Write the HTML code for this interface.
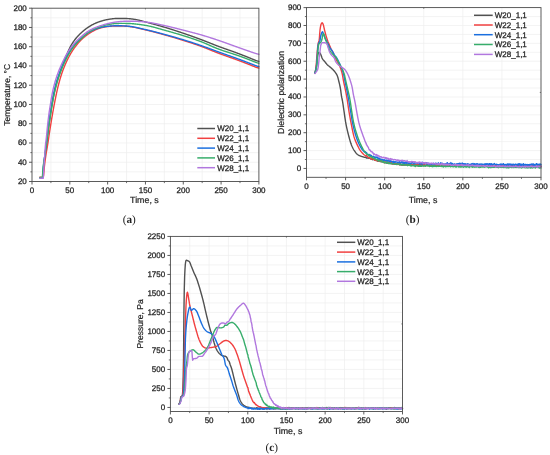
<!DOCTYPE html>
<html><head><meta charset="utf-8"><title>Figure</title>
<style>
html,body{margin:0;padding:0;background:#fff;}
svg{display:block;text-rendering:geometricPrecision;}
.t{font-family:"Liberation Sans",Arial,sans-serif;font-size:8px;fill:#262626;stroke:#262626;stroke-width:0.28px;}
.l{font-family:"Liberation Sans",Arial,sans-serif;font-size:8.85px;fill:#262626;stroke:#262626;stroke-width:0.22px;}
.c{font-family:"Liberation Serif","Times New Roman",serif;font-size:11.2px;fill:#222;}
</style></head><body>
<svg width="550" height="455" viewBox="0 0 550 455">
<defs>
<clipPath id="ca"><rect x="32.00" y="8.20" width="227.90" height="173.30"/></clipPath>
<clipPath id="cb"><rect x="306.50" y="7.60" width="235.50" height="169.70"/></clipPath>
<clipPath id="cc"><rect x="170.40" y="236.40" width="233.10" height="175.05"/></clipPath>
</defs>
<rect width="550" height="455" fill="#fff"/>
<!-- chart a -->
<line x1="50.91" y1="8.20" x2="50.91" y2="181.50" stroke="#eeeeee" stroke-width="0.7"/>
<line x1="69.82" y1="8.20" x2="69.82" y2="181.50" stroke="#eeeeee" stroke-width="0.7"/>
<line x1="88.72" y1="8.20" x2="88.72" y2="181.50" stroke="#eeeeee" stroke-width="0.7"/>
<line x1="107.63" y1="8.20" x2="107.63" y2="181.50" stroke="#eeeeee" stroke-width="0.7"/>
<line x1="126.54" y1="8.20" x2="126.54" y2="181.50" stroke="#eeeeee" stroke-width="0.7"/>
<line x1="145.45" y1="8.20" x2="145.45" y2="181.50" stroke="#eeeeee" stroke-width="0.7"/>
<line x1="164.36" y1="8.20" x2="164.36" y2="181.50" stroke="#eeeeee" stroke-width="0.7"/>
<line x1="183.27" y1="8.20" x2="183.27" y2="181.50" stroke="#eeeeee" stroke-width="0.7"/>
<line x1="202.17" y1="8.20" x2="202.17" y2="181.50" stroke="#eeeeee" stroke-width="0.7"/>
<line x1="221.08" y1="8.20" x2="221.08" y2="181.50" stroke="#eeeeee" stroke-width="0.7"/>
<line x1="239.99" y1="8.20" x2="239.99" y2="181.50" stroke="#eeeeee" stroke-width="0.7"/>
<line x1="32.00" y1="171.87" x2="258.90" y2="171.87" stroke="#eeeeee" stroke-width="0.7"/>
<line x1="32.00" y1="162.24" x2="258.90" y2="162.24" stroke="#eeeeee" stroke-width="0.7"/>
<line x1="32.00" y1="152.62" x2="258.90" y2="152.62" stroke="#eeeeee" stroke-width="0.7"/>
<line x1="32.00" y1="142.99" x2="258.90" y2="142.99" stroke="#eeeeee" stroke-width="0.7"/>
<line x1="32.00" y1="133.36" x2="258.90" y2="133.36" stroke="#eeeeee" stroke-width="0.7"/>
<line x1="32.00" y1="123.73" x2="258.90" y2="123.73" stroke="#eeeeee" stroke-width="0.7"/>
<line x1="32.00" y1="114.11" x2="258.90" y2="114.11" stroke="#eeeeee" stroke-width="0.7"/>
<line x1="32.00" y1="104.48" x2="258.90" y2="104.48" stroke="#eeeeee" stroke-width="0.7"/>
<line x1="32.00" y1="94.85" x2="258.90" y2="94.85" stroke="#eeeeee" stroke-width="0.7"/>
<line x1="32.00" y1="85.22" x2="258.90" y2="85.22" stroke="#eeeeee" stroke-width="0.7"/>
<line x1="32.00" y1="75.59" x2="258.90" y2="75.59" stroke="#eeeeee" stroke-width="0.7"/>
<line x1="32.00" y1="65.97" x2="258.90" y2="65.97" stroke="#eeeeee" stroke-width="0.7"/>
<line x1="32.00" y1="56.34" x2="258.90" y2="56.34" stroke="#eeeeee" stroke-width="0.7"/>
<line x1="32.00" y1="46.71" x2="258.90" y2="46.71" stroke="#eeeeee" stroke-width="0.7"/>
<line x1="32.00" y1="37.08" x2="258.90" y2="37.08" stroke="#eeeeee" stroke-width="0.7"/>
<line x1="32.00" y1="27.46" x2="258.90" y2="27.46" stroke="#eeeeee" stroke-width="0.7"/>
<line x1="32.00" y1="17.83" x2="258.90" y2="17.83" stroke="#eeeeee" stroke-width="0.7"/>
<g clip-path="url(#ca)">
<path d="M40.02 178.03 L40.42 178.03 L40.82 178.03 L41.22 178.03 L41.62 178.03 L42.02 178.03 L42.42 178.03 L42.82 178.03 L43.22 174.65 L43.62 166.55 L44.02 162.79 L44.42 159.92 L44.82 157.35 L45.22 154.49 L45.62 151.40 L46.02 148.30 L46.42 145.17 L46.82 141.99 L47.22 138.72 L47.62 135.31 L48.02 131.92 L48.42 128.66 L48.82 125.58 L49.22 122.71 L49.62 120.03 L50.02 117.46 L50.42 114.79 L50.82 112.12 L51.22 109.54 L51.62 107.04 L52.02 104.64 L52.42 102.33 L52.82 100.10 L53.22 97.97 L53.62 95.93 L54.02 93.97 L54.42 92.10 L54.82 90.31 L55.22 88.59 L55.62 86.95 L56.02 85.38 L56.42 83.87 L56.82 82.42 L57.22 81.03 L57.62 79.68 L58.02 78.37 L58.42 77.10 L58.82 75.87 L59.22 74.66 L59.62 73.48 L60.02 72.32 L60.42 71.18 L60.82 70.05 L61.22 68.94 L61.62 67.84 L62.02 66.75 L62.42 65.67 L62.82 64.60 L63.22 63.54 L63.62 62.48 L64.02 61.44 L64.42 60.40 L64.82 59.38 L65.22 58.36 L65.62 57.35 L66.02 56.36 L66.42 55.38 L66.82 54.41 L67.22 53.46 L67.62 52.53 L68.02 51.62 L68.42 50.73 L68.82 49.86 L69.22 49.02 L69.62 48.20 L70.02 47.41 L70.42 46.65 L70.82 45.91 L71.22 45.20 L71.62 44.51 L72.02 43.85 L72.42 43.21 L72.82 42.59 L73.22 41.99 L73.62 41.41 L74.02 40.85 L74.42 40.30 L74.82 39.77 L75.22 39.26 L75.62 38.76 L76.02 38.27 L76.42 37.79 L76.82 37.32 L77.22 36.87 L77.62 36.42 L78.02 35.99 L78.42 35.56 L78.82 35.15 L79.22 34.74 L79.62 34.34 L80.02 33.95 L80.42 33.56 L80.82 33.19 L81.22 32.82 L81.62 32.45 L82.02 32.09 L82.42 31.74 L82.82 31.39 L83.22 31.05 L83.62 30.71 L84.02 30.38 L84.42 30.06 L84.82 29.73 L85.22 29.42 L85.62 29.11 L86.02 28.81 L86.42 28.51 L86.82 28.22 L87.22 27.93 L87.62 27.65 L88.02 27.38 L88.42 27.11 L88.82 26.85 L89.22 26.59 L89.62 26.34 L90.02 26.10 L90.42 25.86 L90.82 25.63 L91.22 25.40 L91.62 25.17 L92.02 24.95 L92.42 24.74 L92.82 24.53 L93.22 24.32 L93.62 24.12 L94.02 23.92 L94.42 23.73 L94.82 23.54 L95.22 23.36 L95.62 23.18 L96.02 23.01 L96.42 22.84 L96.82 22.67 L97.22 22.51 L97.62 22.35 L98.02 22.20 L98.42 22.05 L98.82 21.90 L99.22 21.76 L99.62 21.62 L100.02 21.48 L100.42 21.35 L100.82 21.22 L101.22 21.10 L101.62 20.97 L102.02 20.85 L102.42 20.74 L102.82 20.62 L103.22 20.51 L103.62 20.41 L104.02 20.30 L104.42 20.20 L104.82 20.10 L105.22 20.01 L105.62 19.92 L106.02 19.83 L106.42 19.75 L106.82 19.67 L107.22 19.59 L107.62 19.52 L108.02 19.44 L108.42 19.37 L108.82 19.31 L109.22 19.24 L109.62 19.18 L110.02 19.11 L110.42 19.06 L110.82 19.00 L111.22 18.94 L111.62 18.89 L112.02 18.84 L112.42 18.79 L112.82 18.75 L113.22 18.71 L113.62 18.67 L114.02 18.63 L114.42 18.60 L114.82 18.57 L115.22 18.54 L115.62 18.52 L116.02 18.50 L116.42 18.48 L116.82 18.47 L117.22 18.45 L117.62 18.45 L118.02 18.44 L118.42 18.43 L118.82 18.43 L119.22 18.43 L119.62 18.43 L120.02 18.43 L120.42 18.43 L120.82 18.43 L121.22 18.43 L121.62 18.44 L122.02 18.44 L122.42 18.45 L122.82 18.45 L123.22 18.46 L123.62 18.46 L124.02 18.47 L124.42 18.48 L124.82 18.49 L125.22 18.50 L125.62 18.51 L126.02 18.52 L126.42 18.54 L126.82 18.55 L127.22 18.57 L127.62 18.59 L128.02 18.62 L128.42 18.64 L128.82 18.67 L129.22 18.70 L129.62 18.74 L130.02 18.77 L130.42 18.81 L130.82 18.85 L131.22 18.90 L131.62 18.94 L132.02 18.99 L132.42 19.04 L132.82 19.09 L133.22 19.15 L133.62 19.20 L134.02 19.26 L134.42 19.32 L134.82 19.39 L135.22 19.45 L135.62 19.52 L136.02 19.59 L136.42 19.67 L136.82 19.75 L137.22 19.83 L137.62 19.91 L138.02 20.00 L138.42 20.09 L138.82 20.18 L139.22 20.28 L139.62 20.38 L140.02 20.48 L140.42 20.58 L140.82 20.69 L141.22 20.79 L141.62 20.90 L142.02 21.01 L142.42 21.12 L142.82 21.23 L143.22 21.34 L143.62 21.45 L144.02 21.56 L144.42 21.67 L144.82 21.78 L145.22 21.89 L145.62 22.00 L146.02 22.11 L146.42 22.21 L146.82 22.32 L147.22 22.43 L147.62 22.54 L148.02 22.64 L148.42 22.75 L148.82 22.86 L149.22 22.96 L149.62 23.07 L150.02 23.18 L150.42 23.28 L150.82 23.39 L151.22 23.50 L151.62 23.61 L152.02 23.71 L152.42 23.82 L152.82 23.93 L153.22 24.04 L153.62 24.15 L154.02 24.25 L154.42 24.36 L154.82 24.47 L155.22 24.58 L155.62 24.69 L156.02 24.80 L156.42 24.91 L156.82 25.02 L157.22 25.13 L157.62 25.24 L158.02 25.35 L158.42 25.47 L158.82 25.58 L159.22 25.69 L159.62 25.80 L160.02 25.92 L160.42 26.03 L160.82 26.15 L161.22 26.26 L161.62 26.38 L162.02 26.49 L162.42 26.61 L162.82 26.72 L163.22 26.84 L163.62 26.96 L164.02 27.08 L164.42 27.19 L164.82 27.31 L165.22 27.43 L165.62 27.55 L166.02 27.67 L166.42 27.79 L166.82 27.91 L167.22 28.04 L167.62 28.16 L168.02 28.28 L168.42 28.40 L168.82 28.53 L169.22 28.65 L169.62 28.78 L170.02 28.90 L170.42 29.03 L170.82 29.15 L171.22 29.28 L171.62 29.41 L172.02 29.53 L172.42 29.66 L172.82 29.79 L173.22 29.92 L173.62 30.05 L174.02 30.17 L174.42 30.30 L174.82 30.43 L175.22 30.56 L175.62 30.69 L176.02 30.82 L176.42 30.95 L176.82 31.09 L177.22 31.22 L177.62 31.35 L178.02 31.48 L178.42 31.61 L178.82 31.75 L179.22 31.88 L179.62 32.01 L180.02 32.15 L180.42 32.28 L180.82 32.41 L181.22 32.55 L181.62 32.68 L182.02 32.82 L182.42 32.95 L182.82 33.09 L183.22 33.22 L183.62 33.36 L184.02 33.49 L184.42 33.63 L184.82 33.76 L185.22 33.90 L185.62 34.04 L186.02 34.17 L186.42 34.31 L186.82 34.45 L187.22 34.59 L187.62 34.73 L188.02 34.86 L188.42 35.00 L188.82 35.14 L189.22 35.28 L189.62 35.42 L190.02 35.56 L190.42 35.70 L190.82 35.84 L191.22 35.99 L191.62 36.13 L192.02 36.27 L192.42 36.41 L192.82 36.55 L193.22 36.70 L193.62 36.84 L194.02 36.98 L194.42 37.13 L194.82 37.27 L195.22 37.42 L195.62 37.56 L196.02 37.70 L196.42 37.85 L196.82 38.00 L197.22 38.14 L197.62 38.29 L198.02 38.44 L198.42 38.58 L198.82 38.73 L199.22 38.88 L199.62 39.03 L200.02 39.17 L200.42 39.32 L200.82 39.47 L201.22 39.62 L201.62 39.77 L202.02 39.92 L202.42 40.08 L202.82 40.23 L203.22 40.38 L203.62 40.53 L204.02 40.69 L204.42 40.84 L204.82 41.00 L205.22 41.16 L205.62 41.31 L206.02 41.47 L206.42 41.63 L206.82 41.79 L207.22 41.94 L207.62 42.10 L208.02 42.26 L208.42 42.42 L208.82 42.58 L209.22 42.74 L209.62 42.90 L210.02 43.06 L210.42 43.22 L210.82 43.38 L211.22 43.54 L211.62 43.70 L212.02 43.86 L212.42 44.02 L212.82 44.18 L213.22 44.34 L213.62 44.50 L214.02 44.66 L214.42 44.81 L214.82 44.97 L215.22 45.12 L215.62 45.28 L216.02 45.43 L216.42 45.59 L216.82 45.74 L217.22 45.89 L217.62 46.04 L218.02 46.20 L218.42 46.35 L218.82 46.49 L219.22 46.64 L219.62 46.79 L220.02 46.94 L220.42 47.09 L220.82 47.23 L221.22 47.38 L221.62 47.52 L222.02 47.67 L222.42 47.81 L222.82 47.95 L223.22 48.10 L223.62 48.24 L224.02 48.38 L224.42 48.53 L224.82 48.67 L225.22 48.81 L225.62 48.95 L226.02 49.09 L226.42 49.23 L226.82 49.37 L227.22 49.52 L227.62 49.66 L228.02 49.80 L228.42 49.94 L228.82 50.08 L229.22 50.22 L229.62 50.36 L230.02 50.50 L230.42 50.64 L230.82 50.78 L231.22 50.93 L231.62 51.07 L232.02 51.21 L232.42 51.35 L232.82 51.49 L233.22 51.64 L233.62 51.78 L234.02 51.92 L234.42 52.07 L234.82 52.21 L235.22 52.36 L235.62 52.50 L236.02 52.65 L236.42 52.80 L236.82 52.95 L237.22 53.09 L237.62 53.24 L238.02 53.39 L238.42 53.54 L238.82 53.69 L239.22 53.84 L239.62 53.99 L240.02 54.15 L240.42 54.30 L240.82 54.45 L241.22 54.61 L241.62 54.76 L242.02 54.92 L242.42 55.07 L242.82 55.23 L243.22 55.38 L243.62 55.54 L244.02 55.70 L244.42 55.86 L244.82 56.01 L245.22 56.17 L245.62 56.33 L246.02 56.49 L246.42 56.65 L246.82 56.81 L247.22 56.97 L247.62 57.13 L248.02 57.30 L248.42 57.46 L248.82 57.62 L249.22 57.78 L249.62 57.95 L250.02 58.11 L250.42 58.27 L250.82 58.44 L251.22 58.60 L251.62 58.77 L252.02 58.93 L252.42 59.10 L252.82 59.26 L253.22 59.43 L253.62 59.59 L254.02 59.75 L254.42 59.92 L254.82 60.08 L255.22 60.24 L255.62 60.39 L256.02 60.54 L256.42 60.68 L256.82 60.82 L257.22 60.95 L257.62 61.08 L258.02 61.19 L258.42 61.29 L258.82 61.38 L258.90 61.47" fill="none" stroke="#515151" stroke-width="1.40" stroke-linejoin="round" stroke-linecap="round"/>
<path d="M40.02 177.07 L40.42 177.17 L40.82 177.24 L41.22 177.29 L41.62 177.32 L42.02 177.34 L42.42 177.35 L42.82 177.36 L43.22 177.36 L43.62 175.42 L44.02 170.54 L44.42 166.30 L44.82 163.02 L45.22 159.94 L45.62 157.06 L46.02 154.36 L46.42 151.89 L46.82 149.59 L47.22 147.35 L47.62 144.99 L48.02 142.45 L48.42 139.78 L48.82 137.00 L49.22 134.23 L49.62 131.55 L50.02 129.02 L50.42 126.53 L50.82 124.04 L51.22 121.60 L51.62 119.19 L52.02 116.83 L52.42 114.52 L52.82 112.25 L53.22 110.03 L53.62 107.85 L54.02 105.71 L54.42 103.61 L54.82 101.54 L55.22 99.52 L55.62 97.54 L56.02 95.60 L56.42 93.71 L56.82 91.87 L57.22 90.08 L57.62 88.34 L58.02 86.66 L58.42 85.03 L58.82 83.46 L59.22 81.95 L59.62 80.50 L60.02 79.10 L60.42 77.75 L60.82 76.45 L61.22 75.19 L61.62 73.98 L62.02 72.80 L62.42 71.67 L62.82 70.57 L63.22 69.50 L63.62 68.46 L64.02 67.44 L64.42 66.45 L64.82 65.49 L65.22 64.55 L65.62 63.63 L66.02 62.73 L66.42 61.86 L66.82 61.00 L67.22 60.16 L67.62 59.34 L68.02 58.54 L68.42 57.76 L68.82 56.99 L69.22 56.24 L69.62 55.51 L70.02 54.79 L70.42 54.09 L70.82 53.41 L71.22 52.74 L71.62 52.08 L72.02 51.44 L72.42 50.81 L72.82 50.20 L73.22 49.60 L73.62 49.01 L74.02 48.44 L74.42 47.88 L74.82 47.33 L75.22 46.79 L75.62 46.26 L76.02 45.74 L76.42 45.24 L76.82 44.74 L77.22 44.25 L77.62 43.77 L78.02 43.30 L78.42 42.84 L78.82 42.39 L79.22 41.94 L79.62 41.51 L80.02 41.08 L80.42 40.66 L80.82 40.25 L81.22 39.85 L81.62 39.46 L82.02 39.07 L82.42 38.69 L82.82 38.33 L83.22 37.97 L83.62 37.61 L84.02 37.27 L84.42 36.94 L84.82 36.61 L85.22 36.29 L85.62 35.98 L86.02 35.68 L86.42 35.38 L86.82 35.09 L87.22 34.80 L87.62 34.52 L88.02 34.25 L88.42 33.98 L88.82 33.71 L89.22 33.45 L89.62 33.19 L90.02 32.94 L90.42 32.69 L90.82 32.44 L91.22 32.19 L91.62 31.95 L92.02 31.72 L92.42 31.48 L92.82 31.25 L93.22 31.03 L93.62 30.81 L94.02 30.59 L94.42 30.38 L94.82 30.18 L95.22 29.98 L95.62 29.79 L96.02 29.61 L96.42 29.43 L96.82 29.26 L97.22 29.10 L97.62 28.94 L98.02 28.79 L98.42 28.65 L98.82 28.51 L99.22 28.38 L99.62 28.25 L100.02 28.13 L100.42 28.01 L100.82 27.89 L101.22 27.78 L101.62 27.68 L102.02 27.58 L102.42 27.48 L102.82 27.39 L103.22 27.29 L103.62 27.21 L104.02 27.13 L104.42 27.05 L104.82 26.97 L105.22 26.90 L105.62 26.83 L106.02 26.77 L106.42 26.71 L106.82 26.65 L107.22 26.60 L107.62 26.55 L108.02 26.50 L108.42 26.46 L108.82 26.42 L109.22 26.37 L109.62 26.34 L110.02 26.30 L110.42 26.27 L110.82 26.23 L111.22 26.20 L111.62 26.17 L112.02 26.15 L112.42 26.12 L112.82 26.09 L113.22 26.07 L113.62 26.05 L114.02 26.03 L114.42 26.02 L114.82 26.00 L115.22 25.99 L115.62 25.98 L116.02 25.97 L116.42 25.96 L116.82 25.96 L117.22 25.95 L117.62 25.95 L118.02 25.95 L118.42 25.95 L118.82 25.95 L119.22 25.96 L119.62 25.97 L120.02 25.97 L120.42 25.98 L120.82 25.99 L121.22 26.00 L121.62 26.01 L122.02 26.03 L122.42 26.04 L122.82 26.05 L123.22 26.07 L123.62 26.09 L124.02 26.10 L124.42 26.12 L124.82 26.14 L125.22 26.16 L125.62 26.19 L126.02 26.21 L126.42 26.24 L126.82 26.27 L127.22 26.30 L127.62 26.33 L128.02 26.37 L128.42 26.41 L128.82 26.45 L129.22 26.49 L129.62 26.54 L130.02 26.59 L130.42 26.64 L130.82 26.70 L131.22 26.76 L131.62 26.82 L132.02 26.88 L132.42 26.95 L132.82 27.02 L133.22 27.09 L133.62 27.17 L134.02 27.25 L134.42 27.32 L134.82 27.40 L135.22 27.49 L135.62 27.57 L136.02 27.66 L136.42 27.75 L136.82 27.83 L137.22 27.92 L137.62 28.01 L138.02 28.11 L138.42 28.20 L138.82 28.29 L139.22 28.39 L139.62 28.48 L140.02 28.58 L140.42 28.67 L140.82 28.77 L141.22 28.86 L141.62 28.96 L142.02 29.05 L142.42 29.15 L142.82 29.24 L143.22 29.34 L143.62 29.43 L144.02 29.53 L144.42 29.62 L144.82 29.71 L145.22 29.81 L145.62 29.90 L146.02 29.99 L146.42 30.09 L146.82 30.18 L147.22 30.28 L147.62 30.37 L148.02 30.46 L148.42 30.56 L148.82 30.66 L149.22 30.75 L149.62 30.85 L150.02 30.95 L150.42 31.05 L150.82 31.15 L151.22 31.25 L151.62 31.35 L152.02 31.45 L152.42 31.55 L152.82 31.65 L153.22 31.76 L153.62 31.86 L154.02 31.96 L154.42 32.07 L154.82 32.17 L155.22 32.28 L155.62 32.39 L156.02 32.49 L156.42 32.60 L156.82 32.71 L157.22 32.81 L157.62 32.92 L158.02 33.03 L158.42 33.14 L158.82 33.25 L159.22 33.36 L159.62 33.47 L160.02 33.58 L160.42 33.69 L160.82 33.80 L161.22 33.91 L161.62 34.02 L162.02 34.13 L162.42 34.24 L162.82 34.35 L163.22 34.46 L163.62 34.57 L164.02 34.68 L164.42 34.79 L164.82 34.90 L165.22 35.02 L165.62 35.13 L166.02 35.24 L166.42 35.35 L166.82 35.46 L167.22 35.58 L167.62 35.69 L168.02 35.80 L168.42 35.92 L168.82 36.03 L169.22 36.15 L169.62 36.26 L170.02 36.37 L170.42 36.49 L170.82 36.61 L171.22 36.72 L171.62 36.84 L172.02 36.95 L172.42 37.07 L172.82 37.19 L173.22 37.31 L173.62 37.42 L174.02 37.54 L174.42 37.66 L174.82 37.78 L175.22 37.90 L175.62 38.02 L176.02 38.14 L176.42 38.26 L176.82 38.38 L177.22 38.50 L177.62 38.62 L178.02 38.74 L178.42 38.86 L178.82 38.98 L179.22 39.11 L179.62 39.23 L180.02 39.35 L180.42 39.48 L180.82 39.60 L181.22 39.72 L181.62 39.85 L182.02 39.97 L182.42 40.10 L182.82 40.22 L183.22 40.35 L183.62 40.47 L184.02 40.60 L184.42 40.72 L184.82 40.85 L185.22 40.98 L185.62 41.11 L186.02 41.23 L186.42 41.36 L186.82 41.49 L187.22 41.62 L187.62 41.75 L188.02 41.87 L188.42 42.00 L188.82 42.13 L189.22 42.26 L189.62 42.39 L190.02 42.52 L190.42 42.66 L190.82 42.79 L191.22 42.92 L191.62 43.05 L192.02 43.18 L192.42 43.32 L192.82 43.45 L193.22 43.58 L193.62 43.72 L194.02 43.85 L194.42 43.99 L194.82 44.13 L195.22 44.26 L195.62 44.40 L196.02 44.54 L196.42 44.67 L196.82 44.81 L197.22 44.95 L197.62 45.09 L198.02 45.23 L198.42 45.37 L198.82 45.51 L199.22 45.66 L199.62 45.80 L200.02 45.94 L200.42 46.09 L200.82 46.23 L201.22 46.38 L201.62 46.53 L202.02 46.67 L202.42 46.82 L202.82 46.97 L203.22 47.12 L203.62 47.28 L204.02 47.43 L204.42 47.58 L204.82 47.74 L205.22 47.90 L205.62 48.05 L206.02 48.21 L206.42 48.37 L206.82 48.53 L207.22 48.69 L207.62 48.85 L208.02 49.02 L208.42 49.18 L208.82 49.34 L209.22 49.51 L209.62 49.67 L210.02 49.83 L210.42 50.00 L210.82 50.16 L211.22 50.33 L211.62 50.49 L212.02 50.65 L212.42 50.82 L212.82 50.98 L213.22 51.14 L213.62 51.30 L214.02 51.47 L214.42 51.63 L214.82 51.79 L215.22 51.94 L215.62 52.10 L216.02 52.26 L216.42 52.42 L216.82 52.57 L217.22 52.72 L217.62 52.88 L218.02 53.03 L218.42 53.18 L218.82 53.33 L219.22 53.48 L219.62 53.63 L220.02 53.78 L220.42 53.93 L220.82 54.08 L221.22 54.22 L221.62 54.37 L222.02 54.51 L222.42 54.66 L222.82 54.80 L223.22 54.95 L223.62 55.09 L224.02 55.23 L224.42 55.38 L224.82 55.52 L225.22 55.66 L225.62 55.80 L226.02 55.95 L226.42 56.09 L226.82 56.23 L227.22 56.37 L227.62 56.51 L228.02 56.65 L228.42 56.79 L228.82 56.94 L229.22 57.08 L229.62 57.22 L230.02 57.36 L230.42 57.50 L230.82 57.64 L231.22 57.78 L231.62 57.92 L232.02 58.07 L232.42 58.21 L232.82 58.35 L233.22 58.49 L233.62 58.63 L234.02 58.78 L234.42 58.92 L234.82 59.07 L235.22 59.21 L235.62 59.35 L236.02 59.50 L236.42 59.65 L236.82 59.79 L237.22 59.94 L237.62 60.09 L238.02 60.23 L238.42 60.38 L238.82 60.53 L239.22 60.68 L239.62 60.83 L240.02 60.98 L240.42 61.13 L240.82 61.28 L241.22 61.43 L241.62 61.59 L242.02 61.74 L242.42 61.89 L242.82 62.05 L243.22 62.20 L243.62 62.35 L244.02 62.51 L244.42 62.66 L244.82 62.82 L245.22 62.97 L245.62 63.13 L246.02 63.29 L246.42 63.44 L246.82 63.60 L247.22 63.76 L247.62 63.91 L248.02 64.07 L248.42 64.23 L248.82 64.39 L249.22 64.55 L249.62 64.71 L250.02 64.87 L250.42 65.02 L250.82 65.18 L251.22 65.34 L251.62 65.50 L252.02 65.67 L252.42 65.83 L252.82 65.99 L253.22 66.15 L253.62 66.31 L254.02 66.46 L254.42 66.62 L254.82 66.78 L255.22 66.93 L255.62 67.08 L256.02 67.22 L256.42 67.36 L256.82 67.50 L257.22 67.63 L257.62 67.74 L258.02 67.85 L258.42 67.95 L258.82 68.04 L258.90 68.12" fill="none" stroke="#F14040" stroke-width="1.40" stroke-linejoin="round" stroke-linecap="round"/>
<path d="M40.02 177.84 L40.42 177.84 L40.82 177.84 L41.22 177.84 L41.62 177.84 L42.02 177.84 L42.42 177.84 L42.82 175.81 L43.22 168.66 L43.62 164.61 L44.02 161.32 L44.42 158.40 L44.82 155.52 L45.22 152.44 L45.62 149.40 L46.02 146.39 L46.42 143.33 L46.82 140.16 L47.22 136.76 L47.62 133.20 L48.02 129.70 L48.42 126.37 L48.82 123.25 L49.22 120.36 L49.62 117.63 L50.02 115.01 L50.42 112.29 L50.82 109.59 L51.22 106.99 L51.62 104.48 L52.02 102.08 L52.42 99.78 L52.82 97.59 L53.22 95.50 L53.62 93.51 L54.02 91.62 L54.42 89.83 L54.82 88.12 L55.22 86.51 L55.62 84.97 L56.02 83.50 L56.42 82.09 L56.82 80.75 L57.22 79.46 L57.62 78.22 L58.02 77.02 L58.42 75.86 L58.82 74.73 L59.22 73.64 L59.62 72.57 L60.02 71.52 L60.42 70.50 L60.82 69.49 L61.22 68.51 L61.62 67.54 L62.02 66.58 L62.42 65.65 L62.82 64.72 L63.22 63.82 L63.62 62.92 L64.02 62.05 L64.42 61.18 L64.82 60.34 L65.22 59.51 L65.62 58.69 L66.02 57.90 L66.42 57.11 L66.82 56.35 L67.22 55.60 L67.62 54.87 L68.02 54.15 L68.42 53.46 L68.82 52.77 L69.22 52.11 L69.62 51.46 L70.02 50.83 L70.42 50.21 L70.82 49.61 L71.22 49.03 L71.62 48.46 L72.02 47.91 L72.42 47.38 L72.82 46.86 L73.22 46.35 L73.62 45.86 L74.02 45.38 L74.42 44.91 L74.82 44.46 L75.22 44.01 L75.62 43.58 L76.02 43.16 L76.42 42.74 L76.82 42.34 L77.22 41.94 L77.62 41.54 L78.02 41.16 L78.42 40.78 L78.82 40.40 L79.22 40.03 L79.62 39.67 L80.02 39.31 L80.42 38.95 L80.82 38.59 L81.22 38.24 L81.62 37.89 L82.02 37.55 L82.42 37.21 L82.82 36.87 L83.22 36.53 L83.62 36.19 L84.02 35.87 L84.42 35.54 L84.82 35.22 L85.22 34.90 L85.62 34.59 L86.02 34.29 L86.42 34.00 L86.82 33.71 L87.22 33.43 L87.62 33.15 L88.02 32.89 L88.42 32.63 L88.82 32.38 L89.22 32.13 L89.62 31.90 L90.02 31.67 L90.42 31.45 L90.82 31.23 L91.22 31.02 L91.62 30.82 L92.02 30.62 L92.42 30.43 L92.82 30.24 L93.22 30.06 L93.62 29.88 L94.02 29.71 L94.42 29.54 L94.82 29.38 L95.22 29.22 L95.62 29.07 L96.02 28.92 L96.42 28.78 L96.82 28.64 L97.22 28.51 L97.62 28.38 L98.02 28.25 L98.42 28.13 L98.82 28.01 L99.22 27.90 L99.62 27.79 L100.02 27.68 L100.42 27.58 L100.82 27.48 L101.22 27.38 L101.62 27.28 L102.02 27.19 L102.42 27.10 L102.82 27.02 L103.22 26.94 L103.62 26.86 L104.02 26.78 L104.42 26.71 L104.82 26.64 L105.22 26.58 L105.62 26.52 L106.02 26.46 L106.42 26.40 L106.82 26.35 L107.22 26.31 L107.62 26.26 L108.02 26.22 L108.42 26.18 L108.82 26.14 L109.22 26.11 L109.62 26.08 L110.02 26.04 L110.42 26.01 L110.82 25.99 L111.22 25.96 L111.62 25.94 L112.02 25.91 L112.42 25.89 L112.82 25.87 L113.22 25.85 L113.62 25.84 L114.02 25.82 L114.42 25.81 L114.82 25.79 L115.22 25.78 L115.62 25.77 L116.02 25.77 L116.42 25.76 L116.82 25.76 L117.22 25.76 L117.62 25.75 L118.02 25.76 L118.42 25.76 L118.82 25.76 L119.22 25.77 L119.62 25.77 L120.02 25.78 L120.42 25.79 L120.82 25.80 L121.22 25.81 L121.62 25.82 L122.02 25.83 L122.42 25.85 L122.82 25.86 L123.22 25.88 L123.62 25.89 L124.02 25.91 L124.42 25.93 L124.82 25.95 L125.22 25.97 L125.62 25.99 L126.02 26.02 L126.42 26.04 L126.82 26.07 L127.22 26.10 L127.62 26.14 L128.02 26.17 L128.42 26.21 L128.82 26.25 L129.22 26.29 L129.62 26.34 L130.02 26.39 L130.42 26.44 L130.82 26.49 L131.22 26.55 L131.62 26.61 L132.02 26.68 L132.42 26.74 L132.82 26.81 L133.22 26.88 L133.62 26.95 L134.02 27.03 L134.42 27.10 L134.82 27.18 L135.22 27.26 L135.62 27.34 L136.02 27.43 L136.42 27.51 L136.82 27.60 L137.22 27.69 L137.62 27.78 L138.02 27.86 L138.42 27.95 L138.82 28.05 L139.22 28.14 L139.62 28.23 L140.02 28.32 L140.42 28.41 L140.82 28.51 L141.22 28.60 L141.62 28.69 L142.02 28.79 L142.42 28.88 L142.82 28.97 L143.22 29.06 L143.62 29.15 L144.02 29.25 L144.42 29.34 L144.82 29.43 L145.22 29.52 L145.62 29.61 L146.02 29.70 L146.42 29.79 L146.82 29.89 L147.22 29.98 L147.62 30.07 L148.02 30.16 L148.42 30.26 L148.82 30.35 L149.22 30.45 L149.62 30.54 L150.02 30.64 L150.42 30.74 L150.82 30.83 L151.22 30.93 L151.62 31.03 L152.02 31.13 L152.42 31.23 L152.82 31.33 L153.22 31.43 L153.62 31.53 L154.02 31.64 L154.42 31.74 L154.82 31.84 L155.22 31.95 L155.62 32.05 L156.02 32.16 L156.42 32.26 L156.82 32.37 L157.22 32.47 L157.62 32.58 L158.02 32.68 L158.42 32.79 L158.82 32.90 L159.22 33.00 L159.62 33.11 L160.02 33.22 L160.42 33.33 L160.82 33.43 L161.22 33.54 L161.62 33.65 L162.02 33.76 L162.42 33.86 L162.82 33.97 L163.22 34.08 L163.62 34.19 L164.02 34.30 L164.42 34.41 L164.82 34.51 L165.22 34.62 L165.62 34.73 L166.02 34.84 L166.42 34.95 L166.82 35.06 L167.22 35.17 L167.62 35.28 L168.02 35.39 L168.42 35.50 L168.82 35.61 L169.22 35.72 L169.62 35.83 L170.02 35.94 L170.42 36.05 L170.82 36.16 L171.22 36.27 L171.62 36.39 L172.02 36.50 L172.42 36.61 L172.82 36.72 L173.22 36.84 L173.62 36.95 L174.02 37.06 L174.42 37.18 L174.82 37.29 L175.22 37.41 L175.62 37.52 L176.02 37.64 L176.42 37.75 L176.82 37.87 L177.22 37.99 L177.62 38.10 L178.02 38.22 L178.42 38.34 L178.82 38.45 L179.22 38.57 L179.62 38.69 L180.02 38.81 L180.42 38.93 L180.82 39.05 L181.22 39.17 L181.62 39.29 L182.02 39.41 L182.42 39.53 L182.82 39.65 L183.22 39.77 L183.62 39.89 L184.02 40.02 L184.42 40.14 L184.82 40.26 L185.22 40.38 L185.62 40.51 L186.02 40.63 L186.42 40.76 L186.82 40.88 L187.22 41.01 L187.62 41.13 L188.02 41.26 L188.42 41.38 L188.82 41.51 L189.22 41.64 L189.62 41.77 L190.02 41.89 L190.42 42.02 L190.82 42.15 L191.22 42.28 L191.62 42.41 L192.02 42.54 L192.42 42.67 L192.82 42.80 L193.22 42.93 L193.62 43.06 L194.02 43.19 L194.42 43.32 L194.82 43.45 L195.22 43.59 L195.62 43.72 L196.02 43.85 L196.42 43.99 L196.82 44.12 L197.22 44.25 L197.62 44.39 L198.02 44.52 L198.42 44.66 L198.82 44.80 L199.22 44.93 L199.62 45.07 L200.02 45.21 L200.42 45.34 L200.82 45.48 L201.22 45.62 L201.62 45.76 L202.02 45.90 L202.42 46.04 L202.82 46.18 L203.22 46.32 L203.62 46.46 L204.02 46.60 L204.42 46.75 L204.82 46.89 L205.22 47.04 L205.62 47.18 L206.02 47.33 L206.42 47.47 L206.82 47.62 L207.22 47.77 L207.62 47.92 L208.02 48.06 L208.42 48.21 L208.82 48.36 L209.22 48.51 L209.62 48.66 L210.02 48.81 L210.42 48.96 L210.82 49.11 L211.22 49.26 L211.62 49.41 L212.02 49.56 L212.42 49.71 L212.82 49.86 L213.22 50.01 L213.62 50.16 L214.02 50.31 L214.42 50.45 L214.82 50.60 L215.22 50.75 L215.62 50.90 L216.02 51.05 L216.42 51.19 L216.82 51.34 L217.22 51.49 L217.62 51.63 L218.02 51.78 L218.42 51.92 L218.82 52.07 L219.22 52.21 L219.62 52.35 L220.02 52.50 L220.42 52.64 L220.82 52.78 L221.22 52.93 L221.62 53.07 L222.02 53.21 L222.42 53.35 L222.82 53.49 L223.22 53.63 L223.62 53.78 L224.02 53.92 L224.42 54.06 L224.82 54.20 L225.22 54.34 L225.62 54.48 L226.02 54.62 L226.42 54.76 L226.82 54.90 L227.22 55.04 L227.62 55.18 L228.02 55.32 L228.42 55.47 L228.82 55.61 L229.22 55.75 L229.62 55.89 L230.02 56.03 L230.42 56.17 L230.82 56.31 L231.22 56.45 L231.62 56.59 L232.02 56.74 L232.42 56.88 L232.82 57.02 L233.22 57.16 L233.62 57.30 L234.02 57.45 L234.42 57.59 L234.82 57.73 L235.22 57.88 L235.62 58.02 L236.02 58.17 L236.42 58.31 L236.82 58.46 L237.22 58.60 L237.62 58.75 L238.02 58.89 L238.42 59.04 L238.82 59.19 L239.22 59.33 L239.62 59.48 L240.02 59.63 L240.42 59.78 L240.82 59.93 L241.22 60.08 L241.62 60.22 L242.02 60.37 L242.42 60.52 L242.82 60.67 L243.22 60.83 L243.62 60.98 L244.02 61.13 L244.42 61.28 L244.82 61.43 L245.22 61.58 L245.62 61.74 L246.02 61.89 L246.42 62.04 L246.82 62.19 L247.22 62.35 L247.62 62.50 L248.02 62.65 L248.42 62.81 L248.82 62.96 L249.22 63.12 L249.62 63.27 L250.02 63.43 L250.42 63.58 L250.82 63.74 L251.22 63.89 L251.62 64.05 L252.02 64.21 L252.42 64.36 L252.82 64.52 L253.22 64.67 L253.62 64.83 L254.02 64.98 L254.42 65.14 L254.82 65.29 L255.22 65.44 L255.62 65.58 L256.02 65.72 L256.42 65.86 L256.82 65.99 L257.22 66.11 L257.62 66.23 L258.02 66.33 L258.42 66.43 L258.82 66.52 L258.90 66.59" fill="none" stroke="#1A6FDF" stroke-width="1.40" stroke-linejoin="round" stroke-linecap="round"/>
<path d="M40.02 177.46 L40.42 177.45 L40.82 177.43 L41.22 177.39 L41.62 177.33 L42.02 177.24 L42.42 176.59 L42.82 170.98 L43.22 166.47 L43.62 163.35 L44.02 160.64 L44.42 158.11 L44.82 155.55 L45.22 152.82 L45.62 150.10 L46.02 147.40 L46.42 144.66 L46.82 141.83 L47.22 138.80 L47.62 135.49 L48.02 132.15 L48.42 128.92 L48.82 125.88 L49.22 123.05 L49.62 120.42 L50.02 117.92 L50.42 115.31 L50.82 112.70 L51.22 110.17 L51.62 107.72 L52.02 105.35 L52.42 103.06 L52.82 100.86 L53.22 98.74 L53.62 96.71 L54.02 94.76 L54.42 92.90 L54.82 91.11 L55.22 89.40 L55.62 87.77 L56.02 86.21 L56.42 84.71 L56.82 83.27 L57.22 81.89 L57.62 80.57 L58.02 79.29 L58.42 78.05 L58.82 76.85 L59.22 75.69 L59.62 74.56 L60.02 73.46 L60.42 72.38 L60.82 71.32 L61.22 70.29 L61.62 69.28 L62.02 68.28 L62.42 67.31 L62.82 66.35 L63.22 65.40 L63.62 64.48 L64.02 63.57 L64.42 62.67 L64.82 61.80 L65.22 60.94 L65.62 60.10 L66.02 59.27 L66.42 58.46 L66.82 57.67 L67.22 56.90 L67.62 56.15 L68.02 55.41 L68.42 54.69 L68.82 53.98 L69.22 53.30 L69.62 52.62 L70.02 51.97 L70.42 51.33 L70.82 50.71 L71.22 50.10 L71.62 49.51 L72.02 48.93 L72.42 48.37 L72.82 47.82 L73.22 47.29 L73.62 46.77 L74.02 46.26 L74.42 45.77 L74.82 45.29 L75.22 44.82 L75.62 44.36 L76.02 43.91 L76.42 43.47 L76.82 43.04 L77.22 42.61 L77.62 42.20 L78.02 41.79 L78.42 41.38 L78.82 40.98 L79.22 40.59 L79.62 40.20 L80.02 39.81 L80.42 39.42 L80.82 39.04 L81.22 38.66 L81.62 38.28 L82.02 37.91 L82.42 37.53 L82.82 37.16 L83.22 36.79 L83.62 36.42 L84.02 36.05 L84.42 35.69 L84.82 35.33 L85.22 34.98 L85.62 34.63 L86.02 34.29 L86.42 33.96 L86.82 33.63 L87.22 33.31 L87.62 33.01 L88.02 32.71 L88.42 32.42 L88.82 32.14 L89.22 31.87 L89.62 31.61 L90.02 31.36 L90.42 31.11 L90.82 30.88 L91.22 30.65 L91.62 30.43 L92.02 30.22 L92.42 30.01 L92.82 29.81 L93.22 29.61 L93.62 29.42 L94.02 29.23 L94.42 29.05 L94.82 28.87 L95.22 28.69 L95.62 28.52 L96.02 28.35 L96.42 28.19 L96.82 28.03 L97.22 27.87 L97.62 27.71 L98.02 27.55 L98.42 27.40 L98.82 27.25 L99.22 27.10 L99.62 26.96 L100.02 26.81 L100.42 26.67 L100.82 26.53 L101.22 26.39 L101.62 26.26 L102.02 26.12 L102.42 26.00 L102.82 25.87 L103.22 25.75 L103.62 25.63 L104.02 25.51 L104.42 25.40 L104.82 25.29 L105.22 25.18 L105.62 25.08 L106.02 24.99 L106.42 24.89 L106.82 24.80 L107.22 24.71 L107.62 24.63 L108.02 24.55 L108.42 24.47 L108.82 24.40 L109.22 24.32 L109.62 24.25 L110.02 24.19 L110.42 24.12 L110.82 24.06 L111.22 24.00 L111.62 23.94 L112.02 23.89 L112.42 23.83 L112.82 23.78 L113.22 23.74 L113.62 23.70 L114.02 23.66 L114.42 23.62 L114.82 23.59 L115.22 23.56 L115.62 23.53 L116.02 23.51 L116.42 23.49 L116.82 23.48 L117.22 23.46 L117.62 23.45 L118.02 23.44 L118.42 23.43 L118.82 23.43 L119.22 23.42 L119.62 23.42 L120.02 23.42 L120.42 23.42 L120.82 23.41 L121.22 23.41 L121.62 23.41 L122.02 23.41 L122.42 23.41 L122.82 23.41 L123.22 23.41 L123.62 23.41 L124.02 23.42 L124.42 23.42 L124.82 23.42 L125.22 23.42 L125.62 23.43 L126.02 23.43 L126.42 23.43 L126.82 23.44 L127.22 23.45 L127.62 23.46 L128.02 23.47 L128.42 23.48 L128.82 23.49 L129.22 23.51 L129.62 23.53 L130.02 23.55 L130.42 23.57 L130.82 23.59 L131.22 23.62 L131.62 23.65 L132.02 23.67 L132.42 23.71 L132.82 23.74 L133.22 23.77 L133.62 23.81 L134.02 23.85 L134.42 23.89 L134.82 23.93 L135.22 23.97 L135.62 24.01 L136.02 24.06 L136.42 24.10 L136.82 24.15 L137.22 24.20 L137.62 24.25 L138.02 24.30 L138.42 24.35 L138.82 24.40 L139.22 24.45 L139.62 24.51 L140.02 24.56 L140.42 24.62 L140.82 24.67 L141.22 24.73 L141.62 24.79 L142.02 24.84 L142.42 24.90 L142.82 24.96 L143.22 25.02 L143.62 25.08 L144.02 25.14 L144.42 25.20 L144.82 25.26 L145.22 25.33 L145.62 25.39 L146.02 25.46 L146.42 25.53 L146.82 25.60 L147.22 25.67 L147.62 25.75 L148.02 25.83 L148.42 25.90 L148.82 25.99 L149.22 26.07 L149.62 26.16 L150.02 26.24 L150.42 26.33 L150.82 26.43 L151.22 26.52 L151.62 26.62 L152.02 26.71 L152.42 26.81 L152.82 26.92 L153.22 27.02 L153.62 27.12 L154.02 27.23 L154.42 27.34 L154.82 27.44 L155.22 27.55 L155.62 27.66 L156.02 27.78 L156.42 27.89 L156.82 28.00 L157.22 28.11 L157.62 28.23 L158.02 28.34 L158.42 28.46 L158.82 28.57 L159.22 28.69 L159.62 28.80 L160.02 28.92 L160.42 29.03 L160.82 29.15 L161.22 29.26 L161.62 29.37 L162.02 29.49 L162.42 29.60 L162.82 29.71 L163.22 29.83 L163.62 29.94 L164.02 30.05 L164.42 30.16 L164.82 30.27 L165.22 30.38 L165.62 30.49 L166.02 30.60 L166.42 30.72 L166.82 30.83 L167.22 30.94 L167.62 31.05 L168.02 31.16 L168.42 31.27 L168.82 31.38 L169.22 31.49 L169.62 31.61 L170.02 31.72 L170.42 31.83 L170.82 31.95 L171.22 32.06 L171.62 32.17 L172.02 32.29 L172.42 32.40 L172.82 32.52 L173.22 32.63 L173.62 32.75 L174.02 32.86 L174.42 32.98 L174.82 33.09 L175.22 33.21 L175.62 33.33 L176.02 33.45 L176.42 33.56 L176.82 33.68 L177.22 33.80 L177.62 33.92 L178.02 34.04 L178.42 34.16 L178.82 34.28 L179.22 34.40 L179.62 34.52 L180.02 34.64 L180.42 34.77 L180.82 34.89 L181.22 35.01 L181.62 35.13 L182.02 35.26 L182.42 35.38 L182.82 35.51 L183.22 35.63 L183.62 35.76 L184.02 35.88 L184.42 36.01 L184.82 36.13 L185.22 36.26 L185.62 36.39 L186.02 36.51 L186.42 36.64 L186.82 36.77 L187.22 36.90 L187.62 37.03 L188.02 37.16 L188.42 37.29 L188.82 37.42 L189.22 37.55 L189.62 37.68 L190.02 37.81 L190.42 37.94 L190.82 38.07 L191.22 38.21 L191.62 38.34 L192.02 38.47 L192.42 38.61 L192.82 38.74 L193.22 38.88 L193.62 39.02 L194.02 39.15 L194.42 39.29 L194.82 39.43 L195.22 39.57 L195.62 39.71 L196.02 39.85 L196.42 39.99 L196.82 40.13 L197.22 40.27 L197.62 40.42 L198.02 40.56 L198.42 40.71 L198.82 40.85 L199.22 41.00 L199.62 41.15 L200.02 41.30 L200.42 41.45 L200.82 41.60 L201.22 41.75 L201.62 41.91 L202.02 42.06 L202.42 42.22 L202.82 42.38 L203.22 42.54 L203.62 42.70 L204.02 42.87 L204.42 43.03 L204.82 43.20 L205.22 43.37 L205.62 43.54 L206.02 43.71 L206.42 43.89 L206.82 44.06 L207.22 44.24 L207.62 44.42 L208.02 44.59 L208.42 44.77 L208.82 44.95 L209.22 45.13 L209.62 45.31 L210.02 45.49 L210.42 45.67 L210.82 45.85 L211.22 46.03 L211.62 46.21 L212.02 46.39 L212.42 46.56 L212.82 46.74 L213.22 46.91 L213.62 47.09 L214.02 47.26 L214.42 47.43 L214.82 47.59 L215.22 47.76 L215.62 47.93 L216.02 48.09 L216.42 48.25 L216.82 48.41 L217.22 48.56 L217.62 48.72 L218.02 48.87 L218.42 49.02 L218.82 49.17 L219.22 49.32 L219.62 49.46 L220.02 49.61 L220.42 49.75 L220.82 49.89 L221.22 50.03 L221.62 50.17 L222.02 50.31 L222.42 50.45 L222.82 50.58 L223.22 50.72 L223.62 50.85 L224.02 50.99 L224.42 51.12 L224.82 51.25 L225.22 51.38 L225.62 51.51 L226.02 51.64 L226.42 51.77 L226.82 51.90 L227.22 52.03 L227.62 52.16 L228.02 52.29 L228.42 52.42 L228.82 52.54 L229.22 52.67 L229.62 52.80 L230.02 52.93 L230.42 53.06 L230.82 53.18 L231.22 53.31 L231.62 53.44 L232.02 53.57 L232.42 53.70 L232.82 53.83 L233.22 53.96 L233.62 54.09 L234.02 54.22 L234.42 54.35 L234.82 54.48 L235.22 54.61 L235.62 54.75 L236.02 54.88 L236.42 55.01 L236.82 55.15 L237.22 55.29 L237.62 55.42 L238.02 55.56 L238.42 55.70 L238.82 55.84 L239.22 55.98 L239.62 56.13 L240.02 56.27 L240.42 56.41 L240.82 56.56 L241.22 56.70 L241.62 56.85 L242.02 57.00 L242.42 57.14 L242.82 57.29 L243.22 57.44 L243.62 57.59 L244.02 57.74 L244.42 57.89 L244.82 58.04 L245.22 58.19 L245.62 58.35 L246.02 58.50 L246.42 58.65 L246.82 58.80 L247.22 58.96 L247.62 59.11 L248.02 59.27 L248.42 59.42 L248.82 59.58 L249.22 59.74 L249.62 59.89 L250.02 60.05 L250.42 60.21 L250.82 60.37 L251.22 60.53 L251.62 60.69 L252.02 60.85 L252.42 61.01 L252.82 61.17 L253.22 61.32 L253.62 61.48 L254.02 61.64 L254.42 61.80 L254.82 61.96 L255.22 62.11 L255.62 62.26 L256.02 62.40 L256.42 62.54 L256.82 62.68 L257.22 62.81 L257.62 62.93 L258.02 63.04 L258.42 63.14 L258.82 63.23 L258.90 63.31" fill="none" stroke="#37AD6B" stroke-width="1.40" stroke-linejoin="round" stroke-linecap="round"/>
<path d="M40.02 178.23 L40.42 178.23 L40.82 178.23 L41.22 178.23 L41.62 178.23 L42.02 178.23 L42.42 178.23 L42.82 178.23 L43.22 178.21 L43.62 173.10 L44.02 165.26 L44.42 159.35 L44.82 153.66 L45.22 147.86 L45.62 143.27 L46.02 140.50 L46.42 137.02 L46.82 133.05 L47.22 128.88 L47.62 124.92 L48.02 121.28 L48.42 117.98 L48.82 114.86 L49.22 111.97 L49.62 109.34 L50.02 106.92 L50.42 104.30 L50.82 101.68 L51.22 99.22 L51.62 96.90 L52.02 94.72 L52.42 92.67 L52.82 90.74 L53.22 88.92 L53.62 87.21 L54.02 85.59 L54.42 84.06 L54.82 82.61 L55.22 81.22 L55.62 79.90 L56.02 78.63 L56.42 77.40 L56.82 76.22 L57.22 75.08 L57.62 73.98 L58.02 72.90 L58.42 71.86 L58.82 70.84 L59.22 69.84 L59.62 68.86 L60.02 67.91 L60.42 66.97 L60.82 66.04 L61.22 65.14 L61.62 64.25 L62.02 63.37 L62.42 62.51 L62.82 61.66 L63.22 60.83 L63.62 60.02 L64.02 59.21 L64.42 58.42 L64.82 57.65 L65.22 56.89 L65.62 56.15 L66.02 55.42 L66.42 54.70 L66.82 54.00 L67.22 53.31 L67.62 52.64 L68.02 51.98 L68.42 51.34 L68.82 50.71 L69.22 50.10 L69.62 49.50 L70.02 48.91 L70.42 48.34 L70.82 47.78 L71.22 47.24 L71.62 46.70 L72.02 46.19 L72.42 45.68 L72.82 45.19 L73.22 44.70 L73.62 44.23 L74.02 43.77 L74.42 43.31 L74.82 42.87 L75.22 42.43 L75.62 42.01 L76.02 41.59 L76.42 41.17 L76.82 40.77 L77.22 40.36 L77.62 39.97 L78.02 39.58 L78.42 39.19 L78.82 38.81 L79.22 38.44 L79.62 38.07 L80.02 37.70 L80.42 37.33 L80.82 36.97 L81.22 36.62 L81.62 36.26 L82.02 35.91 L82.42 35.57 L82.82 35.23 L83.22 34.89 L83.62 34.56 L84.02 34.23 L84.42 33.91 L84.82 33.60 L85.22 33.29 L85.62 32.99 L86.02 32.69 L86.42 32.40 L86.82 32.12 L87.22 31.85 L87.62 31.58 L88.02 31.32 L88.42 31.07 L88.82 30.82 L89.22 30.59 L89.62 30.36 L90.02 30.13 L90.42 29.91 L90.82 29.70 L91.22 29.50 L91.62 29.30 L92.02 29.10 L92.42 28.91 L92.82 28.72 L93.22 28.54 L93.62 28.36 L94.02 28.18 L94.42 28.01 L94.82 27.84 L95.22 27.68 L95.62 27.51 L96.02 27.35 L96.42 27.20 L96.82 27.04 L97.22 26.89 L97.62 26.74 L98.02 26.59 L98.42 26.44 L98.82 26.30 L99.22 26.16 L99.62 26.02 L100.02 25.88 L100.42 25.74 L100.82 25.61 L101.22 25.48 L101.62 25.34 L102.02 25.22 L102.42 25.09 L102.82 24.97 L103.22 24.84 L103.62 24.72 L104.02 24.61 L104.42 24.49 L104.82 24.38 L105.22 24.27 L105.62 24.16 L106.02 24.05 L106.42 23.94 L106.82 23.84 L107.22 23.74 L107.62 23.64 L108.02 23.54 L108.42 23.45 L108.82 23.35 L109.22 23.26 L109.62 23.17 L110.02 23.08 L110.42 22.99 L110.82 22.91 L111.22 22.82 L111.62 22.74 L112.02 22.66 L112.42 22.59 L112.82 22.51 L113.22 22.44 L113.62 22.37 L114.02 22.30 L114.42 22.24 L114.82 22.17 L115.22 22.11 L115.62 22.06 L116.02 22.00 L116.42 21.95 L116.82 21.90 L117.22 21.85 L117.62 21.81 L118.02 21.76 L118.42 21.72 L118.82 21.68 L119.22 21.64 L119.62 21.61 L120.02 21.57 L120.42 21.54 L120.82 21.50 L121.22 21.47 L121.62 21.44 L122.02 21.41 L122.42 21.39 L122.82 21.36 L123.22 21.34 L123.62 21.32 L124.02 21.30 L124.42 21.29 L124.82 21.27 L125.22 21.26 L125.62 21.25 L126.02 21.24 L126.42 21.23 L126.82 21.23 L127.22 21.22 L127.62 21.22 L128.02 21.22 L128.42 21.22 L128.82 21.22 L129.22 21.22 L129.62 21.22 L130.02 21.22 L130.42 21.23 L130.82 21.23 L131.22 21.23 L131.62 21.24 L132.02 21.24 L132.42 21.25 L132.82 21.25 L133.22 21.26 L133.62 21.27 L134.02 21.28 L134.42 21.29 L134.82 21.29 L135.22 21.30 L135.62 21.32 L136.02 21.33 L136.42 21.34 L136.82 21.36 L137.22 21.37 L137.62 21.39 L138.02 21.41 L138.42 21.43 L138.82 21.45 L139.22 21.47 L139.62 21.50 L140.02 21.52 L140.42 21.55 L140.82 21.58 L141.22 21.61 L141.62 21.64 L142.02 21.67 L142.42 21.71 L142.82 21.74 L143.22 21.78 L143.62 21.81 L144.02 21.85 L144.42 21.89 L144.82 21.93 L145.22 21.97 L145.62 22.01 L146.02 22.06 L146.42 22.11 L146.82 22.15 L147.22 22.20 L147.62 22.25 L148.02 22.31 L148.42 22.36 L148.82 22.42 L149.22 22.48 L149.62 22.54 L150.02 22.60 L150.42 22.67 L150.82 22.73 L151.22 22.80 L151.62 22.87 L152.02 22.94 L152.42 23.01 L152.82 23.09 L153.22 23.16 L153.62 23.24 L154.02 23.32 L154.42 23.39 L154.82 23.47 L155.22 23.56 L155.62 23.64 L156.02 23.72 L156.42 23.80 L156.82 23.89 L157.22 23.97 L157.62 24.06 L158.02 24.14 L158.42 24.23 L158.82 24.32 L159.22 24.40 L159.62 24.49 L160.02 24.58 L160.42 24.67 L160.82 24.76 L161.22 24.84 L161.62 24.93 L162.02 25.02 L162.42 25.11 L162.82 25.19 L163.22 25.28 L163.62 25.37 L164.02 25.46 L164.42 25.55 L164.82 25.63 L165.22 25.72 L165.62 25.81 L166.02 25.90 L166.42 25.99 L166.82 26.08 L167.22 26.17 L167.62 26.26 L168.02 26.36 L168.42 26.45 L168.82 26.54 L169.22 26.64 L169.62 26.73 L170.02 26.82 L170.42 26.92 L170.82 27.02 L171.22 27.11 L171.62 27.21 L172.02 27.31 L172.42 27.40 L172.82 27.50 L173.22 27.60 L173.62 27.70 L174.02 27.80 L174.42 27.90 L174.82 28.00 L175.22 28.10 L175.62 28.20 L176.02 28.30 L176.42 28.40 L176.82 28.51 L177.22 28.61 L177.62 28.71 L178.02 28.81 L178.42 28.91 L178.82 29.01 L179.22 29.12 L179.62 29.22 L180.02 29.32 L180.42 29.42 L180.82 29.52 L181.22 29.63 L181.62 29.73 L182.02 29.83 L182.42 29.93 L182.82 30.04 L183.22 30.14 L183.62 30.24 L184.02 30.34 L184.42 30.44 L184.82 30.54 L185.22 30.65 L185.62 30.75 L186.02 30.85 L186.42 30.95 L186.82 31.05 L187.22 31.16 L187.62 31.26 L188.02 31.36 L188.42 31.46 L188.82 31.57 L189.22 31.67 L189.62 31.77 L190.02 31.87 L190.42 31.98 L190.82 32.08 L191.22 32.18 L191.62 32.29 L192.02 32.39 L192.42 32.50 L192.82 32.60 L193.22 32.71 L193.62 32.81 L194.02 32.92 L194.42 33.02 L194.82 33.13 L195.22 33.24 L195.62 33.34 L196.02 33.45 L196.42 33.56 L196.82 33.67 L197.22 33.78 L197.62 33.89 L198.02 34.00 L198.42 34.11 L198.82 34.22 L199.22 34.33 L199.62 34.44 L200.02 34.55 L200.42 34.67 L200.82 34.78 L201.22 34.89 L201.62 35.01 L202.02 35.13 L202.42 35.24 L202.82 35.36 L203.22 35.48 L203.62 35.60 L204.02 35.71 L204.42 35.83 L204.82 35.96 L205.22 36.08 L205.62 36.20 L206.02 36.32 L206.42 36.44 L206.82 36.57 L207.22 36.69 L207.62 36.82 L208.02 36.94 L208.42 37.07 L208.82 37.20 L209.22 37.32 L209.62 37.45 L210.02 37.58 L210.42 37.71 L210.82 37.84 L211.22 37.97 L211.62 38.10 L212.02 38.23 L212.42 38.36 L212.82 38.49 L213.22 38.62 L213.62 38.75 L214.02 38.88 L214.42 39.01 L214.82 39.15 L215.22 39.28 L215.62 39.41 L216.02 39.55 L216.42 39.68 L216.82 39.82 L217.22 39.95 L217.62 40.09 L218.02 40.22 L218.42 40.36 L218.82 40.49 L219.22 40.63 L219.62 40.77 L220.02 40.91 L220.42 41.04 L220.82 41.18 L221.22 41.32 L221.62 41.46 L222.02 41.60 L222.42 41.74 L222.82 41.88 L223.22 42.02 L223.62 42.17 L224.02 42.31 L224.42 42.45 L224.82 42.59 L225.22 42.74 L225.62 42.88 L226.02 43.02 L226.42 43.17 L226.82 43.31 L227.22 43.46 L227.62 43.60 L228.02 43.74 L228.42 43.89 L228.82 44.03 L229.22 44.18 L229.62 44.32 L230.02 44.47 L230.42 44.61 L230.82 44.76 L231.22 44.90 L231.62 45.05 L232.02 45.19 L232.42 45.34 L232.82 45.48 L233.22 45.63 L233.62 45.77 L234.02 45.92 L234.42 46.06 L234.82 46.21 L235.22 46.35 L235.62 46.50 L236.02 46.64 L236.42 46.78 L236.82 46.93 L237.22 47.07 L237.62 47.21 L238.02 47.35 L238.42 47.50 L238.82 47.64 L239.22 47.78 L239.62 47.92 L240.02 48.06 L240.42 48.20 L240.82 48.35 L241.22 48.49 L241.62 48.63 L242.02 48.77 L242.42 48.91 L242.82 49.05 L243.22 49.19 L243.62 49.33 L244.02 49.47 L244.42 49.61 L244.82 49.75 L245.22 49.88 L245.62 50.02 L246.02 50.16 L246.42 50.30 L246.82 50.44 L247.22 50.58 L247.62 50.72 L248.02 50.86 L248.42 51.00 L248.82 51.14 L249.22 51.27 L249.62 51.41 L250.02 51.55 L250.42 51.69 L250.82 51.83 L251.22 51.97 L251.62 52.10 L252.02 52.24 L252.42 52.38 L252.82 52.52 L253.22 52.65 L253.62 52.79 L254.02 52.92 L254.42 53.06 L254.82 53.19 L255.22 53.32 L255.62 53.44 L256.02 53.57 L256.42 53.68 L256.82 53.80 L257.22 53.90 L257.62 54.00 L258.02 54.09 L258.42 54.18 L258.82 54.25 L258.90 54.32" fill="none" stroke="#B177DE" stroke-width="1.40" stroke-linejoin="round" stroke-linecap="round"/>
</g>
<rect x="32.00" y="8.20" width="226.90" height="173.30" fill="none" stroke="#4a4a4a" stroke-width="0.9"/>
<line x1="32.00" y1="181.50" x2="32.00" y2="184.50" stroke="#4a4a4a" stroke-width="0.9"/>
<text x="32.00" y="193.00" text-anchor="middle" class="t">0</text>
<line x1="69.82" y1="181.50" x2="69.82" y2="184.50" stroke="#4a4a4a" stroke-width="0.9"/>
<text x="69.82" y="193.00" text-anchor="middle" class="t">50</text>
<line x1="107.63" y1="181.50" x2="107.63" y2="184.50" stroke="#4a4a4a" stroke-width="0.9"/>
<text x="107.63" y="193.00" text-anchor="middle" class="t">100</text>
<line x1="145.45" y1="181.50" x2="145.45" y2="184.50" stroke="#4a4a4a" stroke-width="0.9"/>
<text x="145.45" y="193.00" text-anchor="middle" class="t">150</text>
<line x1="183.27" y1="181.50" x2="183.27" y2="184.50" stroke="#4a4a4a" stroke-width="0.9"/>
<text x="183.27" y="193.00" text-anchor="middle" class="t">200</text>
<line x1="221.08" y1="181.50" x2="221.08" y2="184.50" stroke="#4a4a4a" stroke-width="0.9"/>
<text x="221.08" y="193.00" text-anchor="middle" class="t">250</text>
<line x1="258.90" y1="181.50" x2="258.90" y2="184.50" stroke="#4a4a4a" stroke-width="0.9"/>
<text x="258.90" y="193.00" text-anchor="middle" class="t">300</text>
<line x1="50.91" y1="181.50" x2="50.91" y2="183.10" stroke="#4a4a4a" stroke-width="0.8"/>
<line x1="88.72" y1="181.50" x2="88.72" y2="183.10" stroke="#4a4a4a" stroke-width="0.8"/>
<line x1="126.54" y1="181.50" x2="126.54" y2="183.10" stroke="#4a4a4a" stroke-width="0.8"/>
<line x1="164.36" y1="181.50" x2="164.36" y2="183.10" stroke="#4a4a4a" stroke-width="0.8"/>
<line x1="202.17" y1="181.50" x2="202.17" y2="183.10" stroke="#4a4a4a" stroke-width="0.8"/>
<line x1="239.99" y1="181.50" x2="239.99" y2="183.10" stroke="#4a4a4a" stroke-width="0.8"/>
<line x1="29.00" y1="181.50" x2="32.00" y2="181.50" stroke="#4a4a4a" stroke-width="0.9"/>
<text x="26.80" y="183.80" text-anchor="end" class="t">20</text>
<line x1="29.00" y1="162.24" x2="32.00" y2="162.24" stroke="#4a4a4a" stroke-width="0.9"/>
<text x="26.80" y="164.54" text-anchor="end" class="t">40</text>
<line x1="29.00" y1="142.99" x2="32.00" y2="142.99" stroke="#4a4a4a" stroke-width="0.9"/>
<text x="26.80" y="145.29" text-anchor="end" class="t">60</text>
<line x1="29.00" y1="123.73" x2="32.00" y2="123.73" stroke="#4a4a4a" stroke-width="0.9"/>
<text x="26.80" y="126.03" text-anchor="end" class="t">80</text>
<line x1="29.00" y1="104.48" x2="32.00" y2="104.48" stroke="#4a4a4a" stroke-width="0.9"/>
<text x="26.80" y="106.78" text-anchor="end" class="t">100</text>
<line x1="29.00" y1="85.22" x2="32.00" y2="85.22" stroke="#4a4a4a" stroke-width="0.9"/>
<text x="26.80" y="87.52" text-anchor="end" class="t">120</text>
<line x1="29.00" y1="65.97" x2="32.00" y2="65.97" stroke="#4a4a4a" stroke-width="0.9"/>
<text x="26.80" y="68.27" text-anchor="end" class="t">140</text>
<line x1="29.00" y1="46.71" x2="32.00" y2="46.71" stroke="#4a4a4a" stroke-width="0.9"/>
<text x="26.80" y="49.01" text-anchor="end" class="t">160</text>
<line x1="29.00" y1="27.46" x2="32.00" y2="27.46" stroke="#4a4a4a" stroke-width="0.9"/>
<text x="26.80" y="29.76" text-anchor="end" class="t">180</text>
<line x1="29.00" y1="8.20" x2="32.00" y2="8.20" stroke="#4a4a4a" stroke-width="0.9"/>
<text x="26.80" y="10.50" text-anchor="end" class="t">200</text>
<line x1="30.40" y1="171.87" x2="32.00" y2="171.87" stroke="#4a4a4a" stroke-width="0.8"/>
<line x1="30.40" y1="152.62" x2="32.00" y2="152.62" stroke="#4a4a4a" stroke-width="0.8"/>
<line x1="30.40" y1="133.36" x2="32.00" y2="133.36" stroke="#4a4a4a" stroke-width="0.8"/>
<line x1="30.40" y1="114.11" x2="32.00" y2="114.11" stroke="#4a4a4a" stroke-width="0.8"/>
<line x1="30.40" y1="94.85" x2="32.00" y2="94.85" stroke="#4a4a4a" stroke-width="0.8"/>
<line x1="30.40" y1="75.59" x2="32.00" y2="75.59" stroke="#4a4a4a" stroke-width="0.8"/>
<line x1="30.40" y1="56.34" x2="32.00" y2="56.34" stroke="#4a4a4a" stroke-width="0.8"/>
<line x1="30.40" y1="37.08" x2="32.00" y2="37.08" stroke="#4a4a4a" stroke-width="0.8"/>
<line x1="30.40" y1="17.83" x2="32.00" y2="17.83" stroke="#4a4a4a" stroke-width="0.8"/>
<line x1="145.45" y1="8.20" x2="145.45" y2="9.40" stroke="#4a4a4a" stroke-width="0.7"/>
<line x1="257.70" y1="94.85" x2="258.90" y2="94.85" stroke="#4a4a4a" stroke-width="0.7"/>
<text transform="translate(10.20 94.85) rotate(-90)" text-anchor="middle" class="l" style="font-size:8.50px">Temperature, °C</text>
<text x="144.40" y="202.90" text-anchor="middle" class="l">Time, s</text>
<line x1="197.30" y1="128.50" x2="215.00" y2="128.50" stroke="#515151" stroke-width="1.50"/>
<text x="217.20" y="131.40" class="t">W20_1,1</text>
<line x1="197.30" y1="138.30" x2="215.00" y2="138.30" stroke="#F14040" stroke-width="1.50"/>
<text x="217.20" y="141.20" class="t">W22_1,1</text>
<line x1="197.30" y1="148.10" x2="215.00" y2="148.10" stroke="#1A6FDF" stroke-width="1.50"/>
<text x="217.20" y="151.00" class="t">W24_1,1</text>
<line x1="197.30" y1="157.90" x2="215.00" y2="157.90" stroke="#37AD6B" stroke-width="1.50"/>
<text x="217.20" y="160.80" class="t">W26_1,1</text>
<line x1="197.30" y1="167.70" x2="215.00" y2="167.70" stroke="#B177DE" stroke-width="1.50"/>
<text x="217.20" y="170.60" class="t">W28_1,1</text>
<!-- chart b -->
<line x1="345.58" y1="7.60" x2="345.58" y2="177.30" stroke="#eeeeee" stroke-width="0.7"/>
<line x1="384.67" y1="7.60" x2="384.67" y2="177.30" stroke="#eeeeee" stroke-width="0.7"/>
<line x1="423.75" y1="7.60" x2="423.75" y2="177.30" stroke="#eeeeee" stroke-width="0.7"/>
<line x1="462.83" y1="7.60" x2="462.83" y2="177.30" stroke="#eeeeee" stroke-width="0.7"/>
<line x1="501.92" y1="7.60" x2="501.92" y2="177.30" stroke="#eeeeee" stroke-width="0.7"/>
<line x1="306.50" y1="168.45" x2="541.00" y2="168.45" stroke="#eeeeee" stroke-width="0.7"/>
<line x1="306.50" y1="159.51" x2="541.00" y2="159.51" stroke="#eeeeee" stroke-width="0.7"/>
<line x1="306.50" y1="150.58" x2="541.00" y2="150.58" stroke="#eeeeee" stroke-width="0.7"/>
<line x1="306.50" y1="141.64" x2="541.00" y2="141.64" stroke="#eeeeee" stroke-width="0.7"/>
<line x1="306.50" y1="132.71" x2="541.00" y2="132.71" stroke="#eeeeee" stroke-width="0.7"/>
<line x1="306.50" y1="123.77" x2="541.00" y2="123.77" stroke="#eeeeee" stroke-width="0.7"/>
<line x1="306.50" y1="114.84" x2="541.00" y2="114.84" stroke="#eeeeee" stroke-width="0.7"/>
<line x1="306.50" y1="105.90" x2="541.00" y2="105.90" stroke="#eeeeee" stroke-width="0.7"/>
<line x1="306.50" y1="96.97" x2="541.00" y2="96.97" stroke="#eeeeee" stroke-width="0.7"/>
<line x1="306.50" y1="88.03" x2="541.00" y2="88.03" stroke="#eeeeee" stroke-width="0.7"/>
<line x1="306.50" y1="79.10" x2="541.00" y2="79.10" stroke="#eeeeee" stroke-width="0.7"/>
<line x1="306.50" y1="70.16" x2="541.00" y2="70.16" stroke="#eeeeee" stroke-width="0.7"/>
<line x1="306.50" y1="61.23" x2="541.00" y2="61.23" stroke="#eeeeee" stroke-width="0.7"/>
<line x1="306.50" y1="52.29" x2="541.00" y2="52.29" stroke="#eeeeee" stroke-width="0.7"/>
<line x1="306.50" y1="43.36" x2="541.00" y2="43.36" stroke="#eeeeee" stroke-width="0.7"/>
<line x1="306.50" y1="34.42" x2="541.00" y2="34.42" stroke="#eeeeee" stroke-width="0.7"/>
<line x1="306.50" y1="25.49" x2="541.00" y2="25.49" stroke="#eeeeee" stroke-width="0.7"/>
<line x1="306.50" y1="16.55" x2="541.00" y2="16.55" stroke="#eeeeee" stroke-width="0.7"/>
<g clip-path="url(#cb)">
<path d="M314.79 72.97 L315.14 71.98 L315.49 70.71 L315.84 69.24 L316.19 67.38 L316.54 64.54 L316.89 60.89 L317.24 58.00 L317.59 55.75 L317.94 54.30 L318.29 53.11 L318.64 52.46 L318.99 52.44 L319.34 52.56 L319.69 52.72 L320.04 53.03 L320.39 53.62 L320.74 54.42 L321.09 55.35 L321.44 56.34 L321.79 57.29 L322.14 58.14 L322.49 58.80 L322.84 59.32 L323.19 59.79 L323.54 60.21 L323.89 60.62 L324.24 61.02 L324.59 61.43 L324.94 61.86 L325.29 62.30 L325.64 62.75 L325.99 63.19 L326.34 63.62 L326.69 64.04 L327.04 64.43 L327.39 64.80 L327.74 65.13 L328.09 65.45 L328.44 65.74 L328.79 66.02 L329.14 66.29 L329.49 66.56 L329.84 66.84 L330.19 67.12 L330.54 67.42 L330.89 67.73 L331.24 68.05 L331.59 68.36 L331.94 68.68 L332.29 69.00 L332.64 69.34 L332.99 69.68 L333.34 70.03 L333.69 70.40 L334.04 70.80 L334.39 71.21 L334.74 71.64 L335.09 72.08 L335.44 72.54 L335.79 73.04 L336.14 73.57 L336.49 74.15 L336.84 74.81 L337.19 75.54 L337.54 76.40 L337.89 77.53 L338.24 78.86 L338.59 80.30 L338.94 81.76 L339.29 83.20 L339.64 84.67 L339.99 86.25 L340.34 88.01 L340.69 90.05 L341.04 92.86 L341.39 95.53 L341.74 97.41 L342.09 99.02 L342.44 100.75 L342.79 102.84 L343.14 105.13 L343.49 107.55 L343.84 110.00 L344.19 112.38 L344.54 114.81 L344.89 117.28 L345.24 119.69 L345.59 121.90 L345.94 123.82 L346.29 125.60 L346.64 127.28 L346.99 128.88 L347.34 130.40 L347.69 131.86 L348.04 133.26 L348.39 134.63 L348.74 135.96 L349.09 137.27 L349.44 138.58 L349.79 139.86 L350.14 141.10 L350.49 142.27 L350.84 143.36 L351.19 144.34 L351.54 145.21 L351.89 146.04 L352.24 146.82 L352.59 147.55 L352.94 148.24 L353.29 148.89 L353.64 149.50 L353.99 150.07 L354.34 150.60 L354.69 151.13 L355.04 151.64 L355.39 152.13 L355.74 152.61 L356.09 153.05 L356.44 153.47 L356.79 153.85 L357.14 154.20 L357.49 154.49 L357.84 154.74 L358.19 154.96 L358.54 155.16 L358.89 155.34 L359.24 155.52 L359.59 155.67 L359.94 155.82 L360.29 155.96 L360.64 156.10 L360.99 156.22 L361.34 156.34 L361.69 156.46 L362.04 156.57 L362.39 156.69 L362.74 156.79 L363.09 156.90 L363.44 156.99 L363.79 157.09 L364.14 157.18 L364.49 157.27 L364.84 157.35 L365.19 157.27 L365.54 157.17 L365.89 157.20 L366.24 157.84 L366.59 158.02 L366.94 157.85 L367.29 158.03 L367.64 158.05 L367.99 158.14 L368.34 157.72 L368.69 158.12 L369.04 158.37 L369.39 158.18 L369.74 158.35 L370.09 158.32 L370.44 158.55 L370.79 158.98 L371.14 158.68 L371.49 158.84 L371.84 159.21 L372.19 159.24 L372.54 159.64 L372.89 158.59 L373.24 159.57 L373.59 159.25 L373.94 159.53 L374.29 159.83 L374.64 159.99 L374.99 160.07 L375.34 159.90 L375.69 160.43 L376.04 159.96 L376.39 160.09 L376.74 160.47 L377.09 160.16 L377.44 161.06 L377.79 160.81 L378.14 161.25 L378.49 160.68 L378.84 160.67 L379.19 160.92 L379.54 161.18 L379.89 160.87 L380.24 161.25 L380.59 161.22 L380.94 161.80 L381.29 161.21 L381.64 161.82 L381.99 161.40 L382.34 161.40 L382.69 161.57 L383.04 161.51 L383.39 162.00 L383.74 162.36 L384.09 162.19 L384.44 162.41 L384.79 162.79 L385.14 162.46 L385.49 162.52 L385.84 162.45 L386.19 162.12 L386.54 162.89 L386.89 162.20 L387.24 162.98 L387.59 162.83 L387.94 163.23 L388.29 162.93 L388.64 162.76 L388.99 163.17 L389.34 162.95 L389.69 163.11 L390.04 163.23 L390.39 163.23 L390.74 163.27 L391.09 163.12 L391.44 163.37 L391.79 162.83 L392.14 163.47 L392.49 163.21 L392.84 163.95 L393.19 164.04 L393.54 163.12 L393.89 163.79 L394.24 163.75 L394.59 163.51 L394.94 164.03 L395.29 163.77 L395.64 163.41 L395.99 163.90 L396.34 163.97 L396.69 164.08 L397.04 163.72 L397.39 164.30 L397.74 164.37 L398.09 163.84 L398.44 164.01 L398.79 164.21 L399.14 164.09 L399.49 164.81 L399.84 164.37 L400.19 164.03 L400.54 164.12 L400.89 164.36 L401.24 165.08 L401.59 164.36 L401.94 164.47 L402.29 164.61 L402.64 164.46 L402.99 165.18 L403.34 164.35 L403.69 164.75 L404.04 164.60 L404.39 164.75 L404.74 164.23 L405.09 165.13 L405.44 164.58 L405.79 164.65 L406.14 164.37 L406.49 164.45 L406.84 164.85 L407.19 165.00 L407.54 164.94 L407.89 165.09 L408.24 164.96 L408.59 164.77 L408.94 165.03 L409.29 164.97 L409.64 164.77 L409.99 165.03 L410.34 165.22 L410.69 164.91 L411.04 164.75 L411.39 165.09 L411.74 165.45 L412.09 164.83 L412.44 164.88 L412.79 164.88 L413.14 165.30 L413.49 164.39 L413.84 165.07 L414.19 165.32 L414.54 164.73 L414.89 165.44 L415.24 165.16 L415.59 164.85 L415.94 165.08 L416.29 164.57 L416.64 164.87 L416.99 165.60 L417.34 164.80 L417.69 165.63 L418.04 165.06 L418.39 165.39 L418.74 165.12 L419.09 164.44 L419.44 164.95 L419.79 165.19 L420.14 164.80 L420.49 164.75 L420.84 165.27 L421.19 164.97 L421.54 164.67 L421.89 164.98 L422.24 165.45 L422.59 165.06 L422.94 165.49 L423.29 165.68 L423.64 165.24 L423.99 164.90 L424.34 164.86 L424.69 165.25 L425.04 165.53 L425.39 165.35 L425.74 165.45 L426.09 165.16 L426.44 165.39 L426.79 165.16 L427.14 165.21 L427.49 164.93 L427.84 164.86 L428.19 165.19 L428.54 165.01 L428.89 165.06 L429.24 165.56 L429.59 165.33 L429.94 166.25 L430.29 165.66 L430.64 165.20 L430.99 165.63 L431.34 165.51 L431.69 165.20 L432.04 165.75 L432.39 165.19 L432.74 164.51 L433.09 165.67 L433.44 165.26 L433.79 165.89 L434.14 165.26 L434.49 165.11 L434.84 165.93 L435.19 165.15 L435.54 165.54 L435.89 165.92 L436.24 165.52 L436.59 165.47 L436.94 165.53 L437.29 165.76 L437.64 165.27 L437.99 165.70 L438.34 165.70 L438.69 166.23 L439.04 165.43 L439.39 165.26 L439.74 165.76 L440.09 165.43 L440.44 165.64 L440.79 165.60 L441.14 165.91 L441.49 165.37 L441.84 165.54 L442.19 164.81 L442.54 165.31 L442.89 166.05 L443.24 165.39 L443.59 165.38 L443.94 165.23 L444.29 165.78 L444.64 165.66 L444.99 165.25 L445.34 165.81 L445.69 165.70 L446.04 165.85 L446.39 165.43 L446.74 166.15 L447.09 165.76 L447.44 165.60 L447.79 165.48 L448.14 165.57 L448.49 165.90 L448.84 165.57 L449.19 165.98 L449.54 165.83 L449.89 166.06 L450.24 165.91 L450.59 165.65 L450.94 165.10 L451.29 165.76 L451.64 165.91 L451.99 165.73 L452.34 165.85 L452.69 165.54 L453.04 165.57 L453.39 165.41 L453.74 166.10 L454.09 165.74 L454.44 165.55 L454.79 165.30 L455.14 165.66 L455.49 166.14 L455.84 165.85 L456.19 165.50 L456.54 166.14 L456.89 166.15 L457.24 166.02 L457.59 165.96 L457.94 166.07 L458.29 165.89 L458.64 165.97 L458.99 165.50 L459.34 166.19 L459.69 165.81 L460.04 166.35 L460.39 165.14 L460.74 165.96 L461.09 166.05 L461.44 165.65 L461.79 165.90 L462.14 165.99 L462.49 165.94 L462.84 165.61 L463.19 165.73 L463.54 166.08 L463.89 166.16 L464.24 165.81 L464.59 165.81 L464.94 165.85 L465.29 166.10 L465.64 165.48 L465.99 165.40 L466.34 165.84 L466.69 165.47 L467.04 165.63 L467.39 165.84 L467.74 165.96 L468.09 165.50 L468.44 166.06 L468.79 165.29 L469.14 165.99 L469.49 165.36 L469.84 165.45 L470.19 166.03 L470.54 165.72 L470.89 165.61 L471.24 165.72 L471.59 165.99 L471.94 165.84 L472.29 165.85 L472.64 166.18 L472.99 165.65 L473.34 165.73 L473.69 165.72 L474.04 166.23 L474.39 166.18 L474.74 166.27 L475.09 165.88 L475.44 165.85 L475.79 166.15 L476.14 165.78 L476.49 166.15 L476.84 166.12 L477.19 165.70 L477.54 165.89 L477.89 165.88 L478.24 166.44 L478.59 166.70 L478.94 165.90 L479.29 165.94 L479.64 165.25 L479.99 166.00 L480.34 165.94 L480.69 165.62 L481.04 166.19 L481.39 165.48 L481.74 165.89 L482.09 166.00 L482.44 165.59 L482.79 166.22 L483.14 166.29 L483.49 165.56 L483.84 165.56 L484.19 166.16 L484.54 165.98 L484.89 165.62 L485.24 165.90 L485.59 165.96 L485.94 165.95 L486.29 166.25 L486.64 166.12 L486.99 166.54 L487.34 166.42 L487.69 166.22 L488.04 166.34 L488.39 166.42 L488.74 166.24 L489.09 165.66 L489.44 166.29 L489.79 166.06 L490.14 166.52 L490.49 166.07 L490.84 166.20 L491.19 166.14 L491.54 166.55 L491.89 166.11 L492.24 165.97 L492.59 166.15 L492.94 165.93 L493.29 166.11 L493.64 166.06 L493.99 166.15 L494.34 166.65 L494.69 165.95 L495.04 166.09 L495.39 166.02 L495.74 166.29 L496.09 165.73 L496.44 165.88 L496.79 166.08 L497.14 166.26 L497.49 166.08 L497.84 165.95 L498.19 165.84 L498.54 166.26 L498.89 166.54 L499.24 166.21 L499.59 166.17 L499.94 166.25 L500.29 165.83 L500.64 166.03 L500.99 166.04 L501.34 166.21 L501.69 166.12 L502.04 165.76 L502.39 166.47 L502.74 166.64 L503.09 166.06 L503.44 166.26 L503.79 166.22 L504.14 166.38 L504.49 165.70 L504.84 166.63 L505.19 166.01 L505.54 166.53 L505.89 166.17 L506.24 166.04 L506.59 166.11 L506.94 166.43 L507.29 165.90 L507.64 166.05 L507.99 166.02 L508.34 165.65 L508.69 166.56 L509.04 166.34 L509.39 166.16 L509.74 166.52 L510.09 165.89 L510.44 166.16 L510.79 166.70 L511.14 166.47 L511.49 165.52 L511.84 165.19 L512.19 165.88 L512.54 166.51 L512.89 166.05 L513.24 166.13 L513.59 166.38 L513.94 165.93 L514.29 166.26 L514.64 166.44 L514.99 166.34 L515.34 166.32 L515.69 166.03 L516.04 166.36 L516.39 166.08 L516.74 166.60 L517.09 166.98 L517.44 165.99 L517.79 165.56 L518.14 166.09 L518.49 166.33 L518.84 166.54 L519.19 166.55 L519.54 165.99 L519.89 165.99 L520.24 166.61 L520.59 165.90 L520.94 166.56 L521.29 166.17 L521.64 166.47 L521.99 166.45 L522.34 166.47 L522.69 166.49 L523.04 165.95 L523.39 166.33 L523.74 166.25 L524.09 166.34 L524.44 166.62 L524.79 166.17 L525.14 166.04 L525.49 166.03 L525.84 166.16 L526.19 166.48 L526.54 166.01 L526.89 166.61 L527.24 166.35 L527.59 166.19 L527.94 165.86 L528.29 166.34 L528.64 166.47 L528.99 165.74 L529.34 166.63 L529.69 166.76 L530.04 166.37 L530.39 166.42 L530.74 167.00 L531.09 166.65 L531.44 166.01 L531.79 166.27 L532.14 166.23 L532.49 166.24 L532.84 165.57 L533.19 166.51 L533.54 166.09 L533.89 166.33 L534.24 166.25 L534.59 166.55 L534.94 166.20 L535.29 166.05 L535.64 166.45 L535.99 166.71 L536.34 166.20 L536.69 166.71 L537.04 166.37 L537.39 166.14 L537.74 166.75 L538.09 166.05 L538.44 166.60 L538.79 166.15 L539.14 166.44 L539.49 165.93 L539.84 166.05 L540.19 166.62 L540.54 166.36 L540.89 166.32 L541.00 166.17" fill="none" stroke="#515151" stroke-width="1.40" stroke-linejoin="round" stroke-linecap="round"/>
<path d="M314.79 73.08 L315.14 72.14 L315.49 70.69 L315.84 68.67 L316.19 65.57 L316.54 60.59 L316.89 55.71 L317.24 51.30 L317.59 47.71 L317.94 44.75 L318.29 43.00 L318.64 41.99 L318.99 40.93 L319.34 38.75 L319.69 34.03 L320.04 29.77 L320.39 27.41 L320.74 25.52 L321.09 24.26 L321.44 23.54 L321.79 23.00 L322.14 22.77 L322.49 23.02 L322.84 23.65 L323.19 24.42 L323.54 25.55 L323.89 27.07 L324.24 28.74 L324.59 30.32 L324.94 31.69 L325.29 33.02 L325.64 34.32 L325.99 35.58 L326.34 36.76 L326.69 37.90 L327.04 38.99 L327.39 40.04 L327.74 41.03 L328.09 41.96 L328.44 42.82 L328.79 43.63 L329.14 44.41 L329.49 45.20 L329.84 46.03 L330.19 46.88 L330.54 47.74 L330.89 48.56 L331.24 49.30 L331.59 49.93 L331.94 50.49 L332.29 51.02 L332.64 51.59 L332.99 52.25 L333.34 53.05 L333.69 53.96 L334.04 54.92 L334.39 55.89 L334.74 56.81 L335.09 57.63 L335.44 58.34 L335.79 59.01 L336.14 59.63 L336.49 60.23 L336.84 60.81 L337.19 61.39 L337.54 61.99 L337.89 62.61 L338.24 63.27 L338.59 63.95 L338.94 64.63 L339.29 65.33 L339.64 66.07 L339.99 66.86 L340.34 67.72 L340.69 68.65 L341.04 69.64 L341.39 70.73 L341.74 71.93 L342.09 73.27 L342.44 74.91 L342.79 76.82 L343.14 78.85 L343.49 80.82 L343.84 82.60 L344.19 84.24 L344.54 85.83 L344.89 87.42 L345.24 89.07 L345.59 90.82 L345.94 92.61 L346.29 94.45 L346.64 96.36 L346.99 98.36 L347.34 100.51 L347.69 102.81 L348.04 105.18 L348.39 107.56 L348.74 109.88 L349.09 112.06 L349.44 114.14 L349.79 116.16 L350.14 118.12 L350.49 120.03 L350.84 121.87 L351.19 123.66 L351.54 125.44 L351.89 127.23 L352.24 128.99 L352.59 130.71 L352.94 132.35 L353.29 133.90 L353.64 135.34 L353.99 136.63 L354.34 137.78 L354.69 138.83 L355.04 139.80 L355.39 140.71 L355.74 141.57 L356.09 142.38 L356.44 143.16 L356.79 143.91 L357.14 144.65 L357.49 145.38 L357.84 146.10 L358.19 146.81 L358.54 147.49 L358.89 148.15 L359.24 148.79 L359.59 149.39 L359.94 149.96 L360.29 150.49 L360.64 150.98 L360.99 151.43 L361.34 151.86 L361.69 152.28 L362.04 152.68 L362.39 153.07 L362.74 153.44 L363.09 153.79 L363.44 154.13 L363.79 154.44 L364.14 154.74 L364.49 155.02 L364.84 155.28 L365.19 155.58 L365.54 155.80 L365.89 155.96 L366.24 155.63 L366.59 155.49 L366.94 156.35 L367.29 156.28 L367.64 157.03 L367.99 157.34 L368.34 157.37 L368.69 157.34 L369.04 157.63 L369.39 158.11 L369.74 157.69 L370.09 158.32 L370.44 158.40 L370.79 158.40 L371.14 158.89 L371.49 158.36 L371.84 158.98 L372.19 158.53 L372.54 158.69 L372.89 158.71 L373.24 159.27 L373.59 158.96 L373.94 159.36 L374.29 159.10 L374.64 159.86 L374.99 160.18 L375.34 159.80 L375.69 160.32 L376.04 160.09 L376.39 160.67 L376.74 160.14 L377.09 159.74 L377.44 160.76 L377.79 160.37 L378.14 160.20 L378.49 160.41 L378.84 160.22 L379.19 160.76 L379.54 160.59 L379.89 161.45 L380.24 161.30 L380.59 160.70 L380.94 160.84 L381.29 161.21 L381.64 160.89 L381.99 161.52 L382.34 161.63 L382.69 161.49 L383.04 161.64 L383.39 162.03 L383.74 162.38 L384.09 162.47 L384.44 162.09 L384.79 162.41 L385.14 162.00 L385.49 162.41 L385.84 162.06 L386.19 162.64 L386.54 162.11 L386.89 162.26 L387.24 162.61 L387.59 162.84 L387.94 162.31 L388.29 162.64 L388.64 162.91 L388.99 163.00 L389.34 162.74 L389.69 163.08 L390.04 163.03 L390.39 163.59 L390.74 163.40 L391.09 162.89 L391.44 162.68 L391.79 163.43 L392.14 163.81 L392.49 163.56 L392.84 163.82 L393.19 163.47 L393.54 163.25 L393.89 163.93 L394.24 163.79 L394.59 164.01 L394.94 163.43 L395.29 163.95 L395.64 163.75 L395.99 164.22 L396.34 163.84 L396.69 163.87 L397.04 163.91 L397.39 164.50 L397.74 164.16 L398.09 163.96 L398.44 163.91 L398.79 163.93 L399.14 164.71 L399.49 163.75 L399.84 164.06 L400.19 164.53 L400.54 164.71 L400.89 164.33 L401.24 164.62 L401.59 164.63 L401.94 164.72 L402.29 164.45 L402.64 164.95 L402.99 164.53 L403.34 164.95 L403.69 164.18 L404.04 164.80 L404.39 164.16 L404.74 164.10 L405.09 164.72 L405.44 164.33 L405.79 164.73 L406.14 164.29 L406.49 165.10 L406.84 164.64 L407.19 164.31 L407.54 164.71 L407.89 164.94 L408.24 164.45 L408.59 164.85 L408.94 165.32 L409.29 164.98 L409.64 164.73 L409.99 164.57 L410.34 164.93 L410.69 164.31 L411.04 163.86 L411.39 164.58 L411.74 164.47 L412.09 165.33 L412.44 164.85 L412.79 164.53 L413.14 164.48 L413.49 164.99 L413.84 164.60 L414.19 164.68 L414.54 164.84 L414.89 164.90 L415.24 164.91 L415.59 164.93 L415.94 165.29 L416.29 165.42 L416.64 164.42 L416.99 165.70 L417.34 164.97 L417.69 165.32 L418.04 164.73 L418.39 165.06 L418.74 165.03 L419.09 165.01 L419.44 165.24 L419.79 165.18 L420.14 164.70 L420.49 164.97 L420.84 165.23 L421.19 165.23 L421.54 164.93 L421.89 164.95 L422.24 165.00 L422.59 164.72 L422.94 164.67 L423.29 165.54 L423.64 164.96 L423.99 165.11 L424.34 164.87 L424.69 165.49 L425.04 165.63 L425.39 165.05 L425.74 165.28 L426.09 164.90 L426.44 165.67 L426.79 165.42 L427.14 164.90 L427.49 165.53 L427.84 165.28 L428.19 165.30 L428.54 165.29 L428.89 164.99 L429.24 165.04 L429.59 165.39 L429.94 165.20 L430.29 164.93 L430.64 165.83 L430.99 165.17 L431.34 165.07 L431.69 165.04 L432.04 165.46 L432.39 165.55 L432.74 165.34 L433.09 165.53 L433.44 164.83 L433.79 165.17 L434.14 165.15 L434.49 165.30 L434.84 165.45 L435.19 164.70 L435.54 166.25 L435.89 165.06 L436.24 165.43 L436.59 165.58 L436.94 165.59 L437.29 165.42 L437.64 164.48 L437.99 165.03 L438.34 165.59 L438.69 165.09 L439.04 165.05 L439.39 164.67 L439.74 165.74 L440.09 165.54 L440.44 165.12 L440.79 165.35 L441.14 165.37 L441.49 165.07 L441.84 165.32 L442.19 165.48 L442.54 165.58 L442.89 165.80 L443.24 165.43 L443.59 165.28 L443.94 165.55 L444.29 165.24 L444.64 165.06 L444.99 165.78 L445.34 165.33 L445.69 165.48 L446.04 165.64 L446.39 165.12 L446.74 165.65 L447.09 165.59 L447.44 165.43 L447.79 165.58 L448.14 165.24 L448.49 164.81 L448.84 165.39 L449.19 165.21 L449.54 165.74 L449.89 165.56 L450.24 165.33 L450.59 165.50 L450.94 165.90 L451.29 165.84 L451.64 165.61 L451.99 165.63 L452.34 165.42 L452.69 165.47 L453.04 165.69 L453.39 165.48 L453.74 165.61 L454.09 165.18 L454.44 165.02 L454.79 165.01 L455.14 165.40 L455.49 165.93 L455.84 165.89 L456.19 165.24 L456.54 165.07 L456.89 165.78 L457.24 165.68 L457.59 165.14 L457.94 165.87 L458.29 165.60 L458.64 165.95 L458.99 165.66 L459.34 165.83 L459.69 165.66 L460.04 165.28 L460.39 165.50 L460.74 165.37 L461.09 165.83 L461.44 165.28 L461.79 165.12 L462.14 165.79 L462.49 165.94 L462.84 166.03 L463.19 165.93 L463.54 165.15 L463.89 165.40 L464.24 165.45 L464.59 165.61 L464.94 164.97 L465.29 165.62 L465.64 165.71 L465.99 165.34 L466.34 165.67 L466.69 166.00 L467.04 165.66 L467.39 165.96 L467.74 165.95 L468.09 165.78 L468.44 165.77 L468.79 165.55 L469.14 166.04 L469.49 165.53 L469.84 165.47 L470.19 165.89 L470.54 165.47 L470.89 165.82 L471.24 166.01 L471.59 165.72 L471.94 165.74 L472.29 165.98 L472.64 165.94 L472.99 165.26 L473.34 165.33 L473.69 166.13 L474.04 165.85 L474.39 165.11 L474.74 165.34 L475.09 165.75 L475.44 165.46 L475.79 165.90 L476.14 165.78 L476.49 165.91 L476.84 165.42 L477.19 165.96 L477.54 166.37 L477.89 165.55 L478.24 166.19 L478.59 166.09 L478.94 165.99 L479.29 165.79 L479.64 165.46 L479.99 165.55 L480.34 166.05 L480.69 166.12 L481.04 166.20 L481.39 166.13 L481.74 166.11 L482.09 165.72 L482.44 165.49 L482.79 165.92 L483.14 166.01 L483.49 165.89 L483.84 165.42 L484.19 165.72 L484.54 165.44 L484.89 165.93 L485.24 165.58 L485.59 165.85 L485.94 166.00 L486.29 165.95 L486.64 166.32 L486.99 165.59 L487.34 165.27 L487.69 166.21 L488.04 166.36 L488.39 166.37 L488.74 166.03 L489.09 166.11 L489.44 165.99 L489.79 165.57 L490.14 165.80 L490.49 166.12 L490.84 165.80 L491.19 166.55 L491.54 165.53 L491.89 165.86 L492.24 166.33 L492.59 165.82 L492.94 165.67 L493.29 165.61 L493.64 165.80 L493.99 166.48 L494.34 166.15 L494.69 166.19 L495.04 165.88 L495.39 166.30 L495.74 166.08 L496.09 165.78 L496.44 165.92 L496.79 166.13 L497.14 166.42 L497.49 166.06 L497.84 166.23 L498.19 166.69 L498.54 165.85 L498.89 165.72 L499.24 166.39 L499.59 166.24 L499.94 166.08 L500.29 166.19 L500.64 166.02 L500.99 166.28 L501.34 166.03 L501.69 166.37 L502.04 165.79 L502.39 165.90 L502.74 166.18 L503.09 166.01 L503.44 166.37 L503.79 166.15 L504.14 166.01 L504.49 166.24 L504.84 166.02 L505.19 165.72 L505.54 165.85 L505.89 165.95 L506.24 166.06 L506.59 166.23 L506.94 166.48 L507.29 166.38 L507.64 166.75 L507.99 166.61 L508.34 166.17 L508.69 166.73 L509.04 166.59 L509.39 166.11 L509.74 166.34 L510.09 166.58 L510.44 166.33 L510.79 166.57 L511.14 166.39 L511.49 166.48 L511.84 166.18 L512.19 166.40 L512.54 166.18 L512.89 166.49 L513.24 165.79 L513.59 166.40 L513.94 166.68 L514.29 166.48 L514.64 166.31 L514.99 166.48 L515.34 166.07 L515.69 166.08 L516.04 166.23 L516.39 166.30 L516.74 166.63 L517.09 166.08 L517.44 166.65 L517.79 165.89 L518.14 166.13 L518.49 166.36 L518.84 166.72 L519.19 166.19 L519.54 165.74 L519.89 166.51 L520.24 166.38 L520.59 166.07 L520.94 166.09 L521.29 166.20 L521.64 166.44 L521.99 166.62 L522.34 165.98 L522.69 167.11 L523.04 166.42 L523.39 166.32 L523.74 166.64 L524.09 166.48 L524.44 167.15 L524.79 166.78 L525.14 166.35 L525.49 166.35 L525.84 166.32 L526.19 166.37 L526.54 166.68 L526.89 166.29 L527.24 166.97 L527.59 166.47 L527.94 166.45 L528.29 166.79 L528.64 165.91 L528.99 166.23 L529.34 166.70 L529.69 166.52 L530.04 166.52 L530.39 166.65 L530.74 166.35 L531.09 166.49 L531.44 166.14 L531.79 165.99 L532.14 166.93 L532.49 166.28 L532.84 166.35 L533.19 166.99 L533.54 166.89 L533.89 166.42 L534.24 166.42 L534.59 166.56 L534.94 166.31 L535.29 166.76 L535.64 166.64 L535.99 166.64 L536.34 166.84 L536.69 166.83 L537.04 167.17 L537.39 167.08 L537.74 166.12 L538.09 166.90 L538.44 166.30 L538.79 166.22 L539.14 166.86 L539.49 166.44 L539.84 166.56 L540.19 166.98 L540.54 166.47 L540.89 166.40 L541.00 166.77" fill="none" stroke="#F14040" stroke-width="1.40" stroke-linejoin="round" stroke-linecap="round"/>
<path d="M314.79 72.86 L315.14 71.92 L315.49 70.77 L315.84 69.47 L316.19 68.00 L316.54 65.99 L316.89 62.26 L317.24 56.96 L317.59 50.62 L317.94 46.63 L318.29 44.56 L318.64 43.31 L318.99 42.71 L319.34 42.32 L319.69 41.77 L320.04 40.36 L320.39 38.07 L320.74 36.00 L321.09 34.76 L321.44 33.63 L321.79 32.68 L322.14 32.02 L322.49 31.78 L322.84 32.27 L323.19 33.34 L323.54 34.42 L323.89 35.27 L324.24 36.11 L324.59 36.94 L324.94 37.74 L325.29 38.50 L325.64 39.24 L325.99 39.95 L326.34 40.64 L326.69 41.32 L327.04 42.00 L327.39 42.69 L327.74 43.41 L328.09 44.13 L328.44 44.87 L328.79 45.59 L329.14 46.28 L329.49 46.93 L329.84 47.52 L330.19 48.07 L330.54 48.59 L330.89 49.09 L331.24 49.59 L331.59 50.10 L331.94 50.65 L332.29 51.23 L332.64 51.83 L332.99 52.45 L333.34 53.07 L333.69 53.67 L334.04 54.26 L334.39 54.82 L334.74 55.34 L335.09 55.79 L335.44 56.19 L335.79 56.59 L336.14 57.03 L336.49 57.55 L336.84 58.12 L337.19 58.74 L337.54 59.40 L337.89 60.08 L338.24 60.79 L338.59 61.51 L338.94 62.23 L339.29 62.96 L339.64 63.68 L339.99 64.41 L340.34 65.17 L340.69 65.95 L341.04 66.75 L341.39 67.60 L341.74 68.45 L342.09 69.32 L342.44 70.23 L342.79 71.22 L343.14 72.31 L343.49 73.57 L343.84 75.13 L344.19 76.93 L344.54 78.83 L344.89 80.71 L345.24 82.44 L345.59 84.07 L345.94 85.67 L346.29 87.27 L346.64 88.93 L346.99 90.68 L347.34 92.49 L347.69 94.36 L348.04 96.26 L348.39 98.20 L348.74 100.19 L349.09 102.22 L349.44 104.30 L349.79 106.40 L350.14 108.50 L350.49 110.59 L350.84 112.67 L351.19 114.82 L351.54 117.01 L351.89 119.15 L352.24 121.16 L352.59 122.96 L352.94 124.58 L353.29 126.13 L353.64 127.62 L353.99 129.05 L354.34 130.42 L354.69 131.73 L355.04 132.99 L355.39 134.19 L355.74 135.34 L356.09 136.45 L356.44 137.50 L356.79 138.52 L357.14 139.50 L357.49 140.44 L357.84 141.34 L358.19 142.19 L358.54 143.00 L358.89 143.77 L359.24 144.48 L359.59 145.16 L359.94 145.83 L360.29 146.47 L360.64 147.09 L360.99 147.68 L361.34 148.25 L361.69 148.78 L362.04 149.28 L362.39 149.75 L362.74 150.17 L363.09 150.56 L363.44 150.93 L363.79 151.29 L364.14 151.62 L364.49 151.95 L364.84 152.25 L365.19 151.64 L365.54 152.45 L365.89 152.53 L366.24 152.82 L366.59 152.61 L366.94 153.67 L367.29 154.49 L367.64 154.43 L367.99 154.62 L368.34 154.41 L368.69 155.49 L369.04 155.21 L369.39 155.63 L369.74 154.50 L370.09 155.60 L370.44 155.01 L370.79 155.90 L371.14 155.97 L371.49 155.46 L371.84 156.24 L372.19 156.87 L372.54 156.68 L372.89 156.85 L373.24 156.26 L373.59 156.48 L373.94 156.40 L374.29 157.15 L374.64 157.80 L374.99 157.55 L375.34 157.46 L375.69 157.02 L376.04 157.92 L376.39 157.70 L376.74 156.98 L377.09 157.18 L377.44 157.98 L377.79 157.82 L378.14 159.19 L378.49 158.49 L378.84 158.06 L379.19 158.43 L379.54 159.57 L379.89 158.40 L380.24 159.35 L380.59 159.28 L380.94 159.89 L381.29 159.52 L381.64 159.15 L381.99 159.70 L382.34 159.56 L382.69 160.10 L383.04 159.68 L383.39 160.78 L383.74 159.83 L384.09 160.18 L384.44 159.72 L384.79 160.19 L385.14 160.21 L385.49 160.36 L385.84 160.80 L386.19 160.15 L386.54 160.06 L386.89 161.10 L387.24 160.47 L387.59 160.34 L387.94 161.31 L388.29 161.18 L388.64 159.54 L388.99 160.73 L389.34 161.37 L389.69 161.45 L390.04 160.84 L390.39 161.93 L390.74 160.82 L391.09 161.15 L391.44 161.39 L391.79 161.38 L392.14 161.83 L392.49 161.99 L392.84 161.52 L393.19 162.29 L393.54 161.30 L393.89 161.58 L394.24 162.60 L394.59 161.84 L394.94 162.37 L395.29 161.67 L395.64 161.79 L395.99 161.91 L396.34 162.10 L396.69 161.88 L397.04 162.10 L397.39 162.46 L397.74 162.76 L398.09 162.25 L398.44 162.56 L398.79 162.72 L399.14 161.76 L399.49 161.55 L399.84 163.16 L400.19 163.04 L400.54 162.44 L400.89 162.61 L401.24 161.99 L401.59 161.79 L401.94 162.66 L402.29 161.79 L402.64 163.01 L402.99 162.24 L403.34 162.74 L403.69 163.58 L404.04 163.58 L404.39 162.53 L404.74 163.21 L405.09 162.19 L405.44 162.43 L405.79 162.93 L406.14 163.45 L406.49 162.50 L406.84 163.07 L407.19 162.87 L407.54 162.21 L407.89 162.79 L408.24 163.62 L408.59 162.85 L408.94 163.16 L409.29 163.34 L409.64 162.58 L409.99 163.58 L410.34 163.73 L410.69 163.79 L411.04 163.67 L411.39 162.80 L411.74 162.75 L412.09 162.67 L412.44 162.62 L412.79 162.69 L413.14 163.60 L413.49 163.85 L413.84 162.81 L414.19 163.55 L414.54 162.53 L414.89 163.01 L415.24 162.69 L415.59 162.39 L415.94 163.24 L416.29 163.26 L416.64 163.04 L416.99 162.99 L417.34 162.77 L417.69 163.21 L418.04 162.99 L418.39 163.42 L418.74 162.71 L419.09 163.43 L419.44 163.58 L419.79 163.96 L420.14 163.88 L420.49 163.46 L420.84 163.03 L421.19 162.47 L421.54 163.39 L421.89 164.11 L422.24 164.24 L422.59 162.15 L422.94 163.05 L423.29 163.26 L423.64 162.93 L423.99 163.55 L424.34 163.48 L424.69 163.22 L425.04 163.46 L425.39 162.69 L425.74 163.01 L426.09 163.06 L426.44 163.96 L426.79 162.71 L427.14 163.42 L427.49 163.92 L427.84 163.52 L428.19 163.96 L428.54 163.23 L428.89 163.78 L429.24 164.02 L429.59 164.69 L429.94 163.95 L430.29 164.30 L430.64 163.60 L430.99 163.65 L431.34 164.40 L431.69 163.91 L432.04 164.33 L432.39 163.98 L432.74 164.70 L433.09 164.83 L433.44 163.23 L433.79 164.58 L434.14 163.88 L434.49 163.91 L434.84 163.62 L435.19 164.04 L435.54 163.13 L435.89 163.33 L436.24 163.32 L436.59 163.85 L436.94 164.17 L437.29 164.08 L437.64 163.91 L437.99 163.43 L438.34 162.85 L438.69 163.94 L439.04 163.82 L439.39 163.93 L439.74 164.47 L440.09 163.67 L440.44 163.67 L440.79 162.62 L441.14 164.06 L441.49 163.76 L441.84 163.42 L442.19 163.99 L442.54 163.28 L442.89 163.54 L443.24 164.80 L443.59 164.20 L443.94 164.29 L444.29 164.21 L444.64 164.16 L444.99 163.95 L445.34 165.00 L445.69 163.83 L446.04 164.24 L446.39 163.77 L446.74 163.71 L447.09 162.67 L447.44 162.93 L447.79 164.68 L448.14 164.65 L448.49 163.70 L448.84 163.90 L449.19 164.23 L449.54 163.44 L449.89 164.82 L450.24 163.43 L450.59 163.59 L450.94 162.58 L451.29 164.72 L451.64 164.00 L451.99 164.79 L452.34 163.48 L452.69 164.16 L453.04 164.04 L453.39 164.11 L453.74 165.05 L454.09 165.15 L454.44 164.71 L454.79 163.83 L455.14 164.48 L455.49 164.72 L455.84 164.33 L456.19 164.34 L456.54 164.30 L456.89 163.62 L457.24 164.20 L457.59 164.88 L457.94 163.59 L458.29 164.13 L458.64 164.52 L458.99 163.42 L459.34 164.04 L459.69 163.27 L460.04 163.82 L460.39 163.42 L460.74 163.69 L461.09 163.89 L461.44 164.01 L461.79 164.05 L462.14 162.95 L462.49 164.95 L462.84 164.03 L463.19 163.62 L463.54 163.86 L463.89 164.33 L464.24 163.68 L464.59 163.98 L464.94 163.96 L465.29 164.47 L465.64 163.83 L465.99 164.43 L466.34 164.39 L466.69 164.14 L467.04 164.84 L467.39 164.24 L467.74 163.64 L468.09 164.39 L468.44 164.30 L468.79 164.23 L469.14 164.37 L469.49 165.43 L469.84 164.38 L470.19 164.49 L470.54 164.15 L470.89 164.93 L471.24 164.25 L471.59 163.88 L471.94 163.68 L472.29 164.56 L472.64 164.67 L472.99 163.51 L473.34 163.95 L473.69 164.63 L474.04 164.83 L474.39 163.66 L474.74 164.12 L475.09 164.75 L475.44 164.07 L475.79 164.11 L476.14 164.07 L476.49 163.70 L476.84 164.38 L477.19 164.51 L477.54 163.66 L477.89 164.42 L478.24 164.93 L478.59 164.48 L478.94 164.85 L479.29 164.11 L479.64 165.07 L479.99 164.00 L480.34 165.34 L480.69 164.18 L481.04 164.05 L481.39 163.96 L481.74 164.21 L482.09 164.17 L482.44 164.08 L482.79 164.26 L483.14 164.76 L483.49 164.88 L483.84 164.27 L484.19 165.06 L484.54 163.95 L484.89 163.94 L485.24 163.89 L485.59 164.76 L485.94 163.69 L486.29 163.77 L486.64 165.11 L486.99 165.33 L487.34 165.15 L487.69 163.74 L488.04 164.49 L488.39 164.90 L488.74 164.54 L489.09 163.69 L489.44 164.33 L489.79 163.65 L490.14 163.89 L490.49 165.59 L490.84 164.85 L491.19 163.78 L491.54 163.77 L491.89 164.75 L492.24 164.22 L492.59 164.82 L492.94 164.21 L493.29 164.43 L493.64 164.66 L493.99 164.02 L494.34 163.58 L494.69 163.95 L495.04 164.20 L495.39 164.45 L495.74 164.53 L496.09 164.52 L496.44 164.82 L496.79 164.12 L497.14 165.26 L497.49 165.57 L497.84 164.75 L498.19 164.67 L498.54 165.20 L498.89 164.90 L499.24 164.68 L499.59 164.50 L499.94 164.22 L500.29 164.00 L500.64 164.92 L500.99 165.19 L501.34 164.07 L501.69 164.56 L502.04 164.71 L502.39 164.39 L502.74 164.22 L503.09 164.41 L503.44 163.62 L503.79 164.58 L504.14 164.47 L504.49 165.67 L504.84 165.09 L505.19 164.45 L505.54 164.62 L505.89 165.48 L506.24 165.43 L506.59 164.72 L506.94 164.57 L507.29 163.91 L507.64 164.47 L507.99 164.55 L508.34 164.27 L508.69 165.51 L509.04 163.71 L509.39 164.58 L509.74 164.85 L510.09 164.87 L510.44 165.50 L510.79 163.96 L511.14 164.28 L511.49 164.71 L511.84 164.73 L512.19 164.47 L512.54 164.28 L512.89 165.20 L513.24 164.15 L513.59 164.38 L513.94 165.39 L514.29 165.54 L514.64 165.11 L514.99 164.25 L515.34 164.26 L515.69 164.23 L516.04 164.12 L516.39 164.48 L516.74 165.33 L517.09 164.80 L517.44 164.32 L517.79 164.31 L518.14 164.11 L518.49 165.30 L518.84 163.69 L519.19 164.84 L519.54 163.98 L519.89 164.17 L520.24 163.96 L520.59 165.19 L520.94 164.67 L521.29 166.08 L521.64 164.19 L521.99 164.16 L522.34 165.01 L522.69 165.00 L523.04 164.57 L523.39 163.71 L523.74 165.44 L524.09 165.00 L524.44 164.92 L524.79 164.42 L525.14 165.04 L525.49 164.44 L525.84 164.75 L526.19 164.63 L526.54 165.35 L526.89 164.49 L527.24 164.55 L527.59 165.28 L527.94 164.84 L528.29 164.72 L528.64 164.61 L528.99 165.21 L529.34 164.41 L529.69 164.97 L530.04 165.75 L530.39 164.93 L530.74 164.34 L531.09 164.14 L531.44 164.81 L531.79 164.12 L532.14 163.94 L532.49 164.36 L532.84 164.19 L533.19 165.18 L533.54 164.02 L533.89 165.53 L534.24 164.37 L534.59 164.80 L534.94 165.08 L535.29 164.86 L535.64 165.10 L535.99 164.25 L536.34 163.61 L536.69 164.64 L537.04 163.90 L537.39 164.45 L537.74 165.22 L538.09 164.65 L538.44 164.45 L538.79 164.18 L539.14 164.60 L539.49 164.66 L539.84 163.95 L540.19 164.89 L540.54 164.21 L540.89 164.86 L541.00 164.52" fill="none" stroke="#1A6FDF" stroke-width="1.40" stroke-linejoin="round" stroke-linecap="round"/>
<path d="M314.90 72.97 L315.25 72.22 L315.60 71.25 L315.95 70.13 L316.30 68.88 L316.65 67.21 L317.00 64.20 L317.35 59.48 L317.70 53.41 L318.05 48.57 L318.40 46.13 L318.75 44.43 L319.10 43.67 L319.45 43.28 L319.80 43.04 L320.15 42.83 L320.50 42.59 L320.85 42.20 L321.20 41.57 L321.55 40.68 L321.90 39.58 L322.25 37.72 L322.60 35.34 L322.95 34.18 L323.30 34.05 L323.65 33.99 L324.00 34.17 L324.35 35.24 L324.70 36.80 L325.05 38.32 L325.40 39.38 L325.75 40.23 L326.10 41.01 L326.45 41.77 L326.80 42.58 L327.15 43.47 L327.50 44.41 L327.85 45.37 L328.20 46.32 L328.55 47.22 L328.90 48.12 L329.25 49.01 L329.60 49.86 L329.95 50.61 L330.30 51.21 L330.65 51.73 L331.00 52.20 L331.35 52.62 L331.70 53.02 L332.05 53.40 L332.40 53.79 L332.75 54.16 L333.10 54.51 L333.45 54.85 L333.80 55.18 L334.15 55.52 L334.50 55.88 L334.85 56.25 L335.20 56.63 L335.55 57.04 L335.90 57.49 L336.25 58.01 L336.60 58.60 L336.95 59.24 L337.30 59.92 L337.65 60.62 L338.00 61.32 L338.35 62.02 L338.70 62.70 L339.05 63.34 L339.40 63.94 L339.75 64.52 L340.10 65.10 L340.45 65.68 L340.80 66.28 L341.15 66.92 L341.50 67.59 L341.85 68.27 L342.20 68.97 L342.55 69.69 L342.90 70.46 L343.25 71.29 L343.60 72.19 L343.95 73.19 L344.30 74.39 L344.65 75.79 L345.00 77.33 L345.35 78.94 L345.70 80.55 L346.05 82.09 L346.40 83.60 L346.75 85.13 L347.10 86.66 L347.45 88.21 L347.80 89.75 L348.15 91.25 L348.50 92.71 L348.85 94.18 L349.20 95.73 L349.55 97.40 L349.90 99.26 L350.25 101.38 L350.60 103.70 L350.95 106.12 L351.30 108.54 L351.65 110.88 L352.00 113.08 L352.35 115.31 L352.70 117.51 L353.05 119.62 L353.40 121.55 L353.75 123.23 L354.10 124.75 L354.45 126.19 L354.80 127.56 L355.15 128.86 L355.50 130.10 L355.85 131.28 L356.20 132.42 L356.55 133.52 L356.90 134.58 L357.25 135.63 L357.60 136.65 L357.95 137.65 L358.30 138.63 L358.65 139.58 L359.00 140.50 L359.35 141.39 L359.70 142.24 L360.05 143.06 L360.40 143.84 L360.75 144.60 L361.10 145.33 L361.45 146.05 L361.80 146.75 L362.15 147.44 L362.50 148.10 L362.85 148.74 L363.20 149.35 L363.55 149.92 L363.90 150.45 L364.25 150.94 L364.60 151.39 L364.95 151.83 L365.30 152.38 L365.65 153.05 L366.00 153.31 L366.35 153.78 L366.70 153.91 L367.05 154.40 L367.40 154.55 L367.75 154.52 L368.10 154.61 L368.45 154.90 L368.80 155.67 L369.15 155.05 L369.50 156.06 L369.85 156.02 L370.20 156.69 L370.55 156.74 L370.90 156.66 L371.25 157.09 L371.60 156.60 L371.95 157.55 L372.30 157.79 L372.65 157.27 L373.00 158.25 L373.35 158.13 L373.70 158.38 L374.05 158.06 L374.40 158.82 L374.75 158.96 L375.10 158.93 L375.45 158.78 L375.80 159.44 L376.15 159.72 L376.50 159.59 L376.85 159.90 L377.20 159.55 L377.55 159.90 L377.90 160.09 L378.25 160.14 L378.60 161.06 L378.95 160.46 L379.30 160.29 L379.65 160.82 L380.00 160.36 L380.35 160.92 L380.70 161.16 L381.05 160.90 L381.40 161.07 L381.75 161.01 L382.10 161.45 L382.45 161.32 L382.80 162.16 L383.15 161.95 L383.50 161.80 L383.85 161.55 L384.20 162.69 L384.55 162.57 L384.90 162.42 L385.25 162.44 L385.60 162.52 L385.95 162.41 L386.30 163.20 L386.65 162.77 L387.00 162.34 L387.35 162.65 L387.70 162.13 L388.05 163.17 L388.40 163.26 L388.75 163.63 L389.10 163.79 L389.45 162.98 L389.80 163.41 L390.15 163.63 L390.50 163.62 L390.85 163.29 L391.20 163.73 L391.55 163.69 L391.90 164.00 L392.25 163.64 L392.60 163.62 L392.95 163.59 L393.30 163.67 L393.65 163.60 L394.00 163.78 L394.35 164.07 L394.70 164.10 L395.05 164.40 L395.40 164.38 L395.75 164.28 L396.10 163.78 L396.45 164.34 L396.80 164.55 L397.15 163.85 L397.50 163.94 L397.85 164.03 L398.20 164.03 L398.55 164.29 L398.90 164.13 L399.25 164.56 L399.60 164.11 L399.95 164.47 L400.30 164.39 L400.65 164.28 L401.00 164.91 L401.35 164.63 L401.70 164.82 L402.05 164.59 L402.40 164.93 L402.75 164.93 L403.10 164.73 L403.45 164.27 L403.80 165.08 L404.15 165.07 L404.50 164.94 L404.85 164.99 L405.20 164.98 L405.55 165.03 L405.90 164.69 L406.25 165.00 L406.60 165.14 L406.95 164.89 L407.30 164.81 L407.65 165.68 L408.00 165.33 L408.35 165.08 L408.70 165.05 L409.05 164.43 L409.40 164.82 L409.75 165.20 L410.10 165.68 L410.45 164.70 L410.80 165.14 L411.15 165.94 L411.50 165.59 L411.85 165.54 L412.20 165.79 L412.55 165.42 L412.90 165.43 L413.25 165.71 L413.60 165.78 L413.95 165.22 L414.30 166.02 L414.65 165.06 L415.00 165.39 L415.35 166.54 L415.70 165.48 L416.05 165.85 L416.40 165.37 L416.75 165.60 L417.10 165.49 L417.45 165.61 L417.80 165.94 L418.15 166.28 L418.50 166.04 L418.85 166.26 L419.20 165.65 L419.55 166.26 L419.90 166.00 L420.25 166.26 L420.60 165.74 L420.95 165.81 L421.30 166.30 L421.65 166.08 L422.00 165.94 L422.35 165.72 L422.70 165.90 L423.05 166.09 L423.40 166.17 L423.75 165.80 L424.10 165.87 L424.45 166.11 L424.80 165.66 L425.15 166.28 L425.50 166.00 L425.85 165.97 L426.20 165.29 L426.55 165.55 L426.90 165.72 L427.25 165.86 L427.60 165.72 L427.95 166.16 L428.30 166.10 L428.65 165.98 L429.00 165.46 L429.35 166.50 L429.70 166.00 L430.05 166.27 L430.40 165.90 L430.75 166.10 L431.10 166.32 L431.45 166.19 L431.80 166.41 L432.15 166.07 L432.50 166.73 L432.85 165.57 L433.20 165.98 L433.55 166.44 L433.90 166.08 L434.25 166.03 L434.60 165.63 L434.95 166.53 L435.30 165.61 L435.65 166.33 L436.00 166.24 L436.35 166.45 L436.70 166.63 L437.05 165.99 L437.40 165.96 L437.75 166.12 L438.10 165.70 L438.45 166.47 L438.80 166.11 L439.15 166.28 L439.50 165.90 L439.85 166.24 L440.20 166.06 L440.55 166.23 L440.90 165.93 L441.25 166.57 L441.60 166.07 L441.95 165.51 L442.30 166.47 L442.65 166.19 L443.00 166.02 L443.35 167.05 L443.70 166.29 L444.05 165.91 L444.40 166.13 L444.75 166.43 L445.10 166.26 L445.45 166.71 L445.80 166.66 L446.15 166.11 L446.50 166.36 L446.85 166.55 L447.20 166.24 L447.55 166.23 L447.90 166.64 L448.25 166.52 L448.60 165.97 L448.95 166.23 L449.30 166.28 L449.65 166.38 L450.00 166.20 L450.35 166.83 L450.70 166.14 L451.05 166.11 L451.40 166.51 L451.75 165.78 L452.10 166.15 L452.45 166.65 L452.80 166.08 L453.15 166.23 L453.50 166.81 L453.85 166.63 L454.20 166.52 L454.55 166.58 L454.90 166.31 L455.25 166.61 L455.60 166.47 L455.95 167.28 L456.30 166.70 L456.65 166.45 L457.00 166.54 L457.35 166.58 L457.70 166.15 L458.05 166.33 L458.40 167.04 L458.75 166.17 L459.10 166.42 L459.45 166.91 L459.80 167.06 L460.15 166.30 L460.50 167.06 L460.85 166.52 L461.20 167.13 L461.55 166.79 L461.90 166.56 L462.25 166.87 L462.60 166.82 L462.95 166.43 L463.30 167.31 L463.65 166.57 L464.00 167.02 L464.35 166.54 L464.70 166.14 L465.05 166.36 L465.40 166.67 L465.75 166.91 L466.10 167.24 L466.45 166.74 L466.80 166.64 L467.15 166.36 L467.50 166.72 L467.85 166.83 L468.20 166.08 L468.55 167.14 L468.90 167.10 L469.25 167.44 L469.60 166.49 L469.95 166.78 L470.30 166.78 L470.65 166.38 L471.00 166.53 L471.35 166.49 L471.70 166.95 L472.05 166.93 L472.40 167.21 L472.75 166.69 L473.10 166.40 L473.45 166.95 L473.80 166.94 L474.15 167.03 L474.50 167.21 L474.85 166.67 L475.20 167.09 L475.55 166.55 L475.90 166.90 L476.25 167.07 L476.60 166.83 L476.95 166.94 L477.30 166.46 L477.65 166.69 L478.00 166.93 L478.35 166.53 L478.70 166.64 L479.05 167.63 L479.40 166.98 L479.75 166.66 L480.10 166.60 L480.45 167.33 L480.80 166.08 L481.15 166.82 L481.50 167.11 L481.85 166.75 L482.20 167.08 L482.55 166.61 L482.90 166.93 L483.25 166.95 L483.60 166.94 L483.95 166.99 L484.30 166.96 L484.65 167.29 L485.00 166.88 L485.35 166.78 L485.70 166.88 L486.05 166.88 L486.40 166.51 L486.75 166.40 L487.10 166.57 L487.45 167.07 L487.80 166.79 L488.15 166.87 L488.50 167.86 L488.85 167.34 L489.20 166.94 L489.55 166.82 L489.90 167.43 L490.25 166.79 L490.60 167.40 L490.95 167.21 L491.30 167.45 L491.65 166.82 L492.00 167.31 L492.35 166.50 L492.70 167.00 L493.05 167.38 L493.40 167.27 L493.75 166.51 L494.10 167.27 L494.45 167.21 L494.80 167.06 L495.15 166.86 L495.50 167.00 L495.85 166.92 L496.20 167.38 L496.55 167.24 L496.90 167.42 L497.25 167.31 L497.60 166.72 L497.95 167.15 L498.30 167.76 L498.65 166.79 L499.00 167.21 L499.35 166.89 L499.70 166.87 L500.05 167.20 L500.40 167.42 L500.75 167.37 L501.10 167.29 L501.45 167.44 L501.80 166.67 L502.15 167.40 L502.50 167.28 L502.85 167.11 L503.20 167.17 L503.55 166.92 L503.90 167.53 L504.25 166.96 L504.60 166.74 L504.95 167.19 L505.30 167.02 L505.65 167.18 L506.00 167.65 L506.35 167.16 L506.70 167.25 L507.05 167.89 L507.40 166.79 L507.75 167.33 L508.10 167.57 L508.45 167.68 L508.80 167.91 L509.15 167.04 L509.50 167.42 L509.85 167.21 L510.20 167.11 L510.55 167.03 L510.90 166.81 L511.25 167.36 L511.60 167.49 L511.95 166.95 L512.30 167.50 L512.65 167.11 L513.00 166.97 L513.35 166.49 L513.70 167.62 L514.05 167.50 L514.40 167.20 L514.75 167.18 L515.10 166.91 L515.45 167.46 L515.80 167.29 L516.15 167.47 L516.50 167.37 L516.85 166.89 L517.20 166.85 L517.55 167.45 L517.90 166.82 L518.25 167.41 L518.60 167.61 L518.95 166.95 L519.30 167.55 L519.65 167.36 L520.00 167.52 L520.35 167.17 L520.70 167.36 L521.05 167.50 L521.40 167.92 L521.75 167.60 L522.10 167.53 L522.45 166.99 L522.80 167.49 L523.15 167.19 L523.50 167.38 L523.85 167.48 L524.20 167.70 L524.55 167.59 L524.90 167.47 L525.25 167.40 L525.60 167.83 L525.95 167.16 L526.30 167.44 L526.65 167.85 L527.00 167.38 L527.35 167.69 L527.70 167.71 L528.05 168.04 L528.40 167.79 L528.75 166.95 L529.10 167.45 L529.45 167.54 L529.80 167.71 L530.15 167.58 L530.50 168.03 L530.85 167.80 L531.20 167.11 L531.55 167.28 L531.90 166.84 L532.25 167.99 L532.60 167.43 L532.95 167.43 L533.30 166.99 L533.65 167.34 L534.00 167.60 L534.35 167.35 L534.70 167.35 L535.05 167.29 L535.40 168.08 L535.75 167.31 L536.10 167.04 L536.45 167.32 L536.80 167.37 L537.15 167.45 L537.50 167.41 L537.85 167.14 L538.20 167.42 L538.55 167.60 L538.90 167.06 L539.25 168.09 L539.60 168.01 L539.95 166.94 L540.30 167.38 L540.65 167.80 L541.00 167.91" fill="none" stroke="#37AD6B" stroke-width="1.40" stroke-linejoin="round" stroke-linecap="round"/>
<path d="M315.01 73.41 L315.36 73.06 L315.71 72.66 L316.06 72.20 L316.41 71.69 L316.76 71.18 L317.11 70.65 L317.46 69.98 L317.81 69.08 L318.16 67.46 L318.51 64.76 L318.86 61.39 L319.21 56.81 L319.56 54.65 L319.91 52.46 L320.26 49.11 L320.61 46.05 L320.96 44.66 L321.31 43.90 L321.66 43.30 L322.01 42.88 L322.36 42.67 L322.71 42.66 L323.06 42.67 L323.41 42.68 L323.76 42.69 L324.11 42.71 L324.46 42.73 L324.81 42.76 L325.16 42.81 L325.51 42.92 L325.86 43.08 L326.21 43.30 L326.56 43.58 L326.91 43.90 L327.26 44.60 L327.61 45.71 L327.96 46.94 L328.31 48.06 L328.66 49.22 L329.01 50.41 L329.36 51.47 L329.71 52.28 L330.06 52.94 L330.41 53.52 L330.76 54.05 L331.11 54.52 L331.46 54.97 L331.81 55.39 L332.16 55.77 L332.51 56.09 L332.86 56.39 L333.21 56.69 L333.56 57.03 L333.91 57.45 L334.26 58.03 L334.61 58.88 L334.96 59.85 L335.31 60.79 L335.66 61.52 L336.01 62.07 L336.36 62.58 L336.71 63.05 L337.06 63.48 L337.41 63.89 L337.76 64.26 L338.11 64.61 L338.46 64.94 L338.81 65.25 L339.16 65.54 L339.51 65.81 L339.86 66.06 L340.21 66.28 L340.56 66.50 L340.91 66.71 L341.26 66.92 L341.61 67.14 L341.96 67.37 L342.31 67.62 L342.66 67.87 L343.01 68.11 L343.36 68.36 L343.71 68.62 L344.06 68.90 L344.41 69.20 L344.76 69.52 L345.11 69.89 L345.46 70.31 L345.81 70.79 L346.16 71.31 L346.51 71.88 L346.86 72.49 L347.21 73.12 L347.56 73.79 L347.91 74.48 L348.26 75.24 L348.61 76.05 L348.96 76.93 L349.31 77.85 L349.66 78.82 L350.01 79.83 L350.36 80.87 L350.71 81.96 L351.06 83.11 L351.41 84.35 L351.76 85.69 L352.11 87.17 L352.46 88.96 L352.81 91.11 L353.16 93.28 L353.51 95.14 L353.86 96.77 L354.21 98.31 L354.56 99.88 L354.91 101.60 L355.26 103.48 L355.61 105.45 L355.96 107.46 L356.31 109.47 L356.66 111.40 L357.01 113.26 L357.36 115.15 L357.71 117.02 L358.06 118.84 L358.41 120.55 L358.76 122.13 L359.11 123.52 L359.46 124.83 L359.81 126.07 L360.16 127.26 L360.51 128.40 L360.86 129.49 L361.21 130.54 L361.56 131.56 L361.91 132.56 L362.26 133.53 L362.61 134.49 L362.96 135.44 L363.31 136.39 L363.66 137.34 L364.01 138.30 L364.36 139.25 L364.71 140.19 L365.06 141.11 L365.41 141.95 L365.76 142.95 L366.11 142.92 L366.46 144.78 L366.81 144.87 L367.16 145.60 L367.51 146.43 L367.86 146.90 L368.21 147.13 L368.56 148.07 L368.91 149.10 L369.26 149.51 L369.61 150.04 L369.96 149.92 L370.31 150.42 L370.66 151.18 L371.01 151.67 L371.36 151.56 L371.71 151.58 L372.06 151.59 L372.41 152.91 L372.76 152.29 L373.11 153.15 L373.46 153.55 L373.81 154.51 L374.16 153.81 L374.51 153.94 L374.86 154.33 L375.21 154.55 L375.56 155.01 L375.91 155.00 L376.26 154.75 L376.61 154.52 L376.96 155.43 L377.31 155.30 L377.66 156.11 L378.01 155.43 L378.36 156.05 L378.71 155.90 L379.06 155.99 L379.41 156.91 L379.76 156.57 L380.11 156.58 L380.46 156.97 L380.81 156.61 L381.16 156.84 L381.51 156.86 L381.86 157.77 L382.21 157.36 L382.56 157.54 L382.91 157.78 L383.26 157.47 L383.61 157.56 L383.96 157.19 L384.31 157.92 L384.66 157.94 L385.01 157.81 L385.36 158.39 L385.71 157.54 L386.06 158.30 L386.41 157.82 L386.76 157.97 L387.11 158.34 L387.46 158.90 L387.81 158.20 L388.16 158.33 L388.51 158.34 L388.86 159.42 L389.21 159.04 L389.56 159.08 L389.91 159.67 L390.26 159.17 L390.61 158.52 L390.96 159.08 L391.31 158.94 L391.66 160.01 L392.01 159.00 L392.36 159.60 L392.71 159.41 L393.06 159.50 L393.41 159.70 L393.76 159.71 L394.11 159.59 L394.46 159.47 L394.81 159.71 L395.16 159.63 L395.51 159.73 L395.86 160.09 L396.21 160.05 L396.56 160.30 L396.91 160.12 L397.26 160.83 L397.61 160.05 L397.96 160.00 L398.31 160.68 L398.66 160.18 L399.01 160.48 L399.36 160.78 L399.71 160.49 L400.06 160.45 L400.41 160.90 L400.76 160.74 L401.11 160.51 L401.46 160.34 L401.81 160.63 L402.16 160.27 L402.51 160.56 L402.86 160.53 L403.21 161.00 L403.56 161.18 L403.91 160.78 L404.26 160.88 L404.61 160.72 L404.96 160.67 L405.31 161.00 L405.66 161.35 L406.01 161.36 L406.36 161.43 L406.71 161.20 L407.06 160.47 L407.41 161.65 L407.76 161.81 L408.11 161.72 L408.46 161.75 L408.81 161.85 L409.16 162.38 L409.51 161.68 L409.86 162.10 L410.21 161.90 L410.56 161.90 L410.91 161.68 L411.26 161.65 L411.61 161.44 L411.96 162.01 L412.31 161.77 L412.66 161.52 L413.01 161.69 L413.36 161.60 L413.71 162.50 L414.06 161.96 L414.41 162.10 L414.76 161.72 L415.11 161.81 L415.46 162.49 L415.81 162.13 L416.16 162.30 L416.51 162.84 L416.86 162.95 L417.21 162.55 L417.56 162.52 L417.91 162.47 L418.26 162.34 L418.61 163.09 L418.96 162.11 L419.31 162.50 L419.66 161.96 L420.01 162.19 L420.36 162.74 L420.71 162.79 L421.06 162.78 L421.41 162.61 L421.76 162.52 L422.11 162.60 L422.46 162.68 L422.81 163.17 L423.16 163.32 L423.51 163.03 L423.86 162.75 L424.21 162.66 L424.56 163.07 L424.91 162.94 L425.26 162.47 L425.61 163.49 L425.96 163.09 L426.31 163.02 L426.66 162.88 L427.01 162.91 L427.36 163.49 L427.71 162.94 L428.06 163.30 L428.41 163.49 L428.76 163.90 L429.11 163.54 L429.46 163.37 L429.81 163.27 L430.16 163.70 L430.51 163.77 L430.86 163.36 L431.21 163.70 L431.56 163.50 L431.91 163.06 L432.26 163.28 L432.61 163.88 L432.96 164.10 L433.31 163.89 L433.66 163.64 L434.01 163.51 L434.36 163.92 L434.71 163.88 L435.06 163.30 L435.41 164.03 L435.76 163.64 L436.11 164.09 L436.46 164.07 L436.81 164.16 L437.16 164.29 L437.51 164.20 L437.86 163.67 L438.21 163.71 L438.56 164.37 L438.91 164.22 L439.26 163.61 L439.61 163.49 L439.96 164.42 L440.31 164.86 L440.66 164.44 L441.01 164.13 L441.36 164.31 L441.71 163.40 L442.06 163.96 L442.41 164.61 L442.76 164.58 L443.11 163.67 L443.46 164.72 L443.81 164.54 L444.16 164.68 L444.51 164.35 L444.86 164.43 L445.21 164.11 L445.56 164.57 L445.91 164.76 L446.26 164.21 L446.61 164.64 L446.96 164.37 L447.31 164.88 L447.66 164.88 L448.01 163.86 L448.36 164.75 L448.71 164.95 L449.06 164.47 L449.41 164.60 L449.76 164.63 L450.11 164.34 L450.46 164.68 L450.81 165.22 L451.16 164.90 L451.51 165.24 L451.86 165.09 L452.21 165.17 L452.56 164.85 L452.91 165.07 L453.26 165.48 L453.61 165.32 L453.96 164.98 L454.31 164.68 L454.66 164.62 L455.01 165.00 L455.36 165.08 L455.71 164.38 L456.06 165.04 L456.41 165.09 L456.76 165.10 L457.11 164.84 L457.46 165.75 L457.81 165.32 L458.16 164.63 L458.51 164.85 L458.86 165.34 L459.21 165.26 L459.56 165.15 L459.91 165.12 L460.26 165.07 L460.61 165.01 L460.96 164.84 L461.31 165.35 L461.66 164.32 L462.01 164.97 L462.36 165.60 L462.71 164.98 L463.06 164.86 L463.41 165.84 L463.76 165.58 L464.11 165.22 L464.46 165.10 L464.81 165.22 L465.16 165.20 L465.51 165.24 L465.86 165.10 L466.21 165.51 L466.56 165.18 L466.91 164.80 L467.26 164.97 L467.61 165.39 L467.96 165.08 L468.31 164.64 L468.66 165.89 L469.01 165.59 L469.36 165.30 L469.71 165.29 L470.06 165.62 L470.41 165.90 L470.76 165.29 L471.11 165.63 L471.46 165.32 L471.81 165.62 L472.16 165.18 L472.51 164.98 L472.86 165.58 L473.21 165.55 L473.56 165.80 L473.91 165.38 L474.26 166.03 L474.61 165.64 L474.96 166.10 L475.31 165.53 L475.66 166.12 L476.01 165.64 L476.36 165.71 L476.71 165.98 L477.06 165.14 L477.41 165.37 L477.76 166.28 L478.11 165.26 L478.46 165.58 L478.81 165.92 L479.16 166.21 L479.51 165.61 L479.86 165.82 L480.21 165.44 L480.56 165.68 L480.91 166.13 L481.26 165.92 L481.61 165.82 L481.96 165.97 L482.31 165.90 L482.66 165.92 L483.01 165.76 L483.36 165.58 L483.71 166.10 L484.06 165.55 L484.41 166.23 L484.76 166.59 L485.11 166.40 L485.46 166.66 L485.81 165.63 L486.16 166.04 L486.51 165.72 L486.86 165.75 L487.21 165.46 L487.56 165.63 L487.91 166.28 L488.26 166.24 L488.61 166.40 L488.96 166.39 L489.31 166.29 L489.66 165.81 L490.01 166.03 L490.36 166.30 L490.71 166.47 L491.06 165.98 L491.41 165.95 L491.76 165.98 L492.11 166.61 L492.46 166.30 L492.81 166.04 L493.16 165.91 L493.51 166.29 L493.86 165.64 L494.21 166.10 L494.56 166.00 L494.91 166.00 L495.26 166.25 L495.61 166.33 L495.96 167.15 L496.31 166.24 L496.66 166.44 L497.01 165.98 L497.36 165.72 L497.71 166.59 L498.06 166.85 L498.41 165.94 L498.76 166.24 L499.11 166.61 L499.46 166.30 L499.81 165.54 L500.16 166.60 L500.51 166.25 L500.86 166.52 L501.21 166.00 L501.56 166.58 L501.91 166.63 L502.26 166.09 L502.61 166.47 L502.96 166.13 L503.31 166.17 L503.66 166.05 L504.01 166.21 L504.36 166.13 L504.71 166.71 L505.06 166.28 L505.41 166.01 L505.76 166.79 L506.11 166.54 L506.46 166.68 L506.81 166.36 L507.16 166.60 L507.51 166.36 L507.86 166.10 L508.21 166.43 L508.56 166.45 L508.91 166.45 L509.26 166.67 L509.61 165.88 L509.96 166.51 L510.31 166.18 L510.66 166.35 L511.01 166.57 L511.36 166.46 L511.71 166.24 L512.06 166.69 L512.41 166.44 L512.76 166.75 L513.11 166.85 L513.46 166.36 L513.81 166.14 L514.16 166.51 L514.51 166.74 L514.86 166.59 L515.21 166.14 L515.56 165.98 L515.91 166.22 L516.26 166.22 L516.61 166.70 L516.96 166.54 L517.31 166.79 L517.66 166.50 L518.01 167.04 L518.36 166.54 L518.71 166.71 L519.06 166.42 L519.41 166.69 L519.76 166.89 L520.11 166.79 L520.46 166.95 L520.81 166.38 L521.16 166.71 L521.51 167.10 L521.86 166.65 L522.21 166.53 L522.56 166.51 L522.91 166.43 L523.26 166.64 L523.61 167.02 L523.96 166.74 L524.31 166.59 L524.66 166.36 L525.01 166.26 L525.36 167.34 L525.71 166.47 L526.06 166.65 L526.41 166.47 L526.76 166.67 L527.11 166.49 L527.46 166.66 L527.81 167.07 L528.16 166.40 L528.51 166.79 L528.86 166.61 L529.21 166.86 L529.56 166.43 L529.91 166.76 L530.26 166.34 L530.61 166.09 L530.96 166.24 L531.31 166.35 L531.66 166.30 L532.01 166.55 L532.36 166.98 L532.71 166.30 L533.06 166.78 L533.41 166.69 L533.76 166.43 L534.11 166.37 L534.46 166.78 L534.81 166.80 L535.16 166.55 L535.51 166.61 L535.86 166.65 L536.21 166.26 L536.56 166.69 L536.91 166.75 L537.26 167.19 L537.61 166.27 L537.96 166.40 L538.31 166.69 L538.66 166.48 L539.01 166.54 L539.36 166.66 L539.71 166.57 L540.06 166.65 L540.41 166.80 L540.76 166.17 L541.00 166.83" fill="none" stroke="#B177DE" stroke-width="1.40" stroke-linejoin="round" stroke-linecap="round"/>
</g>
<rect x="306.50" y="7.60" width="234.50" height="169.70" fill="none" stroke="#4a4a4a" stroke-width="0.9"/>
<line x1="306.50" y1="177.30" x2="306.50" y2="180.30" stroke="#4a4a4a" stroke-width="0.9"/>
<text x="306.50" y="188.80" text-anchor="middle" class="t">0</text>
<line x1="345.58" y1="177.30" x2="345.58" y2="180.30" stroke="#4a4a4a" stroke-width="0.9"/>
<text x="345.58" y="188.80" text-anchor="middle" class="t">50</text>
<line x1="384.67" y1="177.30" x2="384.67" y2="180.30" stroke="#4a4a4a" stroke-width="0.9"/>
<text x="384.67" y="188.80" text-anchor="middle" class="t">100</text>
<line x1="423.75" y1="177.30" x2="423.75" y2="180.30" stroke="#4a4a4a" stroke-width="0.9"/>
<text x="423.75" y="188.80" text-anchor="middle" class="t">150</text>
<line x1="462.83" y1="177.30" x2="462.83" y2="180.30" stroke="#4a4a4a" stroke-width="0.9"/>
<text x="462.83" y="188.80" text-anchor="middle" class="t">200</text>
<line x1="501.92" y1="177.30" x2="501.92" y2="180.30" stroke="#4a4a4a" stroke-width="0.9"/>
<text x="501.92" y="188.80" text-anchor="middle" class="t">250</text>
<line x1="541.00" y1="177.30" x2="541.00" y2="180.30" stroke="#4a4a4a" stroke-width="0.9"/>
<text x="541.00" y="188.80" text-anchor="middle" class="t">300</text>
<line x1="326.04" y1="177.30" x2="326.04" y2="178.90" stroke="#4a4a4a" stroke-width="0.8"/>
<line x1="365.12" y1="177.30" x2="365.12" y2="178.90" stroke="#4a4a4a" stroke-width="0.8"/>
<line x1="404.21" y1="177.30" x2="404.21" y2="178.90" stroke="#4a4a4a" stroke-width="0.8"/>
<line x1="443.29" y1="177.30" x2="443.29" y2="178.90" stroke="#4a4a4a" stroke-width="0.8"/>
<line x1="482.38" y1="177.30" x2="482.38" y2="178.90" stroke="#4a4a4a" stroke-width="0.8"/>
<line x1="521.46" y1="177.30" x2="521.46" y2="178.90" stroke="#4a4a4a" stroke-width="0.8"/>
<line x1="303.50" y1="168.45" x2="306.50" y2="168.45" stroke="#4a4a4a" stroke-width="0.9"/>
<text x="301.30" y="170.75" text-anchor="end" class="t">0</text>
<line x1="303.50" y1="150.58" x2="306.50" y2="150.58" stroke="#4a4a4a" stroke-width="0.9"/>
<text x="301.30" y="152.88" text-anchor="end" class="t">100</text>
<line x1="303.50" y1="132.71" x2="306.50" y2="132.71" stroke="#4a4a4a" stroke-width="0.9"/>
<text x="301.30" y="135.01" text-anchor="end" class="t">200</text>
<line x1="303.50" y1="114.84" x2="306.50" y2="114.84" stroke="#4a4a4a" stroke-width="0.9"/>
<text x="301.30" y="117.14" text-anchor="end" class="t">300</text>
<line x1="303.50" y1="96.97" x2="306.50" y2="96.97" stroke="#4a4a4a" stroke-width="0.9"/>
<text x="301.30" y="99.27" text-anchor="end" class="t">400</text>
<line x1="303.50" y1="79.10" x2="306.50" y2="79.10" stroke="#4a4a4a" stroke-width="0.9"/>
<text x="301.30" y="81.40" text-anchor="end" class="t">500</text>
<line x1="303.50" y1="61.23" x2="306.50" y2="61.23" stroke="#4a4a4a" stroke-width="0.9"/>
<text x="301.30" y="63.53" text-anchor="end" class="t">600</text>
<line x1="303.50" y1="43.36" x2="306.50" y2="43.36" stroke="#4a4a4a" stroke-width="0.9"/>
<text x="301.30" y="45.66" text-anchor="end" class="t">700</text>
<line x1="303.50" y1="25.49" x2="306.50" y2="25.49" stroke="#4a4a4a" stroke-width="0.9"/>
<text x="301.30" y="27.79" text-anchor="end" class="t">800</text>
<line x1="303.50" y1="7.62" x2="306.50" y2="7.62" stroke="#4a4a4a" stroke-width="0.9"/>
<text x="301.30" y="9.92" text-anchor="end" class="t">900</text>
<line x1="304.90" y1="159.51" x2="306.50" y2="159.51" stroke="#4a4a4a" stroke-width="0.8"/>
<line x1="304.90" y1="141.64" x2="306.50" y2="141.64" stroke="#4a4a4a" stroke-width="0.8"/>
<line x1="304.90" y1="123.77" x2="306.50" y2="123.77" stroke="#4a4a4a" stroke-width="0.8"/>
<line x1="304.90" y1="105.90" x2="306.50" y2="105.90" stroke="#4a4a4a" stroke-width="0.8"/>
<line x1="304.90" y1="88.03" x2="306.50" y2="88.03" stroke="#4a4a4a" stroke-width="0.8"/>
<line x1="304.90" y1="70.16" x2="306.50" y2="70.16" stroke="#4a4a4a" stroke-width="0.8"/>
<line x1="304.90" y1="52.29" x2="306.50" y2="52.29" stroke="#4a4a4a" stroke-width="0.8"/>
<line x1="304.90" y1="34.42" x2="306.50" y2="34.42" stroke="#4a4a4a" stroke-width="0.8"/>
<line x1="304.90" y1="16.55" x2="306.50" y2="16.55" stroke="#4a4a4a" stroke-width="0.8"/>
<line x1="423.75" y1="7.60" x2="423.75" y2="8.80" stroke="#4a4a4a" stroke-width="0.7"/>
<line x1="539.80" y1="92.45" x2="541.00" y2="92.45" stroke="#4a4a4a" stroke-width="0.7"/>
<text transform="translate(283.60 92.45) rotate(-90)" text-anchor="middle" class="l" style="font-size:8.72px">Dielectric polarization</text>
<text x="423.00" y="202.90" text-anchor="middle" class="l">Time, s</text>
<line x1="474.00" y1="15.30" x2="492.70" y2="15.30" stroke="#515151" stroke-width="1.50"/>
<text x="494.80" y="18.20" class="t">W20_1,1</text>
<line x1="474.00" y1="25.00" x2="492.70" y2="25.00" stroke="#F14040" stroke-width="1.50"/>
<text x="494.80" y="27.90" class="t">W22_1,1</text>
<line x1="474.00" y1="34.70" x2="492.70" y2="34.70" stroke="#1A6FDF" stroke-width="1.50"/>
<text x="494.80" y="37.60" class="t">W24_1,1</text>
<line x1="474.00" y1="44.50" x2="492.70" y2="44.50" stroke="#37AD6B" stroke-width="1.50"/>
<text x="494.80" y="47.40" class="t">W26_1,1</text>
<line x1="474.00" y1="54.40" x2="492.70" y2="54.40" stroke="#B177DE" stroke-width="1.50"/>
<text x="494.80" y="57.30" class="t">W28_1,1</text>
<!-- chart c -->
<line x1="189.74" y1="236.40" x2="189.74" y2="411.45" stroke="#eeeeee" stroke-width="0.7"/>
<line x1="209.08" y1="236.40" x2="209.08" y2="411.45" stroke="#eeeeee" stroke-width="0.7"/>
<line x1="228.43" y1="236.40" x2="228.43" y2="411.45" stroke="#eeeeee" stroke-width="0.7"/>
<line x1="247.77" y1="236.40" x2="247.77" y2="411.45" stroke="#eeeeee" stroke-width="0.7"/>
<line x1="267.11" y1="236.40" x2="267.11" y2="411.45" stroke="#eeeeee" stroke-width="0.7"/>
<line x1="286.45" y1="236.40" x2="286.45" y2="411.45" stroke="#eeeeee" stroke-width="0.7"/>
<line x1="305.79" y1="236.40" x2="305.79" y2="411.45" stroke="#eeeeee" stroke-width="0.7"/>
<line x1="325.13" y1="236.40" x2="325.13" y2="411.45" stroke="#eeeeee" stroke-width="0.7"/>
<line x1="344.48" y1="236.40" x2="344.48" y2="411.45" stroke="#eeeeee" stroke-width="0.7"/>
<line x1="363.82" y1="236.40" x2="363.82" y2="411.45" stroke="#eeeeee" stroke-width="0.7"/>
<line x1="383.16" y1="236.40" x2="383.16" y2="411.45" stroke="#eeeeee" stroke-width="0.7"/>
<line x1="170.40" y1="407.45" x2="402.50" y2="407.45" stroke="#eeeeee" stroke-width="0.7"/>
<line x1="170.40" y1="397.95" x2="402.50" y2="397.95" stroke="#eeeeee" stroke-width="0.7"/>
<line x1="170.40" y1="388.45" x2="402.50" y2="388.45" stroke="#eeeeee" stroke-width="0.7"/>
<line x1="170.40" y1="378.95" x2="402.50" y2="378.95" stroke="#eeeeee" stroke-width="0.7"/>
<line x1="170.40" y1="369.45" x2="402.50" y2="369.45" stroke="#eeeeee" stroke-width="0.7"/>
<line x1="170.40" y1="359.95" x2="402.50" y2="359.95" stroke="#eeeeee" stroke-width="0.7"/>
<line x1="170.40" y1="350.45" x2="402.50" y2="350.45" stroke="#eeeeee" stroke-width="0.7"/>
<line x1="170.40" y1="340.95" x2="402.50" y2="340.95" stroke="#eeeeee" stroke-width="0.7"/>
<line x1="170.40" y1="331.45" x2="402.50" y2="331.45" stroke="#eeeeee" stroke-width="0.7"/>
<line x1="170.40" y1="321.95" x2="402.50" y2="321.95" stroke="#eeeeee" stroke-width="0.7"/>
<line x1="170.40" y1="312.45" x2="402.50" y2="312.45" stroke="#eeeeee" stroke-width="0.7"/>
<line x1="170.40" y1="302.95" x2="402.50" y2="302.95" stroke="#eeeeee" stroke-width="0.7"/>
<line x1="170.40" y1="293.45" x2="402.50" y2="293.45" stroke="#eeeeee" stroke-width="0.7"/>
<line x1="170.40" y1="283.95" x2="402.50" y2="283.95" stroke="#eeeeee" stroke-width="0.7"/>
<line x1="170.40" y1="274.45" x2="402.50" y2="274.45" stroke="#eeeeee" stroke-width="0.7"/>
<line x1="170.40" y1="264.95" x2="402.50" y2="264.95" stroke="#eeeeee" stroke-width="0.7"/>
<line x1="170.40" y1="255.45" x2="402.50" y2="255.45" stroke="#eeeeee" stroke-width="0.7"/>
<line x1="170.40" y1="245.95" x2="402.50" y2="245.95" stroke="#eeeeee" stroke-width="0.7"/>
<g clip-path="url(#cc)">
<path d="M179.01 403.85 L179.36 403.51 L179.71 402.62 L180.06 401.39 L180.41 399.44 L180.76 396.94 L181.11 396.57 L181.46 396.41 L181.81 396.23 L182.16 395.79 L182.51 394.13 L182.86 389.28 L183.21 376.99 L183.56 357.46 L183.91 313.43 L184.26 290.24 L184.61 277.33 L184.96 269.68 L185.31 264.50 L185.66 261.83 L186.01 260.56 L186.36 260.22 L186.71 260.30 L187.06 260.43 L187.41 260.59 L187.76 260.73 L188.11 260.88 L188.46 261.04 L188.81 261.23 L189.16 261.48 L189.51 261.86 L189.86 262.49 L190.21 263.29 L190.56 264.20 L190.91 265.15 L191.26 266.07 L191.61 266.92 L191.96 267.79 L192.31 268.68 L192.66 269.58 L193.01 270.47 L193.36 271.34 L193.71 272.17 L194.06 272.96 L194.41 273.71 L194.76 274.44 L195.11 275.17 L195.46 275.91 L195.81 276.68 L196.16 277.50 L196.51 278.38 L196.86 279.31 L197.21 280.30 L197.56 281.34 L197.91 282.41 L198.26 283.50 L198.61 284.62 L198.96 285.75 L199.31 286.89 L199.66 288.07 L200.01 289.28 L200.36 290.52 L200.71 291.77 L201.06 293.03 L201.41 294.29 L201.76 295.54 L202.11 296.79 L202.46 298.07 L202.81 299.39 L203.16 300.77 L203.51 302.21 L203.86 303.69 L204.21 305.21 L204.56 306.76 L204.91 308.31 L205.26 309.86 L205.61 311.40 L205.96 312.90 L206.31 314.37 L206.66 315.82 L207.01 317.26 L207.36 318.69 L207.71 320.11 L208.06 321.51 L208.41 322.88 L208.76 324.22 L209.11 325.54 L209.46 326.86 L209.81 328.17 L210.16 329.45 L210.51 330.68 L210.86 331.83 L211.21 332.86 L211.56 333.72 L211.91 334.49 L212.26 335.36 L212.61 336.52 L212.96 337.94 L213.31 339.48 L213.66 340.97 L214.01 342.28 L214.36 343.48 L214.71 344.66 L215.06 345.79 L215.41 346.84 L215.76 347.78 L216.11 348.59 L216.46 349.29 L216.81 349.96 L217.16 350.58 L217.51 351.16 L217.86 351.70 L218.21 352.20 L218.56 352.66 L218.91 353.08 L219.26 353.44 L219.61 353.77 L219.96 354.08 L220.31 354.38 L220.66 354.66 L221.01 354.92 L221.36 355.16 L221.71 355.37 L222.06 355.55 L222.41 355.71 L222.76 355.83 L223.11 355.92 L223.46 355.99 L223.81 356.04 L224.16 356.09 L224.51 356.14 L224.86 356.20 L225.21 356.28 L225.56 356.40 L225.91 356.59 L226.26 356.88 L226.61 357.27 L226.96 357.75 L227.31 358.41 L227.66 359.60 L228.01 360.21 L228.36 360.63 L228.71 360.98 L229.06 361.40 L229.41 362.01 L229.76 363.19 L230.11 364.41 L230.46 365.40 L230.81 366.33 L231.16 367.27 L231.51 368.31 L231.86 369.49 L232.21 370.81 L232.56 372.22 L232.91 373.69 L233.26 375.17 L233.61 376.63 L233.96 378.04 L234.31 379.46 L234.66 380.88 L235.01 382.28 L235.36 383.65 L235.71 384.98 L236.06 386.28 L236.41 387.55 L236.76 388.82 L237.11 390.08 L237.46 391.37 L237.81 392.65 L238.16 393.89 L238.51 395.07 L238.86 396.25 L239.21 397.44 L239.56 398.58 L239.91 399.63 L240.26 400.54 L240.61 401.27 L240.96 401.88 L241.31 402.45 L241.66 402.96 L242.01 403.43 L242.36 403.85 L242.71 404.23 L243.06 404.58 L243.41 404.89 L243.76 405.18 L244.11 405.45 L244.46 405.71 L244.81 405.95 L245.16 406.17 L245.51 406.38 L245.86 406.57 L246.21 406.74 L246.56 406.90 L246.91 407.03 L247.26 407.16 L247.61 407.28 L247.96 407.33 L248.31 407.15 L248.66 407.62 L249.01 407.91 L249.36 407.53 L249.71 408.19 L250.06 408.00 L250.41 407.83 L250.76 407.99 L251.11 407.92 L251.46 407.84 L251.81 408.39 L252.16 408.43 L252.51 408.09 L252.86 408.20 L253.21 408.22 L253.56 408.49 L253.91 408.72 L254.26 408.12 L254.61 408.39 L254.96 408.30 L255.31 408.46 L255.66 408.71 L256.01 408.06 L256.36 407.73 L256.71 408.26 L257.06 407.86 L257.41 408.78 L257.76 408.11 L258.11 408.23 L258.46 408.38 L258.81 408.37 L259.16 408.19 L259.51 408.31 L259.86 408.57 L260.21 408.22 L260.56 408.82 L260.91 408.41 L261.26 407.65 L261.61 408.55 L261.96 407.81 L262.31 408.40 L262.66 408.94 L263.01 408.60 L263.36 407.98 L263.71 408.07 L264.06 408.31 L264.41 408.71 L264.76 408.09 L265.11 408.61 L265.46 408.38 L265.81 408.27 L266.16 408.25 L266.51 408.77 L266.86 407.87 L267.21 407.97 L267.56 408.54 L267.91 408.57 L268.26 407.92 L268.61 408.03 L268.96 407.96 L269.31 408.44 L269.66 408.10 L270.01 408.68 L270.36 408.50 L270.71 408.35 L271.06 408.33 L271.41 408.43 L271.76 408.51 L272.11 408.28 L272.46 408.34 L272.81 408.49 L273.16 408.25 L273.51 408.55 L273.86 408.23 L274.21 408.05 L274.56 408.32 L274.91 408.73 L275.26 408.68 L275.61 407.81 L275.96 408.34 L276.31 408.12 L276.66 408.16 L277.01 408.16 L277.36 408.19 L277.71 408.10 L278.06 408.17 L278.41 408.31 L278.76 407.91 L279.11 407.90 L279.46 407.93 L279.81 407.92 L280.16 408.40 L280.51 407.93 L280.86 408.21 L281.21 408.25 L281.56 408.43 L281.91 408.24 L282.26 408.53 L282.61 408.21 L282.96 408.30 L283.31 408.44 L283.66 407.82 L284.01 408.33 L284.36 408.65 L284.71 408.26 L285.06 408.15 L285.41 408.75 L285.76 408.25 L286.11 408.57 L286.46 407.55 L286.81 408.25 L287.16 408.08 L287.51 408.33 L287.86 408.55 L288.21 408.17 L288.56 408.15 L288.91 407.42 L289.26 408.43 L289.61 408.59 L289.96 408.26 L290.31 408.08 L290.66 408.31 L291.01 408.50 L291.36 408.39 L291.71 408.79 L292.06 408.05 L292.41 407.83 L292.76 408.35 L293.11 408.57 L293.46 408.08 L293.81 408.21 L294.16 408.03 L294.51 407.86 L294.86 408.00 L295.21 407.63 L295.56 408.29 L295.91 408.34 L296.26 408.46 L296.61 407.98 L296.96 408.03 L297.31 407.74 L297.66 407.80 L298.01 408.46 L298.36 409.00 L298.71 407.91 L299.06 408.10 L299.41 408.47 L299.76 408.01 L300.11 408.37 L300.46 408.12 L300.81 408.12 L301.16 408.46 L301.51 408.14 L301.86 407.85 L302.21 408.44 L302.56 408.22 L302.91 408.05 L303.26 407.98 L303.61 408.37 L303.96 408.01 L304.31 408.24 L304.66 408.49 L305.01 408.18 L305.36 408.51 L305.71 407.82 L306.06 408.38 L306.41 408.36 L306.76 408.73 L307.11 408.21 L307.46 408.46 L307.81 408.16 L308.16 407.91 L308.51 407.96 L308.86 408.01 L309.21 408.43 L309.56 407.99 L309.91 408.22 L310.26 408.46 L310.61 408.56 L310.96 408.47 L311.31 408.63 L311.66 407.89 L312.01 408.07 L312.36 408.30 L312.71 408.52 L313.06 408.35 L313.41 408.00 L313.76 408.16 L314.11 407.75 L314.46 408.44 L314.81 407.71 L315.16 408.27 L315.51 408.51 L315.86 408.46 L316.21 407.76 L316.56 408.27 L316.91 408.11 L317.26 408.13 L317.61 408.67 L317.96 408.29 L318.31 407.81 L318.66 407.91 L319.01 408.41 L319.36 408.27 L319.71 407.89 L320.06 407.74 L320.41 408.05 L320.76 408.09 L321.11 408.44 L321.46 408.04 L321.81 408.40 L322.16 408.55 L322.51 407.76 L322.86 408.04 L323.21 408.64 L323.56 408.08 L323.91 408.20 L324.26 408.48 L324.61 407.99 L324.96 408.09 L325.31 407.74 L325.66 408.36 L326.01 408.07 L326.36 408.10 L326.71 407.48 L327.06 408.47 L327.41 408.39 L327.76 407.98 L328.11 408.54 L328.46 407.51 L328.81 408.18 L329.16 407.72 L329.51 408.96 L329.86 407.46 L330.21 407.85 L330.56 407.98 L330.91 408.42 L331.26 408.43 L331.61 408.30 L331.96 408.12 L332.31 408.79 L332.66 407.99 L333.01 408.28 L333.36 408.68 L333.71 407.84 L334.06 407.96 L334.41 408.50 L334.76 408.32 L335.11 407.82 L335.46 408.20 L335.81 408.73 L336.16 408.12 L336.51 408.42 L336.86 408.22 L337.21 408.00 L337.56 408.64 L337.91 408.46 L338.26 408.53 L338.61 408.15 L338.96 408.22 L339.31 408.25 L339.66 408.31 L340.01 408.09 L340.36 408.05 L340.71 408.56 L341.06 407.88 L341.41 408.06 L341.76 408.08 L342.11 408.04 L342.46 407.85 L342.81 407.97 L343.16 408.41 L343.51 408.08 L343.86 407.98 L344.21 408.65 L344.56 407.81 L344.91 408.48 L345.26 408.28 L345.61 407.80 L345.96 408.07 L346.31 408.08 L346.66 408.55 L347.01 408.44 L347.36 408.11 L347.71 407.85 L348.06 407.71 L348.41 408.14 L348.76 407.79 L349.11 408.13 L349.46 408.13 L349.81 408.29 L350.16 408.47 L350.51 408.21 L350.86 408.32 L351.21 408.14 L351.56 408.48 L351.91 408.41 L352.26 408.63 L352.61 408.57 L352.96 407.98 L353.31 407.77 L353.66 408.37 L354.01 408.51 L354.36 408.00 L354.71 408.61 L355.06 408.21 L355.41 408.16 L355.76 408.28 L356.11 407.79 L356.46 407.72 L356.81 408.09 L357.16 407.85 L357.51 408.18 L357.86 408.18 L358.21 407.46 L358.56 407.95 L358.91 408.33 L359.26 407.52 L359.61 408.08 L359.96 407.80 L360.31 407.62 L360.66 408.49 L361.01 408.48 L361.36 408.06 L361.71 408.03 L362.06 408.56 L362.41 408.51 L362.76 408.17 L363.11 408.42 L363.46 408.20 L363.81 408.08 L364.16 408.35 L364.51 408.05 L364.86 408.34 L365.21 408.10 L365.56 408.04 L365.91 408.01 L366.26 408.30 L366.61 408.43 L366.96 408.29 L367.31 407.93 L367.66 408.34 L368.01 407.92 L368.36 407.86 L368.71 408.12 L369.06 408.40 L369.41 408.36 L369.76 408.33 L370.11 408.56 L370.46 408.42 L370.81 408.07 L371.16 408.39 L371.51 408.10 L371.86 408.29 L372.21 408.34 L372.56 408.16 L372.91 407.76 L373.26 408.14 L373.61 408.09 L373.96 408.15 L374.31 408.06 L374.66 407.87 L375.01 407.74 L375.36 408.37 L375.71 408.41 L376.06 408.29 L376.41 408.17 L376.76 408.73 L377.11 408.37 L377.46 408.19 L377.81 408.42 L378.16 408.17 L378.51 408.39 L378.86 408.27 L379.21 408.34 L379.56 408.21 L379.91 408.07 L380.26 408.33 L380.61 408.51 L380.96 407.94 L381.31 408.05 L381.66 407.89 L382.01 408.44 L382.36 408.13 L382.71 408.44 L383.06 407.98 L383.41 408.43 L383.76 408.04 L384.11 408.07 L384.46 408.35 L384.81 408.09 L385.16 408.03 L385.51 408.45 L385.86 408.18 L386.21 408.54 L386.56 408.90 L386.91 408.04 L387.26 408.10 L387.61 407.78 L387.96 407.87 L388.31 408.37 L388.66 408.28 L389.01 408.28 L389.36 408.33 L389.71 407.97 L390.06 407.73 L390.41 408.50 L390.76 408.27 L391.11 408.51 L391.46 408.19 L391.81 408.41 L392.16 408.05 L392.51 408.20 L392.86 408.16 L393.21 408.30 L393.56 408.59 L393.91 408.38 L394.26 407.40 L394.61 408.17 L394.96 408.20 L395.31 408.42 L395.66 408.24 L396.01 408.01 L396.36 407.98 L396.71 408.11 L397.06 408.01 L397.41 408.60 L397.76 408.37 L398.11 408.22 L398.46 408.47 L398.81 408.80 L399.16 408.14 L399.51 408.19 L399.86 408.12 L400.21 407.86 L400.56 408.03 L400.91 407.94 L401.26 408.34 L401.61 408.33 L401.96 408.45 L402.31 407.99 L402.50 408.48" fill="none" stroke="#515151" stroke-width="1.40" stroke-linejoin="round" stroke-linecap="round"/>
<path d="M179.01 403.96 L179.36 403.62 L179.71 402.82 L180.06 401.72 L180.41 400.40 L180.76 397.94 L181.11 396.77 L181.46 396.50 L181.81 396.35 L182.16 396.11 L182.51 395.46 L182.86 393.69 L183.21 389.66 L183.56 379.89 L183.91 371.25 L184.26 360.22 L184.61 347.68 L184.96 335.93 L185.31 325.07 L185.66 314.93 L186.01 305.53 L186.36 299.80 L186.71 295.86 L187.06 293.08 L187.41 292.21 L187.76 293.18 L188.11 295.15 L188.46 297.46 L188.81 299.53 L189.16 301.72 L189.51 303.92 L189.86 305.77 L190.21 307.31 L190.56 308.69 L190.91 310.00 L191.26 311.32 L191.61 312.71 L191.96 314.11 L192.31 315.51 L192.66 316.91 L193.01 318.31 L193.36 319.72 L193.71 321.15 L194.06 322.57 L194.41 323.96 L194.76 325.30 L195.11 326.58 L195.46 327.83 L195.81 329.05 L196.16 330.25 L196.51 331.45 L196.86 332.64 L197.21 333.87 L197.56 335.10 L197.91 336.26 L198.26 337.29 L198.61 338.26 L198.96 339.20 L199.31 340.08 L199.66 340.90 L200.01 341.66 L200.36 342.37 L200.71 343.06 L201.06 343.73 L201.41 344.38 L201.76 344.98 L202.11 345.52 L202.46 345.98 L202.81 346.35 L203.16 346.63 L203.51 346.90 L203.86 347.15 L204.21 347.38 L204.56 347.60 L204.91 347.78 L205.26 347.93 L205.61 348.04 L205.96 348.11 L206.31 348.13 L206.66 348.12 L207.01 348.11 L207.36 348.08 L207.71 348.04 L208.06 348.00 L208.41 347.95 L208.76 347.89 L209.11 347.84 L209.46 347.78 L209.81 347.72 L210.16 347.66 L210.51 347.61 L210.86 347.55 L211.21 347.50 L211.56 347.45 L211.91 347.39 L212.26 347.34 L212.61 347.29 L212.96 347.23 L213.31 347.17 L213.66 347.10 L214.01 347.03 L214.36 346.96 L214.71 346.88 L215.06 346.80 L215.41 346.70 L215.76 346.61 L216.11 346.50 L216.46 346.37 L216.81 346.19 L217.16 345.98 L217.51 345.74 L217.86 345.47 L218.21 345.19 L218.56 344.90 L218.91 344.60 L219.26 344.31 L219.61 344.03 L219.96 343.76 L220.31 343.51 L220.66 343.23 L221.01 342.94 L221.36 342.65 L221.71 342.36 L222.06 342.08 L222.41 341.81 L222.76 341.56 L223.11 341.34 L223.46 341.15 L223.81 341.00 L224.16 340.88 L224.51 340.75 L224.86 340.64 L225.21 340.55 L225.56 340.48 L225.91 340.44 L226.26 340.45 L226.61 340.50 L226.96 340.59 L227.31 340.70 L227.66 340.83 L228.01 340.98 L228.36 341.13 L228.71 341.30 L229.06 341.52 L229.41 341.77 L229.76 342.05 L230.11 342.35 L230.46 342.68 L230.81 343.03 L231.16 343.39 L231.51 343.76 L231.86 344.14 L232.21 344.56 L232.56 345.01 L232.91 345.49 L233.26 346.00 L233.61 346.55 L233.96 347.12 L234.31 347.73 L234.66 348.36 L235.01 349.03 L235.36 349.78 L235.71 350.61 L236.06 351.50 L236.41 352.43 L236.76 353.39 L237.11 354.35 L237.46 355.32 L237.81 356.33 L238.16 357.37 L238.51 358.43 L238.86 359.52 L239.21 360.64 L239.56 361.79 L239.91 362.98 L240.26 364.21 L240.61 365.46 L240.96 366.72 L241.31 367.96 L241.66 369.20 L242.01 370.45 L242.36 371.71 L242.71 372.97 L243.06 374.20 L243.41 375.39 L243.76 376.51 L244.11 377.58 L244.46 378.61 L244.81 379.60 L245.16 380.57 L245.51 381.53 L245.86 382.49 L246.21 383.45 L246.56 384.44 L246.91 385.45 L247.26 386.51 L247.61 387.60 L247.96 387.76 L248.31 389.83 L248.66 391.38 L249.01 392.12 L249.36 393.11 L249.71 393.91 L250.06 394.55 L250.41 395.79 L250.76 396.55 L251.11 397.37 L251.46 398.31 L251.81 398.89 L252.16 399.83 L252.51 400.67 L252.86 401.40 L253.21 401.73 L253.56 402.40 L253.91 402.68 L254.26 402.45 L254.61 402.95 L254.96 403.80 L255.31 403.91 L255.66 404.70 L256.01 404.49 L256.36 405.01 L256.71 405.22 L257.06 405.38 L257.41 405.61 L257.76 405.95 L258.11 406.16 L258.46 406.16 L258.81 406.50 L259.16 406.75 L259.51 406.68 L259.86 406.68 L260.21 406.79 L260.56 406.95 L260.91 407.03 L261.26 407.29 L261.61 408.08 L261.96 407.73 L262.31 407.50 L262.66 407.72 L263.01 407.79 L263.36 408.03 L263.71 408.14 L264.06 407.54 L264.41 408.47 L264.76 407.68 L265.11 407.98 L265.46 407.77 L265.81 407.58 L266.16 407.59 L266.51 408.65 L266.86 408.55 L267.21 407.90 L267.56 407.90 L267.91 408.63 L268.26 407.99 L268.61 408.40 L268.96 408.86 L269.31 408.53 L269.66 408.76 L270.01 408.43 L270.36 407.92 L270.71 408.18 L271.06 407.93 L271.41 408.52 L271.76 408.09 L272.11 408.49 L272.46 408.32 L272.81 408.27 L273.16 408.60 L273.51 408.33 L273.86 408.23 L274.21 408.73 L274.56 408.44 L274.91 408.05 L275.26 408.77 L275.61 408.06 L275.96 408.50 L276.31 408.58 L276.66 408.36 L277.01 408.20 L277.36 408.33 L277.71 408.32 L278.06 408.11 L278.41 408.64 L278.76 408.23 L279.11 408.19 L279.46 408.76 L279.81 408.17 L280.16 407.95 L280.51 408.34 L280.86 408.36 L281.21 408.36 L281.56 408.91 L281.91 408.18 L282.26 408.69 L282.61 408.56 L282.96 408.71 L283.31 408.28 L283.66 408.21 L284.01 408.23 L284.36 408.37 L284.71 408.54 L285.06 408.72 L285.41 407.77 L285.76 408.55 L286.11 408.35 L286.46 408.25 L286.81 407.95 L287.16 408.32 L287.51 407.72 L287.86 408.55 L288.21 407.95 L288.56 408.17 L288.91 408.15 L289.26 408.35 L289.61 407.81 L289.96 408.41 L290.31 408.28 L290.66 408.59 L291.01 408.25 L291.36 408.12 L291.71 407.63 L292.06 408.05 L292.41 408.60 L292.76 408.02 L293.11 408.01 L293.46 408.10 L293.81 408.38 L294.16 407.65 L294.51 408.64 L294.86 408.31 L295.21 408.34 L295.56 408.14 L295.91 408.69 L296.26 408.02 L296.61 408.37 L296.96 408.17 L297.31 407.79 L297.66 408.11 L298.01 408.34 L298.36 408.07 L298.71 408.03 L299.06 408.14 L299.41 407.90 L299.76 407.84 L300.11 408.16 L300.46 407.88 L300.81 408.30 L301.16 408.34 L301.51 408.50 L301.86 408.41 L302.21 408.07 L302.56 408.26 L302.91 407.83 L303.26 408.26 L303.61 408.01 L303.96 408.52 L304.31 407.95 L304.66 408.19 L305.01 407.93 L305.36 408.32 L305.71 408.32 L306.06 407.87 L306.41 408.68 L306.76 408.28 L307.11 407.75 L307.46 407.89 L307.81 407.64 L308.16 407.59 L308.51 408.10 L308.86 407.57 L309.21 408.25 L309.56 407.69 L309.91 408.04 L310.26 408.61 L310.61 408.04 L310.96 408.13 L311.31 408.48 L311.66 408.05 L312.01 408.29 L312.36 407.92 L312.71 408.03 L313.06 408.18 L313.41 408.14 L313.76 407.93 L314.11 408.20 L314.46 408.31 L314.81 408.32 L315.16 408.15 L315.51 407.88 L315.86 408.33 L316.21 408.37 L316.56 407.86 L316.91 407.50 L317.26 408.08 L317.61 408.42 L317.96 408.38 L318.31 407.81 L318.66 408.50 L319.01 407.89 L319.36 408.39 L319.71 408.02 L320.06 408.40 L320.41 408.27 L320.76 408.07 L321.11 408.33 L321.46 407.95 L321.81 408.03 L322.16 408.04 L322.51 407.89 L322.86 408.39 L323.21 408.39 L323.56 408.13 L323.91 407.86 L324.26 408.26 L324.61 408.21 L324.96 408.30 L325.31 408.12 L325.66 408.07 L326.01 408.51 L326.36 407.96 L326.71 408.07 L327.06 407.63 L327.41 408.02 L327.76 407.99 L328.11 408.03 L328.46 408.28 L328.81 407.96 L329.16 408.24 L329.51 408.02 L329.86 408.00 L330.21 407.61 L330.56 408.23 L330.91 408.29 L331.26 407.85 L331.61 407.95 L331.96 407.62 L332.31 408.01 L332.66 407.81 L333.01 408.22 L333.36 408.08 L333.71 408.27 L334.06 407.88 L334.41 407.64 L334.76 408.08 L335.11 407.94 L335.46 408.61 L335.81 408.17 L336.16 408.50 L336.51 408.25 L336.86 408.02 L337.21 407.68 L337.56 408.04 L337.91 408.28 L338.26 408.13 L338.61 408.20 L338.96 408.19 L339.31 407.74 L339.66 408.19 L340.01 407.88 L340.36 408.09 L340.71 408.48 L341.06 407.56 L341.41 408.03 L341.76 408.20 L342.11 408.40 L342.46 408.13 L342.81 407.88 L343.16 408.32 L343.51 408.27 L343.86 407.62 L344.21 408.13 L344.56 407.64 L344.91 407.38 L345.26 407.83 L345.61 407.85 L345.96 407.52 L346.31 408.63 L346.66 407.75 L347.01 408.22 L347.36 408.31 L347.71 408.72 L348.06 408.02 L348.41 408.57 L348.76 407.81 L349.11 408.11 L349.46 408.01 L349.81 407.85 L350.16 408.22 L350.51 408.66 L350.86 408.71 L351.21 408.32 L351.56 407.81 L351.91 407.90 L352.26 408.30 L352.61 408.29 L352.96 408.29 L353.31 408.05 L353.66 407.88 L354.01 408.26 L354.36 408.12 L354.71 408.52 L355.06 407.94 L355.41 408.37 L355.76 408.51 L356.11 408.68 L356.46 408.68 L356.81 407.84 L357.16 407.80 L357.51 408.17 L357.86 407.89 L358.21 407.47 L358.56 408.54 L358.91 408.27 L359.26 408.42 L359.61 408.19 L359.96 408.46 L360.31 408.21 L360.66 408.18 L361.01 408.67 L361.36 407.81 L361.71 408.29 L362.06 407.69 L362.41 408.55 L362.76 408.07 L363.11 407.80 L363.46 407.63 L363.81 408.07 L364.16 408.68 L364.51 408.27 L364.86 407.70 L365.21 407.56 L365.56 408.93 L365.91 407.97 L366.26 407.72 L366.61 408.17 L366.96 408.29 L367.31 408.57 L367.66 408.07 L368.01 407.93 L368.36 408.32 L368.71 407.90 L369.06 408.23 L369.41 408.18 L369.76 408.41 L370.11 407.93 L370.46 407.94 L370.81 408.21 L371.16 408.26 L371.51 407.72 L371.86 407.90 L372.21 408.18 L372.56 408.02 L372.91 408.77 L373.26 408.33 L373.61 408.48 L373.96 408.11 L374.31 408.15 L374.66 408.16 L375.01 408.43 L375.36 408.04 L375.71 408.57 L376.06 407.92 L376.41 408.41 L376.76 408.20 L377.11 408.03 L377.46 408.58 L377.81 408.41 L378.16 408.08 L378.51 407.91 L378.86 408.36 L379.21 407.90 L379.56 408.28 L379.91 407.88 L380.26 408.16 L380.61 407.89 L380.96 408.07 L381.31 408.60 L381.66 408.62 L382.01 408.00 L382.36 408.05 L382.71 407.66 L383.06 408.21 L383.41 408.45 L383.76 407.89 L384.11 407.87 L384.46 408.23 L384.81 407.97 L385.16 408.18 L385.51 408.57 L385.86 408.26 L386.21 408.32 L386.56 408.66 L386.91 408.20 L387.26 408.33 L387.61 408.15 L387.96 407.92 L388.31 408.58 L388.66 407.74 L389.01 408.16 L389.36 407.81 L389.71 407.90 L390.06 407.77 L390.41 408.06 L390.76 408.26 L391.11 408.50 L391.46 407.60 L391.81 408.20 L392.16 408.02 L392.51 407.96 L392.86 408.10 L393.21 408.19 L393.56 408.10 L393.91 408.13 L394.26 408.75 L394.61 408.16 L394.96 408.23 L395.31 407.81 L395.66 408.44 L396.01 407.99 L396.36 408.11 L396.71 407.92 L397.06 408.11 L397.41 407.87 L397.76 407.77 L398.11 407.74 L398.46 408.03 L398.81 408.14 L399.16 408.34 L399.51 408.60 L399.86 408.66 L400.21 407.96 L400.56 407.94 L400.91 408.35 L401.26 407.89 L401.61 408.45 L401.96 408.43 L402.31 407.87 L402.50 408.35" fill="none" stroke="#F14040" stroke-width="1.40" stroke-linejoin="round" stroke-linecap="round"/>
<path d="M179.12 404.07 L179.47 403.67 L179.82 402.94 L180.17 401.97 L180.52 400.86 L180.87 399.06 L181.22 397.16 L181.57 396.66 L181.92 396.47 L182.27 396.32 L182.62 396.08 L182.97 395.45 L183.32 393.94 L183.67 391.61 L184.02 386.34 L184.37 379.21 L184.72 370.14 L185.07 353.49 L185.42 339.15 L185.77 332.54 L186.12 327.88 L186.47 324.05 L186.82 320.70 L187.17 317.88 L187.52 315.61 L187.87 313.72 L188.22 311.88 L188.57 310.17 L188.92 308.73 L189.27 307.67 L189.62 307.10 L189.97 307.16 L190.32 307.86 L190.67 308.88 L191.02 309.82 L191.37 310.32 L191.72 310.25 L192.07 309.99 L192.42 309.63 L192.77 309.24 L193.12 308.90 L193.47 308.70 L193.82 308.70 L194.17 308.80 L194.52 308.99 L194.87 309.26 L195.22 309.58 L195.57 309.94 L195.92 310.34 L196.27 310.76 L196.62 311.22 L196.97 311.85 L197.32 312.62 L197.67 313.48 L198.02 314.39 L198.37 315.31 L198.72 316.20 L199.07 317.07 L199.42 317.99 L199.77 318.94 L200.12 319.90 L200.47 320.85 L200.82 321.76 L201.17 322.62 L201.52 323.43 L201.87 324.22 L202.22 325.01 L202.57 325.77 L202.92 326.50 L203.27 327.18 L203.62 327.79 L203.97 328.33 L204.32 328.80 L204.67 329.24 L205.02 329.66 L205.37 330.05 L205.72 330.41 L206.07 330.75 L206.42 331.06 L206.77 331.34 L207.12 331.60 L207.47 331.83 L207.82 332.02 L208.17 332.19 L208.52 332.34 L208.87 332.47 L209.22 332.61 L209.57 332.75 L209.92 332.90 L210.27 333.07 L210.62 333.27 L210.97 333.51 L211.32 333.77 L211.67 334.05 L212.02 334.37 L212.37 334.71 L212.72 335.08 L213.07 335.47 L213.42 335.90 L213.77 336.34 L214.12 336.83 L214.47 337.41 L214.82 338.08 L215.17 338.81 L215.52 339.58 L215.87 340.36 L216.22 341.14 L216.57 341.93 L216.92 342.76 L217.27 343.61 L217.62 344.47 L217.97 345.34 L218.32 346.19 L218.67 347.03 L219.02 347.87 L219.37 348.71 L219.72 349.56 L220.07 350.40 L220.42 351.24 L220.77 352.08 L221.12 352.92 L221.47 353.75 L221.82 354.56 L222.17 355.19 L222.52 355.69 L222.87 356.13 L223.22 356.61 L223.57 357.19 L223.92 357.95 L224.27 358.97 L224.62 360.34 L224.97 362.49 L225.32 364.40 L225.67 365.36 L226.02 365.97 L226.37 366.38 L226.72 366.75 L227.07 367.24 L227.42 367.90 L227.77 368.66 L228.12 369.67 L228.47 370.84 L228.82 372.09 L229.17 373.33 L229.52 374.46 L229.87 375.52 L230.22 376.56 L230.57 377.58 L230.92 378.61 L231.27 379.66 L231.62 380.75 L231.97 381.90 L232.32 383.11 L232.67 384.32 L233.02 385.47 L233.37 386.53 L233.72 387.51 L234.07 388.44 L234.42 389.35 L234.77 390.26 L235.12 391.15 L235.47 392.02 L235.82 392.89 L236.17 393.78 L236.52 394.72 L236.87 395.77 L237.22 396.92 L237.57 398.10 L237.92 399.23 L238.27 400.25 L238.62 401.08 L238.97 401.73 L239.32 402.34 L239.67 402.89 L240.02 403.39 L240.37 403.84 L240.72 404.25 L241.07 404.61 L241.42 404.93 L241.77 405.23 L242.12 405.51 L242.47 405.78 L242.82 406.02 L243.17 406.25 L243.52 406.45 L243.87 406.64 L244.22 406.82 L244.57 406.97 L244.92 407.12 L245.27 407.25 L245.62 407.38 L245.97 407.50 L246.32 407.62 L246.67 407.73 L247.02 407.83 L247.37 407.92 L247.72 408.00 L248.07 408.76 L248.42 408.11 L248.77 408.38 L249.12 407.98 L249.47 408.50 L249.82 407.58 L250.17 408.12 L250.52 408.35 L250.87 408.06 L251.22 408.82 L251.57 408.59 L251.92 409.09 L252.27 408.26 L252.62 408.45 L252.97 408.89 L253.32 408.59 L253.67 408.97 L254.02 408.93 L254.37 408.53 L254.72 408.78 L255.07 408.90 L255.42 408.81 L255.77 408.69 L256.12 408.61 L256.47 408.68 L256.82 409.02 L257.17 409.32 L257.52 408.34 L257.87 408.46 L258.22 408.69 L258.57 409.15 L258.92 408.50 L259.27 409.39 L259.62 409.38 L259.97 408.07 L260.32 408.93 L260.67 408.90 L261.02 408.61 L261.37 408.21 L261.72 408.81 L262.07 408.62 L262.42 409.06 L262.77 408.89 L263.12 408.46 L263.47 409.28 L263.82 409.24 L264.17 409.14 L264.52 408.74 L264.87 408.98 L265.22 408.75 L265.57 408.56 L265.92 408.19 L266.27 408.79 L266.62 408.15 L266.97 408.91 L267.32 408.32 L267.67 408.76 L268.02 408.62 L268.37 408.37 L268.72 408.40 L269.07 408.53 L269.42 409.11 L269.77 408.79 L270.12 408.61 L270.47 408.91 L270.82 408.34 L271.17 408.24 L271.52 408.41 L271.87 408.96 L272.22 408.58 L272.57 408.69 L272.92 408.68 L273.27 408.53 L273.62 408.99 L273.97 408.84 L274.32 408.39 L274.67 408.34 L275.02 408.61 L275.37 408.36 L275.72 408.62 L276.07 408.82 L276.42 408.63 L276.77 408.66 L277.12 408.46 L277.47 408.37 L277.82 408.31 L278.17 408.96 L278.52 408.37 L278.87 408.61 L279.22 408.62 L279.57 408.71 L279.92 408.49 L280.27 408.12 L280.62 409.17 L280.97 408.27 L281.32 408.74 L281.67 408.26 L282.02 408.75 L282.37 408.26 L282.72 409.04 L283.07 408.69 L283.42 408.10 L283.77 409.03 L284.12 408.01 L284.47 408.45 L284.82 408.86 L285.17 408.43 L285.52 408.91 L285.87 408.55 L286.22 408.37 L286.57 408.89 L286.92 408.54 L287.27 408.39 L287.62 408.80 L287.97 408.45 L288.32 408.13 L288.67 408.31 L289.02 409.23 L289.37 409.18 L289.72 408.07 L290.07 408.74 L290.42 408.87 L290.77 408.43 L291.12 408.71 L291.47 408.22 L291.82 408.41 L292.17 408.81 L292.52 408.49 L292.87 408.46 L293.22 408.43 L293.57 408.12 L293.92 408.21 L294.27 408.35 L294.62 408.47 L294.97 408.25 L295.32 409.05 L295.67 408.00 L296.02 408.19 L296.37 408.32 L296.72 408.65 L297.07 408.09 L297.42 408.58 L297.77 408.26 L298.12 408.27 L298.47 408.63 L298.82 408.74 L299.17 408.80 L299.52 408.16 L299.87 408.80 L300.22 408.81 L300.57 408.60 L300.92 408.64 L301.27 408.52 L301.62 408.46 L301.97 408.76 L302.32 408.99 L302.67 408.44 L303.02 408.61 L303.37 408.78 L303.72 408.11 L304.07 408.99 L304.42 408.62 L304.77 408.93 L305.12 408.43 L305.47 408.26 L305.82 408.48 L306.17 408.61 L306.52 408.25 L306.87 408.78 L307.22 408.60 L307.57 408.21 L307.92 408.66 L308.27 408.48 L308.62 408.53 L308.97 408.41 L309.32 408.32 L309.67 408.17 L310.02 408.56 L310.37 408.54 L310.72 408.67 L311.07 408.32 L311.42 408.65 L311.77 408.77 L312.12 408.19 L312.47 408.58 L312.82 409.16 L313.17 408.38 L313.52 408.43 L313.87 408.51 L314.22 408.37 L314.57 408.77 L314.92 408.50 L315.27 408.49 L315.62 408.29 L315.97 408.67 L316.32 408.49 L316.67 408.40 L317.02 408.43 L317.37 408.97 L317.72 408.52 L318.07 408.59 L318.42 408.90 L318.77 408.49 L319.12 408.79 L319.47 408.23 L319.82 408.71 L320.17 407.91 L320.52 408.56 L320.87 408.39 L321.22 408.31 L321.57 408.83 L321.92 408.73 L322.27 408.76 L322.62 408.95 L322.97 408.67 L323.32 408.68 L323.67 408.50 L324.02 409.05 L324.37 408.77 L324.72 408.29 L325.07 408.27 L325.42 408.30 L325.77 408.30 L326.12 408.88 L326.47 408.60 L326.82 408.82 L327.17 408.30 L327.52 408.29 L327.87 408.86 L328.22 407.94 L328.57 408.17 L328.92 407.91 L329.27 408.32 L329.62 409.25 L329.97 408.29 L330.32 408.81 L330.67 408.98 L331.02 408.32 L331.37 408.31 L331.72 408.61 L332.07 408.70 L332.42 408.06 L332.77 408.28 L333.12 408.98 L333.47 408.28 L333.82 408.62 L334.17 408.80 L334.52 408.42 L334.87 408.46 L335.22 408.35 L335.57 408.32 L335.92 408.34 L336.27 408.05 L336.62 408.37 L336.97 408.45 L337.32 408.71 L337.67 408.39 L338.02 408.32 L338.37 409.05 L338.72 408.51 L339.07 408.45 L339.42 408.36 L339.77 408.51 L340.12 408.26 L340.47 408.36 L340.82 408.27 L341.17 408.16 L341.52 408.38 L341.87 408.12 L342.22 409.00 L342.57 408.18 L342.92 409.01 L343.27 408.60 L343.62 408.76 L343.97 408.92 L344.32 408.04 L344.67 408.98 L345.02 408.65 L345.37 408.38 L345.72 408.30 L346.07 408.62 L346.42 408.06 L346.77 409.02 L347.12 408.47 L347.47 408.74 L347.82 408.56 L348.17 408.40 L348.52 408.42 L348.87 408.28 L349.22 408.88 L349.57 408.52 L349.92 408.67 L350.27 408.66 L350.62 408.72 L350.97 408.66 L351.32 408.89 L351.67 408.35 L352.02 408.25 L352.37 408.50 L352.72 408.44 L353.07 408.55 L353.42 408.86 L353.77 408.81 L354.12 408.69 L354.47 408.32 L354.82 408.68 L355.17 408.59 L355.52 408.75 L355.87 408.53 L356.22 408.43 L356.57 408.57 L356.92 408.33 L357.27 408.29 L357.62 408.60 L357.97 408.54 L358.32 408.82 L358.67 408.58 L359.02 408.21 L359.37 408.92 L359.72 408.99 L360.07 408.23 L360.42 408.37 L360.77 408.81 L361.12 408.59 L361.47 408.12 L361.82 408.85 L362.17 408.56 L362.52 408.62 L362.87 408.86 L363.22 408.35 L363.57 408.33 L363.92 408.71 L364.27 408.79 L364.62 408.56 L364.97 408.85 L365.32 408.65 L365.67 408.83 L366.02 408.30 L366.37 408.47 L366.72 408.82 L367.07 408.29 L367.42 408.30 L367.77 408.56 L368.12 408.45 L368.47 408.26 L368.82 408.07 L369.17 408.90 L369.52 408.54 L369.87 408.92 L370.22 408.28 L370.57 408.54 L370.92 408.48 L371.27 408.55 L371.62 408.08 L371.97 408.86 L372.32 408.44 L372.67 408.58 L373.02 408.24 L373.37 408.94 L373.72 408.09 L374.07 409.04 L374.42 408.40 L374.77 408.42 L375.12 408.33 L375.47 408.90 L375.82 408.28 L376.17 408.27 L376.52 408.25 L376.87 408.65 L377.22 408.66 L377.57 408.31 L377.92 408.66 L378.27 408.94 L378.62 408.71 L378.97 408.62 L379.32 408.23 L379.67 408.94 L380.02 408.70 L380.37 408.12 L380.72 408.31 L381.07 407.74 L381.42 408.65 L381.77 408.16 L382.12 408.43 L382.47 408.89 L382.82 408.11 L383.17 408.74 L383.52 408.42 L383.87 408.20 L384.22 408.86 L384.57 408.62 L384.92 408.31 L385.27 408.65 L385.62 408.33 L385.97 408.26 L386.32 408.39 L386.67 408.78 L387.02 408.06 L387.37 408.14 L387.72 408.74 L388.07 408.11 L388.42 408.44 L388.77 408.41 L389.12 408.14 L389.47 408.29 L389.82 408.46 L390.17 408.47 L390.52 408.67 L390.87 408.56 L391.22 408.75 L391.57 408.55 L391.92 408.38 L392.27 408.67 L392.62 408.62 L392.97 408.74 L393.32 408.46 L393.67 408.46 L394.02 408.46 L394.37 408.08 L394.72 408.62 L395.07 408.31 L395.42 408.29 L395.77 408.40 L396.12 409.08 L396.47 408.28 L396.82 408.92 L397.17 407.92 L397.52 408.42 L397.87 409.03 L398.22 408.55 L398.57 408.61 L398.92 408.34 L399.27 407.96 L399.62 408.65 L399.97 408.76 L400.32 408.80 L400.67 409.04 L401.02 408.48 L401.37 408.65 L401.72 407.91 L402.07 408.41 L402.42 408.55 L402.50 408.86" fill="none" stroke="#1A6FDF" stroke-width="1.40" stroke-linejoin="round" stroke-linecap="round"/>
<path d="M179.23 404.18 L179.58 403.77 L179.93 403.11 L180.28 402.26 L180.63 401.29 L180.98 400.00 L181.33 398.11 L181.68 397.00 L182.03 396.70 L182.38 396.54 L182.73 396.40 L183.08 396.15 L183.43 395.61 L183.78 394.48 L184.13 392.84 L184.48 390.43 L184.83 386.10 L185.18 380.73 L185.53 373.11 L185.88 368.39 L186.23 366.00 L186.58 363.88 L186.93 360.71 L187.28 356.78 L187.63 354.59 L187.98 353.72 L188.33 353.01 L188.68 352.43 L189.03 351.97 L189.38 351.59 L189.73 351.29 L190.08 351.04 L190.43 350.82 L190.78 350.60 L191.13 350.40 L191.48 350.22 L191.83 350.06 L192.18 349.93 L192.53 349.84 L192.88 349.79 L193.23 349.79 L193.58 349.92 L193.93 350.15 L194.28 350.46 L194.63 350.82 L194.98 351.19 L195.33 351.55 L195.68 351.87 L196.03 352.14 L196.38 352.43 L196.73 352.73 L197.08 353.04 L197.43 353.34 L197.78 353.62 L198.13 353.85 L198.48 354.03 L198.83 354.14 L199.18 354.17 L199.53 354.14 L199.88 354.05 L200.23 353.93 L200.58 353.77 L200.93 353.59 L201.28 353.40 L201.63 353.21 L201.98 353.02 L202.33 352.81 L202.68 352.57 L203.03 352.31 L203.38 352.03 L203.73 351.73 L204.08 351.41 L204.43 351.08 L204.78 350.73 L205.13 350.37 L205.48 349.99 L205.83 349.58 L206.18 349.13 L206.53 348.66 L206.88 348.16 L207.23 347.62 L207.58 347.05 L207.93 346.45 L208.28 345.77 L208.63 345.01 L208.98 344.17 L209.33 343.29 L209.68 342.38 L210.03 341.47 L210.38 340.57 L210.73 339.72 L211.08 338.88 L211.43 338.04 L211.78 337.20 L212.13 336.36 L212.48 335.52 L212.83 334.68 L213.18 333.84 L213.53 332.99 L213.88 332.07 L214.23 331.21 L214.58 330.53 L214.93 329.94 L215.28 329.35 L215.63 328.79 L215.98 328.30 L216.33 327.88 L216.68 327.57 L217.03 327.40 L217.38 327.37 L217.73 327.39 L218.08 327.45 L218.43 327.52 L218.78 327.61 L219.13 327.69 L219.48 327.78 L219.83 327.85 L220.18 327.89 L220.53 327.91 L220.88 327.90 L221.23 327.86 L221.58 327.79 L221.93 327.70 L222.28 327.58 L222.63 327.44 L222.98 327.28 L223.33 327.10 L223.68 326.91 L224.03 326.63 L224.38 326.02 L224.73 325.42 L225.08 325.22 L225.43 325.20 L225.78 325.20 L226.13 325.19 L226.48 325.19 L226.83 325.18 L227.18 325.16 L227.53 324.85 L227.88 324.29 L228.23 323.84 L228.58 323.63 L228.93 323.43 L229.28 323.25 L229.63 323.09 L229.98 322.94 L230.33 322.81 L230.68 322.70 L231.03 322.60 L231.38 322.54 L231.73 322.49 L232.08 322.47 L232.43 322.50 L232.78 322.61 L233.13 322.78 L233.48 323.00 L233.83 323.25 L234.18 323.54 L234.53 323.83 L234.88 324.11 L235.23 324.42 L235.58 324.77 L235.93 325.17 L236.28 325.59 L236.63 326.05 L236.98 326.52 L237.33 327.00 L237.68 327.48 L238.03 327.96 L238.38 328.46 L238.73 328.98 L239.08 329.52 L239.43 330.09 L239.78 330.69 L240.13 331.33 L240.48 332.01 L240.83 332.78 L241.18 333.64 L241.53 334.55 L241.88 335.48 L242.23 336.41 L242.58 337.30 L242.93 338.11 L243.28 338.91 L243.63 339.84 L243.98 341.20 L244.33 342.62 L244.68 343.81 L245.03 344.92 L245.38 346.02 L245.73 347.17 L246.08 348.44 L246.43 349.80 L246.78 351.22 L247.13 352.67 L247.48 354.12 L247.83 354.71 L248.18 356.94 L248.53 357.94 L248.88 359.36 L249.23 360.66 L249.58 361.92 L249.93 363.62 L250.28 364.19 L250.63 365.60 L250.98 366.34 L251.33 368.03 L251.68 369.00 L252.03 371.05 L252.38 372.13 L252.73 373.24 L253.08 374.87 L253.43 375.51 L253.78 376.82 L254.13 377.58 L254.48 378.41 L254.83 379.43 L255.18 380.17 L255.53 381.22 L255.88 382.01 L256.23 383.11 L256.58 385.30 L256.93 386.25 L257.28 387.16 L257.63 388.34 L257.98 388.95 L258.33 390.23 L258.68 390.57 L259.03 391.93 L259.38 392.73 L259.73 393.44 L260.08 394.52 L260.43 395.17 L260.78 396.53 L261.13 397.12 L261.48 397.38 L261.83 398.35 L262.18 399.87 L262.53 400.00 L262.88 400.92 L263.23 401.28 L263.58 402.36 L263.93 402.72 L264.28 403.08 L264.63 403.17 L264.98 403.60 L265.33 404.43 L265.68 404.24 L266.03 404.12 L266.38 405.43 L266.73 405.53 L267.08 405.13 L267.43 405.76 L267.78 406.04 L268.13 406.11 L268.48 406.67 L268.83 406.72 L269.18 406.30 L269.53 406.62 L269.88 407.04 L270.23 407.17 L270.58 406.92 L270.93 407.44 L271.28 407.00 L271.63 407.55 L271.98 406.93 L272.33 407.63 L272.68 408.15 L273.03 408.09 L273.38 407.53 L273.73 407.01 L274.08 407.97 L274.43 408.26 L274.78 408.05 L275.13 408.14 L275.48 407.74 L275.83 408.01 L276.18 407.84 L276.53 407.86 L276.88 408.10 L277.23 408.67 L277.58 408.41 L277.93 408.13 L278.28 408.32 L278.63 408.13 L278.98 408.26 L279.33 408.50 L279.68 408.05 L280.03 408.57 L280.38 408.33 L280.73 408.82 L281.08 408.28 L281.43 408.61 L281.78 408.33 L282.13 408.72 L282.48 408.10 L282.83 408.44 L283.18 408.34 L283.53 408.14 L283.88 408.48 L284.23 408.52 L284.58 408.40 L284.93 408.28 L285.28 408.36 L285.63 408.34 L285.98 408.82 L286.33 408.67 L286.68 408.88 L287.03 408.76 L287.38 408.99 L287.73 408.49 L288.08 408.55 L288.43 408.48 L288.78 408.34 L289.13 408.61 L289.48 408.53 L289.83 408.54 L290.18 408.47 L290.53 408.67 L290.88 407.98 L291.23 408.52 L291.58 408.34 L291.93 408.17 L292.28 408.24 L292.63 408.46 L292.98 408.54 L293.33 408.25 L293.68 408.50 L294.03 408.41 L294.38 408.59 L294.73 408.59 L295.08 408.52 L295.43 408.21 L295.78 408.00 L296.13 408.69 L296.48 408.09 L296.83 408.54 L297.18 408.33 L297.53 408.76 L297.88 408.28 L298.23 408.23 L298.58 407.75 L298.93 408.48 L299.28 408.31 L299.63 408.15 L299.98 408.20 L300.33 408.66 L300.68 408.42 L301.03 408.54 L301.38 408.25 L301.73 408.40 L302.08 408.57 L302.43 408.24 L302.78 408.67 L303.13 408.25 L303.48 408.84 L303.83 408.17 L304.18 408.20 L304.53 408.36 L304.88 408.23 L305.23 408.30 L305.58 408.32 L305.93 408.66 L306.28 408.19 L306.63 408.65 L306.98 408.56 L307.33 408.37 L307.68 408.27 L308.03 408.84 L308.38 407.64 L308.73 408.20 L309.08 408.29 L309.43 408.47 L309.78 408.34 L310.13 408.58 L310.48 408.48 L310.83 408.62 L311.18 408.16 L311.53 408.46 L311.88 408.78 L312.23 408.15 L312.58 408.38 L312.93 407.94 L313.28 408.44 L313.63 408.11 L313.98 408.50 L314.33 408.01 L314.68 408.33 L315.03 408.04 L315.38 408.31 L315.73 408.43 L316.08 408.95 L316.43 408.44 L316.78 408.45 L317.13 408.82 L317.48 408.61 L317.83 408.03 L318.18 408.46 L318.53 408.35 L318.88 408.54 L319.23 408.46 L319.58 407.83 L319.93 408.16 L320.28 408.81 L320.63 408.54 L320.98 408.07 L321.33 408.17 L321.68 408.23 L322.03 407.93 L322.38 407.38 L322.73 408.43 L323.08 407.99 L323.43 408.09 L323.78 408.07 L324.13 408.17 L324.48 408.15 L324.83 408.70 L325.18 408.19 L325.53 408.44 L325.88 408.27 L326.23 408.63 L326.58 408.31 L326.93 407.71 L327.28 408.78 L327.63 408.74 L327.98 408.46 L328.33 407.83 L328.68 408.64 L329.03 408.37 L329.38 408.04 L329.73 408.11 L330.08 408.60 L330.43 408.09 L330.78 408.22 L331.13 408.06 L331.48 408.42 L331.83 408.02 L332.18 408.43 L332.53 408.18 L332.88 408.85 L333.23 408.14 L333.58 408.30 L333.93 408.55 L334.28 408.52 L334.63 407.85 L334.98 408.33 L335.33 408.39 L335.68 408.47 L336.03 408.23 L336.38 408.70 L336.73 408.67 L337.08 408.18 L337.43 407.98 L337.78 408.27 L338.13 408.45 L338.48 408.60 L338.83 407.97 L339.18 408.11 L339.53 407.75 L339.88 408.03 L340.23 408.61 L340.58 408.90 L340.93 408.52 L341.28 408.27 L341.63 408.24 L341.98 408.87 L342.33 408.66 L342.68 408.38 L343.03 408.17 L343.38 408.11 L343.73 408.32 L344.08 408.83 L344.43 408.26 L344.78 408.23 L345.13 408.40 L345.48 408.25 L345.83 408.59 L346.18 408.03 L346.53 408.34 L346.88 408.12 L347.23 408.55 L347.58 408.36 L347.93 408.10 L348.28 408.16 L348.63 408.29 L348.98 408.71 L349.33 408.45 L349.68 408.38 L350.03 408.01 L350.38 407.86 L350.73 407.85 L351.08 408.11 L351.43 408.39 L351.78 408.29 L352.13 408.60 L352.48 407.97 L352.83 408.22 L353.18 408.21 L353.53 408.00 L353.88 407.67 L354.23 408.05 L354.58 408.53 L354.93 407.79 L355.28 408.51 L355.63 408.52 L355.98 408.23 L356.33 408.35 L356.68 408.24 L357.03 408.28 L357.38 408.68 L357.73 408.60 L358.08 408.56 L358.43 408.35 L358.78 408.24 L359.13 408.35 L359.48 407.92 L359.83 408.03 L360.18 408.30 L360.53 407.78 L360.88 408.28 L361.23 408.24 L361.58 408.22 L361.93 408.24 L362.28 408.09 L362.63 408.85 L362.98 407.73 L363.33 408.06 L363.68 407.77 L364.03 408.36 L364.38 408.52 L364.73 408.77 L365.08 408.06 L365.43 408.45 L365.78 408.01 L366.13 408.24 L366.48 408.44 L366.83 407.84 L367.18 408.21 L367.53 408.08 L367.88 408.36 L368.23 408.49 L368.58 407.85 L368.93 408.22 L369.28 407.87 L369.63 407.61 L369.98 407.95 L370.33 408.07 L370.68 407.92 L371.03 407.94 L371.38 408.62 L371.73 408.29 L372.08 408.56 L372.43 408.66 L372.78 408.31 L373.13 408.99 L373.48 408.39 L373.83 408.31 L374.18 408.04 L374.53 408.17 L374.88 408.37 L375.23 408.30 L375.58 408.34 L375.93 408.37 L376.28 407.89 L376.63 408.05 L376.98 408.16 L377.33 408.12 L377.68 407.89 L378.03 408.24 L378.38 408.02 L378.73 408.55 L379.08 408.04 L379.43 408.33 L379.78 407.71 L380.13 408.22 L380.48 408.54 L380.83 408.28 L381.18 408.44 L381.53 408.32 L381.88 408.18 L382.23 408.40 L382.58 408.38 L382.93 408.37 L383.28 408.10 L383.63 408.12 L383.98 407.49 L384.33 408.29 L384.68 407.96 L385.03 408.05 L385.38 408.49 L385.73 408.31 L386.08 408.37 L386.43 408.05 L386.78 408.39 L387.13 408.26 L387.48 408.31 L387.83 408.23 L388.18 408.72 L388.53 407.94 L388.88 408.33 L389.23 408.34 L389.58 408.52 L389.93 408.41 L390.28 408.13 L390.63 408.31 L390.98 408.69 L391.33 408.57 L391.68 408.16 L392.03 408.32 L392.38 408.24 L392.73 408.64 L393.08 408.15 L393.43 408.64 L393.78 408.74 L394.13 408.24 L394.48 408.91 L394.83 408.21 L395.18 408.22 L395.53 408.49 L395.88 408.14 L396.23 408.31 L396.58 407.95 L396.93 408.17 L397.28 408.30 L397.63 407.90 L397.98 408.48 L398.33 408.49 L398.68 408.25 L399.03 408.47 L399.38 408.47 L399.73 408.06 L400.08 408.43 L400.43 408.34 L400.78 408.10 L401.13 408.39 L401.48 407.98 L401.83 407.49 L402.18 408.40 L402.50 408.35" fill="none" stroke="#37AD6B" stroke-width="1.40" stroke-linejoin="round" stroke-linecap="round"/>
<path d="M179.34 404.29 L179.69 403.88 L180.04 403.28 L180.39 402.52 L180.74 401.65 L181.09 400.66 L181.44 399.08 L181.79 397.56 L182.14 396.98 L182.49 396.76 L182.84 396.62 L183.19 396.47 L183.54 396.24 L183.89 395.76 L184.24 394.87 L184.59 393.61 L184.94 392.00 L185.29 389.58 L185.64 385.65 L185.99 379.50 L186.34 369.36 L186.69 367.54 L187.04 366.51 L187.39 364.99 L187.74 361.79 L188.09 357.70 L188.44 354.26 L188.79 352.85 L189.14 352.20 L189.49 351.66 L189.84 351.22 L190.19 350.91 L190.54 350.72 L190.89 350.66 L191.24 350.74 L191.59 350.97 L191.94 351.37 L192.29 356.82 L192.64 360.18 L192.99 359.71 L193.34 359.08 L193.69 358.77 L194.04 358.68 L194.39 358.62 L194.74 358.58 L195.09 358.54 L195.44 358.51 L195.79 358.47 L196.14 358.41 L196.49 358.31 L196.84 358.12 L197.19 357.83 L197.54 357.48 L197.89 357.13 L198.24 356.80 L198.59 356.54 L198.94 356.40 L199.29 356.37 L199.64 356.37 L199.99 356.37 L200.34 356.37 L200.69 356.37 L201.04 356.37 L201.39 356.37 L201.74 356.37 L202.09 356.34 L202.44 356.17 L202.79 355.88 L203.14 355.49 L203.49 355.03 L203.84 354.51 L204.19 353.97 L204.54 353.43 L204.89 352.91 L205.24 352.43 L205.59 351.96 L205.94 351.48 L206.29 350.99 L206.64 350.48 L206.99 349.96 L207.34 349.42 L207.69 348.86 L208.04 348.29 L208.39 347.70 L208.74 347.09 L209.09 346.45 L209.44 345.78 L209.79 345.08 L210.14 344.37 L210.49 343.63 L210.84 342.89 L211.19 342.13 L211.54 341.28 L211.89 340.31 L212.24 339.27 L212.59 338.23 L212.94 337.27 L213.29 336.44 L213.64 335.82 L213.99 335.47 L214.34 335.32 L214.69 335.22 L215.04 335.06 L215.39 334.70 L215.74 334.07 L216.09 333.23 L216.44 332.26 L216.79 331.22 L217.14 330.18 L217.49 329.21 L217.84 328.38 L218.19 327.57 L218.54 326.73 L218.89 325.91 L219.24 325.16 L219.59 324.55 L219.94 324.12 L220.29 323.84 L220.64 323.58 L220.99 323.36 L221.34 323.17 L221.69 323.04 L222.04 322.97 L222.39 322.97 L222.74 322.97 L223.09 322.99 L223.44 323.03 L223.79 323.09 L224.14 323.17 L224.49 323.30 L224.84 323.46 L225.19 324.09 L225.54 323.88 L225.89 323.54 L226.24 323.13 L226.59 322.69 L226.94 322.30 L227.29 322.00 L227.64 321.87 L227.99 321.88 L228.34 321.66 L228.69 321.31 L229.04 320.85 L229.39 320.32 L229.74 319.76 L230.09 319.21 L230.44 318.70 L230.79 318.22 L231.14 317.73 L231.49 317.22 L231.84 316.69 L232.19 316.15 L232.54 315.61 L232.89 315.06 L233.24 314.52 L233.59 313.98 L233.94 313.46 L234.29 312.91 L234.64 312.36 L234.99 311.80 L235.34 311.24 L235.69 310.69 L236.04 310.16 L236.39 309.65 L236.74 309.17 L237.09 308.73 L237.44 308.32 L237.79 307.93 L238.14 307.55 L238.49 307.18 L238.84 306.83 L239.19 306.50 L239.54 306.17 L239.89 305.86 L240.24 305.56 L240.59 305.26 L240.94 304.94 L241.29 304.60 L241.64 304.27 L241.99 303.96 L242.34 303.69 L242.69 303.47 L243.04 303.31 L243.39 303.24 L243.74 303.30 L244.09 303.53 L244.44 303.89 L244.79 304.34 L245.14 304.86 L245.49 305.40 L245.84 305.93 L246.19 306.48 L246.54 307.09 L246.89 307.78 L247.24 308.51 L247.59 309.28 L247.94 309.74 L248.29 310.53 L248.64 311.67 L248.99 312.26 L249.34 313.61 L249.69 314.34 L250.04 315.67 L250.39 317.76 L250.74 318.72 L251.09 321.69 L251.44 322.59 L251.79 324.22 L252.14 326.72 L252.49 328.78 L252.84 330.71 L253.19 332.24 L253.54 333.53 L253.89 335.26 L254.24 336.94 L254.59 338.81 L254.94 340.61 L255.29 342.41 L255.64 344.37 L255.99 345.37 L256.34 347.64 L256.69 349.85 L257.04 351.06 L257.39 352.80 L257.74 354.19 L258.09 355.88 L258.44 357.18 L258.79 358.20 L259.14 360.27 L259.49 361.65 L259.84 362.64 L260.19 363.69 L260.54 365.56 L260.89 366.67 L261.24 368.68 L261.59 369.71 L261.94 370.73 L262.29 372.44 L262.64 374.74 L262.99 375.57 L263.34 376.57 L263.69 377.80 L264.04 378.60 L264.39 380.29 L264.74 380.90 L265.09 382.86 L265.44 384.40 L265.79 385.64 L266.14 386.53 L266.49 387.60 L266.84 388.86 L267.19 390.00 L267.54 391.13 L267.89 391.96 L268.24 392.97 L268.59 393.66 L268.94 394.40 L269.29 395.77 L269.64 396.36 L269.99 397.22 L270.34 398.23 L270.69 398.25 L271.04 398.96 L271.39 399.66 L271.74 400.61 L272.09 400.50 L272.44 401.22 L272.79 402.13 L273.14 401.93 L273.49 403.03 L273.84 403.72 L274.19 403.80 L274.54 403.82 L274.89 404.29 L275.24 404.45 L275.59 405.00 L275.94 405.54 L276.29 405.79 L276.64 405.08 L276.99 405.71 L277.34 406.22 L277.69 406.21 L278.04 405.78 L278.39 406.71 L278.74 406.95 L279.09 406.93 L279.44 407.03 L279.79 407.43 L280.14 406.85 L280.49 407.25 L280.84 407.53 L281.19 408.47 L281.54 407.35 L281.89 407.85 L282.24 408.19 L282.59 407.97 L282.94 408.05 L283.29 408.22 L283.64 407.40 L283.99 408.10 L284.34 407.87 L284.69 408.48 L285.04 408.20 L285.39 408.18 L285.74 408.19 L286.09 407.81 L286.44 408.46 L286.79 407.76 L287.14 408.19 L287.49 408.17 L287.84 408.58 L288.19 408.32 L288.54 408.10 L288.89 408.56 L289.24 408.88 L289.59 408.11 L289.94 408.81 L290.29 408.24 L290.64 408.38 L290.99 408.39 L291.34 408.16 L291.69 408.93 L292.04 408.69 L292.39 408.63 L292.74 408.04 L293.09 408.60 L293.44 408.14 L293.79 408.77 L294.14 407.86 L294.49 408.58 L294.84 407.92 L295.19 407.94 L295.54 408.43 L295.89 408.62 L296.24 408.69 L296.59 408.25 L296.94 408.21 L297.29 408.63 L297.64 408.03 L297.99 408.04 L298.34 408.52 L298.69 408.50 L299.04 408.39 L299.39 408.73 L299.74 407.89 L300.09 408.51 L300.44 409.00 L300.79 408.25 L301.14 408.00 L301.49 408.73 L301.84 408.53 L302.19 408.72 L302.54 408.58 L302.89 408.24 L303.24 408.31 L303.59 408.03 L303.94 409.13 L304.29 408.11 L304.64 408.27 L304.99 408.18 L305.34 408.50 L305.69 408.79 L306.04 408.23 L306.39 408.51 L306.74 408.59 L307.09 409.01 L307.44 408.31 L307.79 408.45 L308.14 408.85 L308.49 407.96 L308.84 408.37 L309.19 408.40 L309.54 408.05 L309.89 408.32 L310.24 408.44 L310.59 408.70 L310.94 408.64 L311.29 408.22 L311.64 408.11 L311.99 408.65 L312.34 407.94 L312.69 408.22 L313.04 408.05 L313.39 407.92 L313.74 408.45 L314.09 407.96 L314.44 408.19 L314.79 408.73 L315.14 408.82 L315.49 407.98 L315.84 408.10 L316.19 408.12 L316.54 407.98 L316.89 408.75 L317.24 408.62 L317.59 408.51 L317.94 408.09 L318.29 408.58 L318.64 408.42 L318.99 408.36 L319.34 408.53 L319.69 408.76 L320.04 408.35 L320.39 408.25 L320.74 408.07 L321.09 408.77 L321.44 408.51 L321.79 407.68 L322.14 408.40 L322.49 408.60 L322.84 407.91 L323.19 407.94 L323.54 408.66 L323.89 408.28 L324.24 407.94 L324.59 408.37 L324.94 408.46 L325.29 408.09 L325.64 408.13 L325.99 408.37 L326.34 408.34 L326.69 408.87 L327.04 408.74 L327.39 408.51 L327.74 408.17 L328.09 408.19 L328.44 407.72 L328.79 408.34 L329.14 408.24 L329.49 408.17 L329.84 408.57 L330.19 408.72 L330.54 407.83 L330.89 408.48 L331.24 408.49 L331.59 408.18 L331.94 408.15 L332.29 408.85 L332.64 408.57 L332.99 408.97 L333.34 408.14 L333.69 408.06 L334.04 408.28 L334.39 408.61 L334.74 408.73 L335.09 408.92 L335.44 408.18 L335.79 407.95 L336.14 408.64 L336.49 408.62 L336.84 408.52 L337.19 408.77 L337.54 408.13 L337.89 407.90 L338.24 408.95 L338.59 408.45 L338.94 408.28 L339.29 408.59 L339.64 409.00 L339.99 408.42 L340.34 408.86 L340.69 408.39 L341.04 408.91 L341.39 408.42 L341.74 408.71 L342.09 408.36 L342.44 408.54 L342.79 408.43 L343.14 408.25 L343.49 408.40 L343.84 408.57 L344.19 408.33 L344.54 408.21 L344.89 408.48 L345.24 408.78 L345.59 408.34 L345.94 408.08 L346.29 408.11 L346.64 408.37 L346.99 408.83 L347.34 408.07 L347.69 408.69 L348.04 408.31 L348.39 408.17 L348.74 408.21 L349.09 408.69 L349.44 408.23 L349.79 408.75 L350.14 408.94 L350.49 408.11 L350.84 407.99 L351.19 407.86 L351.54 408.51 L351.89 408.11 L352.24 408.18 L352.59 408.13 L352.94 408.75 L353.29 408.55 L353.64 408.53 L353.99 407.86 L354.34 408.11 L354.69 408.34 L355.04 408.32 L355.39 408.44 L355.74 408.81 L356.09 408.55 L356.44 408.58 L356.79 408.32 L357.14 408.24 L357.49 408.22 L357.84 408.32 L358.19 407.88 L358.54 408.19 L358.89 408.36 L359.24 408.21 L359.59 408.34 L359.94 407.83 L360.29 408.19 L360.64 408.35 L360.99 408.68 L361.34 408.38 L361.69 408.29 L362.04 408.19 L362.39 408.36 L362.74 408.20 L363.09 408.56 L363.44 408.19 L363.79 408.54 L364.14 408.16 L364.49 407.92 L364.84 407.93 L365.19 408.61 L365.54 408.18 L365.89 408.21 L366.24 409.07 L366.59 408.01 L366.94 408.33 L367.29 407.96 L367.64 408.17 L367.99 408.49 L368.34 408.26 L368.69 408.88 L369.04 408.08 L369.39 408.15 L369.74 407.94 L370.09 408.35 L370.44 408.12 L370.79 408.30 L371.14 408.11 L371.49 408.47 L371.84 408.16 L372.19 408.37 L372.54 408.31 L372.89 408.13 L373.24 408.35 L373.59 408.34 L373.94 408.49 L374.29 407.79 L374.64 408.77 L374.99 408.38 L375.34 408.47 L375.69 408.50 L376.04 407.96 L376.39 408.56 L376.74 408.43 L377.09 408.21 L377.44 408.58 L377.79 408.28 L378.14 408.07 L378.49 408.60 L378.84 408.58 L379.19 408.45 L379.54 408.32 L379.89 408.81 L380.24 408.19 L380.59 408.42 L380.94 408.31 L381.29 408.30 L381.64 408.49 L381.99 408.08 L382.34 408.50 L382.69 408.44 L383.04 408.27 L383.39 408.16 L383.74 407.97 L384.09 408.39 L384.44 408.84 L384.79 408.18 L385.14 408.10 L385.49 408.17 L385.84 408.44 L386.19 408.50 L386.54 408.46 L386.89 408.35 L387.24 408.02 L387.59 408.65 L387.94 408.27 L388.29 408.47 L388.64 408.39 L388.99 408.36 L389.34 408.59 L389.69 408.40 L390.04 408.95 L390.39 408.78 L390.74 408.62 L391.09 408.29 L391.44 408.60 L391.79 408.47 L392.14 408.57 L392.49 408.39 L392.84 408.09 L393.19 408.10 L393.54 408.35 L393.89 408.61 L394.24 408.35 L394.59 408.20 L394.94 408.32 L395.29 408.56 L395.64 408.24 L395.99 408.23 L396.34 408.40 L396.69 408.56 L397.04 408.03 L397.39 408.26 L397.74 408.37 L398.09 408.25 L398.44 408.51 L398.79 408.61 L399.14 408.16 L399.49 409.04 L399.84 408.48 L400.19 408.81 L400.54 408.58 L400.89 407.86 L401.24 408.02 L401.59 408.44 L401.94 408.52 L402.29 408.54 L402.50 407.82" fill="none" stroke="#B177DE" stroke-width="1.40" stroke-linejoin="round" stroke-linecap="round"/>
</g>
<rect x="170.40" y="236.40" width="232.10" height="175.05" fill="none" stroke="#4a4a4a" stroke-width="0.9"/>
<line x1="170.40" y1="411.45" x2="170.40" y2="414.45" stroke="#4a4a4a" stroke-width="0.9"/>
<text x="170.40" y="422.95" text-anchor="middle" class="t">0</text>
<line x1="209.08" y1="411.45" x2="209.08" y2="414.45" stroke="#4a4a4a" stroke-width="0.9"/>
<text x="209.08" y="422.95" text-anchor="middle" class="t">50</text>
<line x1="247.77" y1="411.45" x2="247.77" y2="414.45" stroke="#4a4a4a" stroke-width="0.9"/>
<text x="247.77" y="422.95" text-anchor="middle" class="t">100</text>
<line x1="286.45" y1="411.45" x2="286.45" y2="414.45" stroke="#4a4a4a" stroke-width="0.9"/>
<text x="286.45" y="422.95" text-anchor="middle" class="t">150</text>
<line x1="325.13" y1="411.45" x2="325.13" y2="414.45" stroke="#4a4a4a" stroke-width="0.9"/>
<text x="325.13" y="422.95" text-anchor="middle" class="t">200</text>
<line x1="363.82" y1="411.45" x2="363.82" y2="414.45" stroke="#4a4a4a" stroke-width="0.9"/>
<text x="363.82" y="422.95" text-anchor="middle" class="t">250</text>
<line x1="402.50" y1="411.45" x2="402.50" y2="414.45" stroke="#4a4a4a" stroke-width="0.9"/>
<text x="402.50" y="422.95" text-anchor="middle" class="t">300</text>
<line x1="189.74" y1="411.45" x2="189.74" y2="413.05" stroke="#4a4a4a" stroke-width="0.8"/>
<line x1="228.43" y1="411.45" x2="228.43" y2="413.05" stroke="#4a4a4a" stroke-width="0.8"/>
<line x1="267.11" y1="411.45" x2="267.11" y2="413.05" stroke="#4a4a4a" stroke-width="0.8"/>
<line x1="305.79" y1="411.45" x2="305.79" y2="413.05" stroke="#4a4a4a" stroke-width="0.8"/>
<line x1="344.48" y1="411.45" x2="344.48" y2="413.05" stroke="#4a4a4a" stroke-width="0.8"/>
<line x1="383.16" y1="411.45" x2="383.16" y2="413.05" stroke="#4a4a4a" stroke-width="0.8"/>
<line x1="167.40" y1="407.45" x2="170.40" y2="407.45" stroke="#4a4a4a" stroke-width="0.9"/>
<text x="165.20" y="409.75" text-anchor="end" class="t">0</text>
<line x1="167.40" y1="388.45" x2="170.40" y2="388.45" stroke="#4a4a4a" stroke-width="0.9"/>
<text x="165.20" y="390.75" text-anchor="end" class="t">250</text>
<line x1="167.40" y1="369.45" x2="170.40" y2="369.45" stroke="#4a4a4a" stroke-width="0.9"/>
<text x="165.20" y="371.75" text-anchor="end" class="t">500</text>
<line x1="167.40" y1="350.45" x2="170.40" y2="350.45" stroke="#4a4a4a" stroke-width="0.9"/>
<text x="165.20" y="352.75" text-anchor="end" class="t">750</text>
<line x1="167.40" y1="331.45" x2="170.40" y2="331.45" stroke="#4a4a4a" stroke-width="0.9"/>
<text x="165.20" y="333.75" text-anchor="end" class="t">1000</text>
<line x1="167.40" y1="312.45" x2="170.40" y2="312.45" stroke="#4a4a4a" stroke-width="0.9"/>
<text x="165.20" y="314.75" text-anchor="end" class="t">1250</text>
<line x1="167.40" y1="293.45" x2="170.40" y2="293.45" stroke="#4a4a4a" stroke-width="0.9"/>
<text x="165.20" y="295.75" text-anchor="end" class="t">1500</text>
<line x1="167.40" y1="274.45" x2="170.40" y2="274.45" stroke="#4a4a4a" stroke-width="0.9"/>
<text x="165.20" y="276.75" text-anchor="end" class="t">1750</text>
<line x1="167.40" y1="255.45" x2="170.40" y2="255.45" stroke="#4a4a4a" stroke-width="0.9"/>
<text x="165.20" y="257.75" text-anchor="end" class="t">2000</text>
<line x1="167.40" y1="236.45" x2="170.40" y2="236.45" stroke="#4a4a4a" stroke-width="0.9"/>
<text x="165.20" y="238.75" text-anchor="end" class="t">2250</text>
<line x1="168.80" y1="397.95" x2="170.40" y2="397.95" stroke="#4a4a4a" stroke-width="0.8"/>
<line x1="168.80" y1="378.95" x2="170.40" y2="378.95" stroke="#4a4a4a" stroke-width="0.8"/>
<line x1="168.80" y1="359.95" x2="170.40" y2="359.95" stroke="#4a4a4a" stroke-width="0.8"/>
<line x1="168.80" y1="340.95" x2="170.40" y2="340.95" stroke="#4a4a4a" stroke-width="0.8"/>
<line x1="168.80" y1="321.95" x2="170.40" y2="321.95" stroke="#4a4a4a" stroke-width="0.8"/>
<line x1="168.80" y1="302.95" x2="170.40" y2="302.95" stroke="#4a4a4a" stroke-width="0.8"/>
<line x1="168.80" y1="283.95" x2="170.40" y2="283.95" stroke="#4a4a4a" stroke-width="0.8"/>
<line x1="168.80" y1="264.95" x2="170.40" y2="264.95" stroke="#4a4a4a" stroke-width="0.8"/>
<line x1="168.80" y1="245.95" x2="170.40" y2="245.95" stroke="#4a4a4a" stroke-width="0.8"/>
<line x1="286.45" y1="236.40" x2="286.45" y2="237.60" stroke="#4a4a4a" stroke-width="0.7"/>
<line x1="401.30" y1="323.93" x2="402.50" y2="323.93" stroke="#4a4a4a" stroke-width="0.7"/>
<text transform="translate(143.30 323.93) rotate(-90)" text-anchor="middle" class="l" style="font-size:8.50px">Pressure, Pa</text>
<text x="288.00" y="434.00" text-anchor="middle" class="l">Time, s</text>
<line x1="337.00" y1="242.30" x2="355.30" y2="242.30" stroke="#515151" stroke-width="1.50"/>
<text x="357.20" y="245.20" class="t">W20_1,1</text>
<line x1="337.00" y1="252.10" x2="355.30" y2="252.10" stroke="#F14040" stroke-width="1.50"/>
<text x="357.20" y="255.00" class="t">W22_1,1</text>
<line x1="337.00" y1="261.90" x2="355.30" y2="261.90" stroke="#1A6FDF" stroke-width="1.50"/>
<text x="357.20" y="264.80" class="t">W24_1,1</text>
<line x1="337.00" y1="271.60" x2="355.30" y2="271.60" stroke="#37AD6B" stroke-width="1.50"/>
<text x="357.20" y="274.50" class="t">W26_1,1</text>
<line x1="337.00" y1="281.30" x2="355.30" y2="281.30" stroke="#B177DE" stroke-width="1.50"/>
<text x="357.20" y="284.20" class="t">W28_1,1</text>
<text x="129.3" y="222.6" text-anchor="middle" class="c">(<tspan font-weight="bold">a</tspan>)</text>
<text x="412.7" y="222.5" text-anchor="middle" class="c">(<tspan font-weight="bold">b</tspan>)</text>
<text x="271.8" y="451.4" text-anchor="middle" class="c">(<tspan font-weight="bold">c</tspan>)</text>
</svg>
</body></html>
